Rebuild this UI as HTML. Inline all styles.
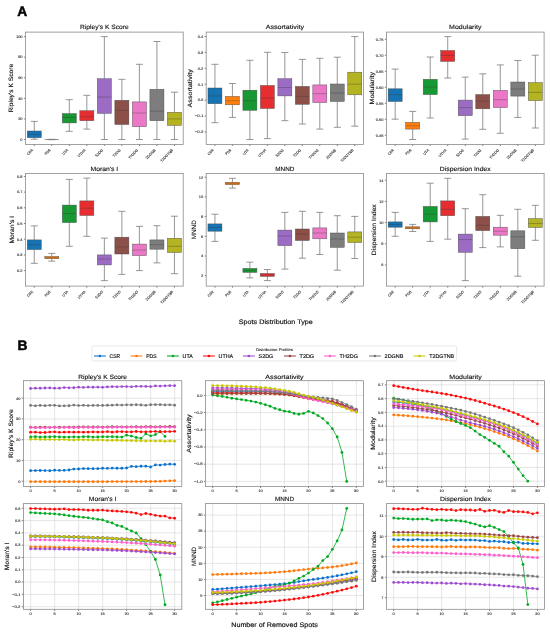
<!DOCTYPE html>
<html><head><meta charset="utf-8"><style>
html,body{margin:0;padding:0;background:#fff;width:550px;height:632px;overflow:hidden}
svg{display:block;font-family:"Liberation Sans",sans-serif;text-rendering:geometricPrecision;will-change:transform;filter:blur(0.35px)}
</style></head><body>
<svg width="550" height="632" viewBox="0 0 550 632"><defs><clipPath id="c0"><rect x="23.40" y="377.70" width="158.40" height="111.70"/></clipPath><clipPath id="c1"><rect x="205.50" y="377.70" width="158.00" height="111.70"/></clipPath><clipPath id="c2"><rect x="386.50" y="377.70" width="158.10" height="111.70"/></clipPath><clipPath id="c3"><rect x="23.40" y="500.60" width="158.40" height="111.70"/></clipPath><clipPath id="c4"><rect x="205.50" y="500.60" width="158.00" height="111.70"/></clipPath><clipPath id="c5"><rect x="386.50" y="500.60" width="158.10" height="111.70"/></clipPath></defs>
<rect width="550" height="632" fill="#fff"/>
<line x1="23.90" y1="139.50" x2="25.50" y2="139.50" stroke="#555" stroke-width="0.75"/>
<text x="22.60" y="140.80" font-size="3.65" text-anchor="end" fill="#111" textLength="2.23" lengthAdjust="spacingAndGlyphs" stroke="#111" stroke-width="0.08" >0</text>
<line x1="23.90" y1="118.92" x2="25.50" y2="118.92" stroke="#555" stroke-width="0.75"/>
<text x="22.60" y="120.22" font-size="3.65" text-anchor="end" fill="#111" textLength="4.45" lengthAdjust="spacingAndGlyphs" stroke="#111" stroke-width="0.08" >20</text>
<line x1="23.90" y1="98.34" x2="25.50" y2="98.34" stroke="#555" stroke-width="0.75"/>
<text x="22.60" y="99.64" font-size="3.65" text-anchor="end" fill="#111" textLength="4.45" lengthAdjust="spacingAndGlyphs" stroke="#111" stroke-width="0.08" >40</text>
<line x1="23.90" y1="77.76" x2="25.50" y2="77.76" stroke="#555" stroke-width="0.75"/>
<text x="22.60" y="79.06" font-size="3.65" text-anchor="end" fill="#111" textLength="4.45" lengthAdjust="spacingAndGlyphs" stroke="#111" stroke-width="0.08" >60</text>
<line x1="23.90" y1="57.18" x2="25.50" y2="57.18" stroke="#555" stroke-width="0.75"/>
<text x="22.60" y="58.48" font-size="3.65" text-anchor="end" fill="#111" textLength="4.45" lengthAdjust="spacingAndGlyphs" stroke="#111" stroke-width="0.08" >80</text>
<line x1="23.90" y1="36.60" x2="25.50" y2="36.60" stroke="#555" stroke-width="0.75"/>
<text x="22.60" y="37.90" font-size="3.65" text-anchor="end" fill="#111" textLength="6.68" lengthAdjust="spacingAndGlyphs" stroke="#111" stroke-width="0.08" >100</text>
<text x="104.35" y="29.45" font-size="6.25" text-anchor="middle" fill="#111" textLength="48.68" lengthAdjust="spacingAndGlyphs" stroke="#111" stroke-width="0.13" >Ripley&#39;s K Score</text>
<text x="0" y="0" font-size="6.25" text-anchor="middle" fill="#111" stroke="#111" stroke-width="0.13" textLength="48.68" lengthAdjust="spacingAndGlyphs" transform="translate(12.50,88.25) rotate(-90)">Ripley&#39;s K Score</text>
<line x1="34.26" y1="121.40" x2="34.26" y2="131.00" stroke="#7c7c7c" stroke-width="0.8"/>
<line x1="34.26" y1="137.70" x2="34.26" y2="139.20" stroke="#7c7c7c" stroke-width="0.8"/>
<line x1="30.76" y1="121.40" x2="37.77" y2="121.40" stroke="#7c7c7c" stroke-width="0.8"/>
<line x1="30.76" y1="139.20" x2="37.77" y2="139.20" stroke="#7c7c7c" stroke-width="0.8"/>
<rect x="27.25" y="131.00" width="14.02" height="6.70" fill="#1674b4" stroke="#444" stroke-opacity="0.85" stroke-width="0.5"/>
<line x1="27.25" y1="134.40" x2="41.27" y2="134.40" stroke="#333" stroke-opacity="0.55" stroke-width="0.6"/>
<line x1="34.26" y1="144.40" x2="34.26" y2="146.00" stroke="#555" stroke-width="0.75"/>
<text x="0" y="0" font-size="3.65" text-anchor="end" fill="#111" stroke="#111" stroke-width="0.08" textLength="7.10" lengthAdjust="spacingAndGlyphs" transform="translate(33.36,150.40) rotate(-45)">CSR</text>
<line x1="51.78" y1="139.30" x2="51.78" y2="139.30" stroke="#7c7c7c" stroke-width="0.8"/>
<line x1="51.78" y1="139.70" x2="51.78" y2="139.70" stroke="#7c7c7c" stroke-width="0.8"/>
<line x1="48.28" y1="139.30" x2="55.29" y2="139.30" stroke="#7c7c7c" stroke-width="0.8"/>
<line x1="48.28" y1="139.70" x2="55.29" y2="139.70" stroke="#7c7c7c" stroke-width="0.8"/>
<line x1="44.77" y1="139.50" x2="58.79" y2="139.50" stroke="#777" stroke-width="0.8"/>
<line x1="51.78" y1="144.40" x2="51.78" y2="146.00" stroke="#555" stroke-width="0.75"/>
<text x="0" y="0" font-size="3.65" text-anchor="end" fill="#111" stroke="#111" stroke-width="0.08" textLength="7.03" lengthAdjust="spacingAndGlyphs" transform="translate(50.88,150.40) rotate(-45)">PDS</text>
<line x1="69.31" y1="99.70" x2="69.31" y2="113.60" stroke="#7c7c7c" stroke-width="0.8"/>
<line x1="69.31" y1="122.90" x2="69.31" y2="131.30" stroke="#7c7c7c" stroke-width="0.8"/>
<line x1="65.80" y1="99.70" x2="72.81" y2="99.70" stroke="#7c7c7c" stroke-width="0.8"/>
<line x1="65.80" y1="131.30" x2="72.81" y2="131.30" stroke="#7c7c7c" stroke-width="0.8"/>
<rect x="62.30" y="113.60" width="14.02" height="9.30" fill="#179832" stroke="#444" stroke-opacity="0.85" stroke-width="0.5"/>
<line x1="62.30" y1="117.40" x2="76.31" y2="117.40" stroke="#333" stroke-opacity="0.55" stroke-width="0.6"/>
<line x1="69.31" y1="144.40" x2="69.31" y2="146.00" stroke="#555" stroke-width="0.75"/>
<text x="0" y="0" font-size="3.65" text-anchor="end" fill="#111" stroke="#111" stroke-width="0.08" textLength="6.82" lengthAdjust="spacingAndGlyphs" transform="translate(68.41,150.40) rotate(-45)">UTA</text>
<line x1="86.83" y1="95.30" x2="86.83" y2="110.70" stroke="#7c7c7c" stroke-width="0.8"/>
<line x1="86.83" y1="120.70" x2="86.83" y2="129.10" stroke="#7c7c7c" stroke-width="0.8"/>
<line x1="83.32" y1="95.30" x2="90.33" y2="95.30" stroke="#7c7c7c" stroke-width="0.8"/>
<line x1="83.32" y1="129.10" x2="90.33" y2="129.10" stroke="#7c7c7c" stroke-width="0.8"/>
<rect x="79.82" y="110.70" width="14.02" height="10.00" fill="#e62e30" stroke="#444" stroke-opacity="0.85" stroke-width="0.5"/>
<line x1="79.82" y1="116.70" x2="93.84" y2="116.70" stroke="#333" stroke-opacity="0.55" stroke-width="0.6"/>
<line x1="86.83" y1="144.40" x2="86.83" y2="146.00" stroke="#555" stroke-width="0.75"/>
<text x="0" y="0" font-size="3.65" text-anchor="end" fill="#111" stroke="#111" stroke-width="0.08" textLength="9.73" lengthAdjust="spacingAndGlyphs" transform="translate(85.93,150.40) rotate(-45)">UTHA</text>
<line x1="104.35" y1="36.60" x2="104.35" y2="78.70" stroke="#7c7c7c" stroke-width="0.8"/>
<line x1="104.35" y1="113.40" x2="104.35" y2="139.50" stroke="#7c7c7c" stroke-width="0.8"/>
<line x1="100.85" y1="36.60" x2="107.85" y2="36.60" stroke="#7c7c7c" stroke-width="0.8"/>
<line x1="100.85" y1="139.50" x2="107.85" y2="139.50" stroke="#7c7c7c" stroke-width="0.8"/>
<rect x="97.34" y="78.70" width="14.02" height="34.70" fill="#9c6cc4" stroke="#444" stroke-opacity="0.85" stroke-width="0.5"/>
<line x1="97.34" y1="97.00" x2="111.36" y2="97.00" stroke="#333" stroke-opacity="0.55" stroke-width="0.6"/>
<line x1="104.35" y1="144.40" x2="104.35" y2="146.00" stroke="#555" stroke-width="0.75"/>
<text x="0" y="0" font-size="3.65" text-anchor="end" fill="#111" stroke="#111" stroke-width="0.08" textLength="9.86" lengthAdjust="spacingAndGlyphs" transform="translate(103.45,150.40) rotate(-45)">S2DG</text>
<line x1="121.87" y1="79.30" x2="121.87" y2="100.30" stroke="#7c7c7c" stroke-width="0.8"/>
<line x1="121.87" y1="124.50" x2="121.87" y2="139.50" stroke="#7c7c7c" stroke-width="0.8"/>
<line x1="118.37" y1="79.30" x2="125.38" y2="79.30" stroke="#7c7c7c" stroke-width="0.8"/>
<line x1="118.37" y1="139.50" x2="125.38" y2="139.50" stroke="#7c7c7c" stroke-width="0.8"/>
<rect x="114.86" y="100.30" width="14.02" height="24.20" fill="#8c5048" stroke="#444" stroke-opacity="0.85" stroke-width="0.5"/>
<line x1="114.86" y1="110.30" x2="128.88" y2="110.30" stroke="#333" stroke-opacity="0.55" stroke-width="0.6"/>
<line x1="121.87" y1="144.40" x2="121.87" y2="146.00" stroke="#555" stroke-width="0.75"/>
<text x="0" y="0" font-size="3.65" text-anchor="end" fill="#111" stroke="#111" stroke-width="0.08" textLength="9.77" lengthAdjust="spacingAndGlyphs" transform="translate(120.97,150.40) rotate(-45)">T2DG</text>
<line x1="139.39" y1="64.30" x2="139.39" y2="101.90" stroke="#7c7c7c" stroke-width="0.8"/>
<line x1="139.39" y1="126.70" x2="139.39" y2="139.50" stroke="#7c7c7c" stroke-width="0.8"/>
<line x1="135.89" y1="64.30" x2="142.90" y2="64.30" stroke="#7c7c7c" stroke-width="0.8"/>
<line x1="135.89" y1="139.50" x2="142.90" y2="139.50" stroke="#7c7c7c" stroke-width="0.8"/>
<rect x="132.39" y="101.90" width="14.02" height="24.80" fill="#eb78c6" stroke="#444" stroke-opacity="0.85" stroke-width="0.5"/>
<line x1="132.39" y1="113.00" x2="146.40" y2="113.00" stroke="#333" stroke-opacity="0.55" stroke-width="0.6"/>
<line x1="139.39" y1="144.40" x2="139.39" y2="146.00" stroke="#555" stroke-width="0.75"/>
<text x="0" y="0" font-size="3.65" text-anchor="end" fill="#111" stroke="#111" stroke-width="0.08" textLength="12.40" lengthAdjust="spacingAndGlyphs" transform="translate(138.49,150.40) rotate(-45)">TH2DG</text>
<line x1="156.92" y1="41.50" x2="156.92" y2="89.30" stroke="#7c7c7c" stroke-width="0.8"/>
<line x1="156.92" y1="120.70" x2="156.92" y2="139.50" stroke="#7c7c7c" stroke-width="0.8"/>
<line x1="153.41" y1="41.50" x2="160.42" y2="41.50" stroke="#7c7c7c" stroke-width="0.8"/>
<line x1="153.41" y1="139.50" x2="160.42" y2="139.50" stroke="#7c7c7c" stroke-width="0.8"/>
<rect x="149.91" y="89.30" width="14.02" height="31.40" fill="#7d7d7d" stroke="#444" stroke-opacity="0.85" stroke-width="0.5"/>
<line x1="149.91" y1="111.20" x2="163.93" y2="111.20" stroke="#333" stroke-opacity="0.55" stroke-width="0.6"/>
<line x1="156.92" y1="144.40" x2="156.92" y2="146.00" stroke="#555" stroke-width="0.75"/>
<text x="0" y="0" font-size="3.65" text-anchor="end" fill="#111" stroke="#111" stroke-width="0.08" textLength="12.65" lengthAdjust="spacingAndGlyphs" transform="translate(156.02,150.40) rotate(-45)">2DGNB</text>
<line x1="174.44" y1="92.20" x2="174.44" y2="112.30" stroke="#7c7c7c" stroke-width="0.8"/>
<line x1="174.44" y1="125.40" x2="174.44" y2="139.50" stroke="#7c7c7c" stroke-width="0.8"/>
<line x1="170.93" y1="92.20" x2="177.94" y2="92.20" stroke="#7c7c7c" stroke-width="0.8"/>
<line x1="170.93" y1="139.50" x2="177.94" y2="139.50" stroke="#7c7c7c" stroke-width="0.8"/>
<rect x="167.43" y="112.30" width="14.02" height="13.10" fill="#b4b422" stroke="#444" stroke-opacity="0.85" stroke-width="0.5"/>
<line x1="167.43" y1="118.90" x2="181.45" y2="118.90" stroke="#333" stroke-opacity="0.55" stroke-width="0.6"/>
<line x1="174.44" y1="144.40" x2="174.44" y2="146.00" stroke="#555" stroke-width="0.75"/>
<text x="0" y="0" font-size="3.65" text-anchor="end" fill="#111" stroke="#111" stroke-width="0.08" textLength="16.80" lengthAdjust="spacingAndGlyphs" transform="translate(173.54,150.40) rotate(-45)">T2DGTNB</text>
<rect x="25.50" y="32.10" width="157.70" height="112.30" fill="none" stroke="#8a8a8a" stroke-width="0.8"/>
<line x1="204.60" y1="131.90" x2="206.20" y2="131.90" stroke="#555" stroke-width="0.75"/>
<text x="203.30" y="133.20" font-size="3.65" text-anchor="end" fill="#111" textLength="8.50" lengthAdjust="spacingAndGlyphs" stroke="#111" stroke-width="0.08" >−0.2</text>
<line x1="204.60" y1="116.00" x2="206.20" y2="116.00" stroke="#555" stroke-width="0.75"/>
<text x="203.30" y="117.30" font-size="3.65" text-anchor="end" fill="#111" textLength="8.50" lengthAdjust="spacingAndGlyphs" stroke="#111" stroke-width="0.08" >−0.1</text>
<line x1="204.60" y1="100.10" x2="206.20" y2="100.10" stroke="#555" stroke-width="0.75"/>
<text x="203.30" y="101.40" font-size="3.65" text-anchor="end" fill="#111" textLength="5.57" lengthAdjust="spacingAndGlyphs" stroke="#111" stroke-width="0.08" >0.0</text>
<line x1="204.60" y1="84.20" x2="206.20" y2="84.20" stroke="#555" stroke-width="0.75"/>
<text x="203.30" y="85.50" font-size="3.65" text-anchor="end" fill="#111" textLength="5.57" lengthAdjust="spacingAndGlyphs" stroke="#111" stroke-width="0.08" >0.1</text>
<line x1="204.60" y1="68.30" x2="206.20" y2="68.30" stroke="#555" stroke-width="0.75"/>
<text x="203.30" y="69.60" font-size="3.65" text-anchor="end" fill="#111" textLength="5.57" lengthAdjust="spacingAndGlyphs" stroke="#111" stroke-width="0.08" >0.2</text>
<line x1="204.60" y1="52.40" x2="206.20" y2="52.40" stroke="#555" stroke-width="0.75"/>
<text x="203.30" y="53.70" font-size="3.65" text-anchor="end" fill="#111" textLength="5.57" lengthAdjust="spacingAndGlyphs" stroke="#111" stroke-width="0.08" >0.3</text>
<line x1="204.60" y1="36.50" x2="206.20" y2="36.50" stroke="#555" stroke-width="0.75"/>
<text x="203.30" y="37.80" font-size="3.65" text-anchor="end" fill="#111" textLength="5.57" lengthAdjust="spacingAndGlyphs" stroke="#111" stroke-width="0.08" >0.4</text>
<text x="284.85" y="29.45" font-size="6.25" text-anchor="middle" fill="#111" textLength="38.29" lengthAdjust="spacingAndGlyphs" stroke="#111" stroke-width="0.13" >Assortativity</text>
<text x="0" y="0" font-size="6.25" text-anchor="middle" fill="#111" stroke="#111" stroke-width="0.13" textLength="38.29" lengthAdjust="spacingAndGlyphs" transform="translate(191.50,88.25) rotate(-90)">Assortativity</text>
<line x1="214.94" y1="64.30" x2="214.94" y2="88.00" stroke="#7c7c7c" stroke-width="0.8"/>
<line x1="214.94" y1="103.70" x2="214.94" y2="122.70" stroke="#7c7c7c" stroke-width="0.8"/>
<line x1="211.44" y1="64.30" x2="218.43" y2="64.30" stroke="#7c7c7c" stroke-width="0.8"/>
<line x1="211.44" y1="122.70" x2="218.43" y2="122.70" stroke="#7c7c7c" stroke-width="0.8"/>
<rect x="207.95" y="88.00" width="13.98" height="15.70" fill="#1674b4" stroke="#444" stroke-opacity="0.85" stroke-width="0.5"/>
<line x1="207.95" y1="95.90" x2="221.93" y2="95.90" stroke="#333" stroke-opacity="0.55" stroke-width="0.6"/>
<line x1="214.94" y1="144.40" x2="214.94" y2="146.00" stroke="#555" stroke-width="0.75"/>
<text x="0" y="0" font-size="3.65" text-anchor="end" fill="#111" stroke="#111" stroke-width="0.08" textLength="7.10" lengthAdjust="spacingAndGlyphs" transform="translate(214.04,150.40) rotate(-45)">CSR</text>
<line x1="232.42" y1="83.50" x2="232.42" y2="96.40" stroke="#7c7c7c" stroke-width="0.8"/>
<line x1="232.42" y1="104.80" x2="232.42" y2="117.40" stroke="#7c7c7c" stroke-width="0.8"/>
<line x1="228.92" y1="83.50" x2="235.91" y2="83.50" stroke="#7c7c7c" stroke-width="0.8"/>
<line x1="228.92" y1="117.40" x2="235.91" y2="117.40" stroke="#7c7c7c" stroke-width="0.8"/>
<rect x="225.43" y="96.40" width="13.98" height="8.40" fill="#ff800e" stroke="#444" stroke-opacity="0.85" stroke-width="0.5"/>
<line x1="225.43" y1="100.80" x2="239.41" y2="100.80" stroke="#333" stroke-opacity="0.55" stroke-width="0.6"/>
<line x1="232.42" y1="144.40" x2="232.42" y2="146.00" stroke="#555" stroke-width="0.75"/>
<text x="0" y="0" font-size="3.65" text-anchor="end" fill="#111" stroke="#111" stroke-width="0.08" textLength="7.03" lengthAdjust="spacingAndGlyphs" transform="translate(231.52,150.40) rotate(-45)">PDS</text>
<line x1="249.89" y1="60.30" x2="249.89" y2="90.20" stroke="#7c7c7c" stroke-width="0.8"/>
<line x1="249.89" y1="110.30" x2="249.89" y2="139.50" stroke="#7c7c7c" stroke-width="0.8"/>
<line x1="246.40" y1="60.30" x2="253.39" y2="60.30" stroke="#7c7c7c" stroke-width="0.8"/>
<line x1="246.40" y1="139.50" x2="253.39" y2="139.50" stroke="#7c7c7c" stroke-width="0.8"/>
<rect x="242.90" y="90.20" width="13.98" height="20.10" fill="#179832" stroke="#444" stroke-opacity="0.85" stroke-width="0.5"/>
<line x1="242.90" y1="100.80" x2="256.89" y2="100.80" stroke="#333" stroke-opacity="0.55" stroke-width="0.6"/>
<line x1="249.89" y1="144.40" x2="249.89" y2="146.00" stroke="#555" stroke-width="0.75"/>
<text x="0" y="0" font-size="3.65" text-anchor="end" fill="#111" stroke="#111" stroke-width="0.08" textLength="6.82" lengthAdjust="spacingAndGlyphs" transform="translate(248.99,150.40) rotate(-45)">UTA</text>
<line x1="267.37" y1="52.30" x2="267.37" y2="85.50" stroke="#7c7c7c" stroke-width="0.8"/>
<line x1="267.37" y1="108.50" x2="267.37" y2="138.60" stroke="#7c7c7c" stroke-width="0.8"/>
<line x1="263.88" y1="52.30" x2="270.87" y2="52.30" stroke="#7c7c7c" stroke-width="0.8"/>
<line x1="263.88" y1="138.60" x2="270.87" y2="138.60" stroke="#7c7c7c" stroke-width="0.8"/>
<rect x="260.38" y="85.50" width="13.98" height="23.00" fill="#e62e30" stroke="#444" stroke-opacity="0.85" stroke-width="0.5"/>
<line x1="260.38" y1="98.10" x2="274.36" y2="98.10" stroke="#333" stroke-opacity="0.55" stroke-width="0.6"/>
<line x1="267.37" y1="144.40" x2="267.37" y2="146.00" stroke="#555" stroke-width="0.75"/>
<text x="0" y="0" font-size="3.65" text-anchor="end" fill="#111" stroke="#111" stroke-width="0.08" textLength="9.73" lengthAdjust="spacingAndGlyphs" transform="translate(266.47,150.40) rotate(-45)">UTHA</text>
<line x1="284.85" y1="52.50" x2="284.85" y2="78.70" stroke="#7c7c7c" stroke-width="0.8"/>
<line x1="284.85" y1="95.90" x2="284.85" y2="120.70" stroke="#7c7c7c" stroke-width="0.8"/>
<line x1="281.35" y1="52.50" x2="288.35" y2="52.50" stroke="#7c7c7c" stroke-width="0.8"/>
<line x1="281.35" y1="120.70" x2="288.35" y2="120.70" stroke="#7c7c7c" stroke-width="0.8"/>
<rect x="277.86" y="78.70" width="13.98" height="17.20" fill="#9c6cc4" stroke="#444" stroke-opacity="0.85" stroke-width="0.5"/>
<line x1="277.86" y1="87.50" x2="291.84" y2="87.50" stroke="#333" stroke-opacity="0.55" stroke-width="0.6"/>
<line x1="284.85" y1="144.40" x2="284.85" y2="146.00" stroke="#555" stroke-width="0.75"/>
<text x="0" y="0" font-size="3.65" text-anchor="end" fill="#111" stroke="#111" stroke-width="0.08" textLength="9.86" lengthAdjust="spacingAndGlyphs" transform="translate(283.95,150.40) rotate(-45)">S2DG</text>
<line x1="302.33" y1="59.40" x2="302.33" y2="86.40" stroke="#7c7c7c" stroke-width="0.8"/>
<line x1="302.33" y1="104.30" x2="302.33" y2="124.00" stroke="#7c7c7c" stroke-width="0.8"/>
<line x1="298.83" y1="59.40" x2="305.82" y2="59.40" stroke="#7c7c7c" stroke-width="0.8"/>
<line x1="298.83" y1="124.00" x2="305.82" y2="124.00" stroke="#7c7c7c" stroke-width="0.8"/>
<rect x="295.34" y="86.40" width="13.98" height="17.90" fill="#8c5048" stroke="#444" stroke-opacity="0.85" stroke-width="0.5"/>
<line x1="295.34" y1="96.40" x2="309.32" y2="96.40" stroke="#333" stroke-opacity="0.55" stroke-width="0.6"/>
<line x1="302.33" y1="144.40" x2="302.33" y2="146.00" stroke="#555" stroke-width="0.75"/>
<text x="0" y="0" font-size="3.65" text-anchor="end" fill="#111" stroke="#111" stroke-width="0.08" textLength="9.77" lengthAdjust="spacingAndGlyphs" transform="translate(301.43,150.40) rotate(-45)">T2DG</text>
<line x1="319.81" y1="58.30" x2="319.81" y2="84.90" stroke="#7c7c7c" stroke-width="0.8"/>
<line x1="319.81" y1="102.60" x2="319.81" y2="129.10" stroke="#7c7c7c" stroke-width="0.8"/>
<line x1="316.31" y1="58.30" x2="323.30" y2="58.30" stroke="#7c7c7c" stroke-width="0.8"/>
<line x1="316.31" y1="129.10" x2="323.30" y2="129.10" stroke="#7c7c7c" stroke-width="0.8"/>
<rect x="312.81" y="84.90" width="13.98" height="17.70" fill="#eb78c6" stroke="#444" stroke-opacity="0.85" stroke-width="0.5"/>
<line x1="312.81" y1="93.70" x2="326.80" y2="93.70" stroke="#333" stroke-opacity="0.55" stroke-width="0.6"/>
<line x1="319.81" y1="144.40" x2="319.81" y2="146.00" stroke="#555" stroke-width="0.75"/>
<text x="0" y="0" font-size="3.65" text-anchor="end" fill="#111" stroke="#111" stroke-width="0.08" textLength="12.40" lengthAdjust="spacingAndGlyphs" transform="translate(318.91,150.40) rotate(-45)">TH2DG</text>
<line x1="337.28" y1="57.20" x2="337.28" y2="84.00" stroke="#7c7c7c" stroke-width="0.8"/>
<line x1="337.28" y1="101.50" x2="337.28" y2="127.30" stroke="#7c7c7c" stroke-width="0.8"/>
<line x1="333.79" y1="57.20" x2="340.78" y2="57.20" stroke="#7c7c7c" stroke-width="0.8"/>
<line x1="333.79" y1="127.30" x2="340.78" y2="127.30" stroke="#7c7c7c" stroke-width="0.8"/>
<rect x="330.29" y="84.00" width="13.98" height="17.50" fill="#7d7d7d" stroke="#444" stroke-opacity="0.85" stroke-width="0.5"/>
<line x1="330.29" y1="93.00" x2="344.27" y2="93.00" stroke="#333" stroke-opacity="0.55" stroke-width="0.6"/>
<line x1="337.28" y1="144.40" x2="337.28" y2="146.00" stroke="#555" stroke-width="0.75"/>
<text x="0" y="0" font-size="3.65" text-anchor="end" fill="#111" stroke="#111" stroke-width="0.08" textLength="12.65" lengthAdjust="spacingAndGlyphs" transform="translate(336.38,150.40) rotate(-45)">2DGNB</text>
<line x1="354.76" y1="36.60" x2="354.76" y2="72.20" stroke="#7c7c7c" stroke-width="0.8"/>
<line x1="354.76" y1="94.80" x2="354.76" y2="126.20" stroke="#7c7c7c" stroke-width="0.8"/>
<line x1="351.27" y1="36.60" x2="358.26" y2="36.60" stroke="#7c7c7c" stroke-width="0.8"/>
<line x1="351.27" y1="126.20" x2="358.26" y2="126.20" stroke="#7c7c7c" stroke-width="0.8"/>
<rect x="347.77" y="72.20" width="13.98" height="22.60" fill="#b4b422" stroke="#444" stroke-opacity="0.85" stroke-width="0.5"/>
<line x1="347.77" y1="84.20" x2="361.75" y2="84.20" stroke="#333" stroke-opacity="0.55" stroke-width="0.6"/>
<line x1="354.76" y1="144.40" x2="354.76" y2="146.00" stroke="#555" stroke-width="0.75"/>
<text x="0" y="0" font-size="3.65" text-anchor="end" fill="#111" stroke="#111" stroke-width="0.08" textLength="16.80" lengthAdjust="spacingAndGlyphs" transform="translate(353.86,150.40) rotate(-45)">T2DGTNB</text>
<rect x="206.20" y="32.10" width="157.30" height="112.30" fill="none" stroke="#8a8a8a" stroke-width="0.8"/>
<line x1="384.80" y1="135.30" x2="386.40" y2="135.30" stroke="#555" stroke-width="0.75"/>
<text x="383.50" y="136.60" font-size="3.65" text-anchor="end" fill="#111" textLength="7.79" lengthAdjust="spacingAndGlyphs" stroke="#111" stroke-width="0.08" >0.45</text>
<line x1="384.80" y1="119.30" x2="386.40" y2="119.30" stroke="#555" stroke-width="0.75"/>
<text x="383.50" y="120.60" font-size="3.65" text-anchor="end" fill="#111" textLength="7.79" lengthAdjust="spacingAndGlyphs" stroke="#111" stroke-width="0.08" >0.50</text>
<line x1="384.80" y1="103.30" x2="386.40" y2="103.30" stroke="#555" stroke-width="0.75"/>
<text x="383.50" y="104.60" font-size="3.65" text-anchor="end" fill="#111" textLength="7.79" lengthAdjust="spacingAndGlyphs" stroke="#111" stroke-width="0.08" >0.55</text>
<line x1="384.80" y1="87.30" x2="386.40" y2="87.30" stroke="#555" stroke-width="0.75"/>
<text x="383.50" y="88.60" font-size="3.65" text-anchor="end" fill="#111" textLength="7.79" lengthAdjust="spacingAndGlyphs" stroke="#111" stroke-width="0.08" >0.60</text>
<line x1="384.80" y1="71.30" x2="386.40" y2="71.30" stroke="#555" stroke-width="0.75"/>
<text x="383.50" y="72.60" font-size="3.65" text-anchor="end" fill="#111" textLength="7.79" lengthAdjust="spacingAndGlyphs" stroke="#111" stroke-width="0.08" >0.65</text>
<line x1="384.80" y1="55.30" x2="386.40" y2="55.30" stroke="#555" stroke-width="0.75"/>
<text x="383.50" y="56.60" font-size="3.65" text-anchor="end" fill="#111" textLength="7.79" lengthAdjust="spacingAndGlyphs" stroke="#111" stroke-width="0.08" >0.70</text>
<line x1="384.80" y1="39.30" x2="386.40" y2="39.30" stroke="#555" stroke-width="0.75"/>
<text x="383.50" y="40.60" font-size="3.65" text-anchor="end" fill="#111" textLength="7.79" lengthAdjust="spacingAndGlyphs" stroke="#111" stroke-width="0.08" >0.75</text>
<text x="465.25" y="29.45" font-size="6.25" text-anchor="middle" fill="#111" textLength="32.37" lengthAdjust="spacingAndGlyphs" stroke="#111" stroke-width="0.13" >Modularity</text>
<text x="0" y="0" font-size="6.25" text-anchor="middle" fill="#111" stroke="#111" stroke-width="0.13" textLength="32.37" lengthAdjust="spacingAndGlyphs" transform="translate(373.80,88.25) rotate(-90)">Modularity</text>
<line x1="395.16" y1="69.10" x2="395.16" y2="88.80" stroke="#7c7c7c" stroke-width="0.8"/>
<line x1="395.16" y1="101.50" x2="395.16" y2="119.20" stroke="#7c7c7c" stroke-width="0.8"/>
<line x1="391.66" y1="69.10" x2="398.67" y2="69.10" stroke="#7c7c7c" stroke-width="0.8"/>
<line x1="391.66" y1="119.20" x2="398.67" y2="119.20" stroke="#7c7c7c" stroke-width="0.8"/>
<rect x="388.15" y="88.80" width="14.02" height="12.70" fill="#1674b4" stroke="#444" stroke-opacity="0.85" stroke-width="0.5"/>
<line x1="388.15" y1="94.80" x2="402.17" y2="94.80" stroke="#333" stroke-opacity="0.55" stroke-width="0.6"/>
<line x1="395.16" y1="144.40" x2="395.16" y2="146.00" stroke="#555" stroke-width="0.75"/>
<text x="0" y="0" font-size="3.65" text-anchor="end" fill="#111" stroke="#111" stroke-width="0.08" textLength="7.10" lengthAdjust="spacingAndGlyphs" transform="translate(394.26,150.40) rotate(-45)">CSR</text>
<line x1="412.68" y1="111.40" x2="412.68" y2="122.30" stroke="#7c7c7c" stroke-width="0.8"/>
<line x1="412.68" y1="129.10" x2="412.68" y2="139.50" stroke="#7c7c7c" stroke-width="0.8"/>
<line x1="409.18" y1="111.40" x2="416.19" y2="111.40" stroke="#7c7c7c" stroke-width="0.8"/>
<line x1="409.18" y1="139.50" x2="416.19" y2="139.50" stroke="#7c7c7c" stroke-width="0.8"/>
<rect x="405.67" y="122.30" width="14.02" height="6.80" fill="#ff800e" stroke="#444" stroke-opacity="0.85" stroke-width="0.5"/>
<line x1="405.67" y1="125.80" x2="419.69" y2="125.80" stroke="#333" stroke-opacity="0.55" stroke-width="0.6"/>
<line x1="412.68" y1="144.40" x2="412.68" y2="146.00" stroke="#555" stroke-width="0.75"/>
<text x="0" y="0" font-size="3.65" text-anchor="end" fill="#111" stroke="#111" stroke-width="0.08" textLength="7.03" lengthAdjust="spacingAndGlyphs" transform="translate(411.78,150.40) rotate(-45)">PDS</text>
<line x1="430.21" y1="57.00" x2="430.21" y2="79.30" stroke="#7c7c7c" stroke-width="0.8"/>
<line x1="430.21" y1="94.60" x2="430.21" y2="118.00" stroke="#7c7c7c" stroke-width="0.8"/>
<line x1="426.70" y1="57.00" x2="433.71" y2="57.00" stroke="#7c7c7c" stroke-width="0.8"/>
<line x1="426.70" y1="118.00" x2="433.71" y2="118.00" stroke="#7c7c7c" stroke-width="0.8"/>
<rect x="423.20" y="79.30" width="14.02" height="15.30" fill="#179832" stroke="#444" stroke-opacity="0.85" stroke-width="0.5"/>
<line x1="423.20" y1="87.10" x2="437.21" y2="87.10" stroke="#333" stroke-opacity="0.55" stroke-width="0.6"/>
<line x1="430.21" y1="144.40" x2="430.21" y2="146.00" stroke="#555" stroke-width="0.75"/>
<text x="0" y="0" font-size="3.65" text-anchor="end" fill="#111" stroke="#111" stroke-width="0.08" textLength="6.82" lengthAdjust="spacingAndGlyphs" transform="translate(429.31,150.40) rotate(-45)">UTA</text>
<line x1="447.73" y1="36.60" x2="447.73" y2="50.50" stroke="#7c7c7c" stroke-width="0.8"/>
<line x1="447.73" y1="61.40" x2="447.73" y2="78.00" stroke="#7c7c7c" stroke-width="0.8"/>
<line x1="444.22" y1="36.60" x2="451.23" y2="36.60" stroke="#7c7c7c" stroke-width="0.8"/>
<line x1="444.22" y1="78.00" x2="451.23" y2="78.00" stroke="#7c7c7c" stroke-width="0.8"/>
<rect x="440.72" y="50.50" width="14.02" height="10.90" fill="#e62e30" stroke="#444" stroke-opacity="0.85" stroke-width="0.5"/>
<line x1="440.72" y1="55.40" x2="454.74" y2="55.40" stroke="#333" stroke-opacity="0.55" stroke-width="0.6"/>
<line x1="447.73" y1="144.40" x2="447.73" y2="146.00" stroke="#555" stroke-width="0.75"/>
<text x="0" y="0" font-size="3.65" text-anchor="end" fill="#111" stroke="#111" stroke-width="0.08" textLength="9.73" lengthAdjust="spacingAndGlyphs" transform="translate(446.83,150.40) rotate(-45)">UTHA</text>
<line x1="465.25" y1="77.10" x2="465.25" y2="100.10" stroke="#7c7c7c" stroke-width="0.8"/>
<line x1="465.25" y1="115.60" x2="465.25" y2="139.10" stroke="#7c7c7c" stroke-width="0.8"/>
<line x1="461.75" y1="77.10" x2="468.75" y2="77.10" stroke="#7c7c7c" stroke-width="0.8"/>
<line x1="461.75" y1="139.10" x2="468.75" y2="139.10" stroke="#7c7c7c" stroke-width="0.8"/>
<rect x="458.24" y="100.10" width="14.02" height="15.50" fill="#9c6cc4" stroke="#444" stroke-opacity="0.85" stroke-width="0.5"/>
<line x1="458.24" y1="107.60" x2="472.26" y2="107.60" stroke="#333" stroke-opacity="0.55" stroke-width="0.6"/>
<line x1="465.25" y1="144.40" x2="465.25" y2="146.00" stroke="#555" stroke-width="0.75"/>
<text x="0" y="0" font-size="3.65" text-anchor="end" fill="#111" stroke="#111" stroke-width="0.08" textLength="9.86" lengthAdjust="spacingAndGlyphs" transform="translate(464.35,150.40) rotate(-45)">S2DG</text>
<line x1="482.77" y1="73.80" x2="482.77" y2="94.60" stroke="#7c7c7c" stroke-width="0.8"/>
<line x1="482.77" y1="108.80" x2="482.77" y2="129.30" stroke="#7c7c7c" stroke-width="0.8"/>
<line x1="479.27" y1="73.80" x2="486.28" y2="73.80" stroke="#7c7c7c" stroke-width="0.8"/>
<line x1="479.27" y1="129.30" x2="486.28" y2="129.30" stroke="#7c7c7c" stroke-width="0.8"/>
<rect x="475.76" y="94.60" width="14.02" height="14.20" fill="#8c5048" stroke="#444" stroke-opacity="0.85" stroke-width="0.5"/>
<line x1="475.76" y1="101.20" x2="489.78" y2="101.20" stroke="#333" stroke-opacity="0.55" stroke-width="0.6"/>
<line x1="482.77" y1="144.40" x2="482.77" y2="146.00" stroke="#555" stroke-width="0.75"/>
<text x="0" y="0" font-size="3.65" text-anchor="end" fill="#111" stroke="#111" stroke-width="0.08" textLength="9.77" lengthAdjust="spacingAndGlyphs" transform="translate(481.87,150.40) rotate(-45)">T2DG</text>
<line x1="500.29" y1="64.90" x2="500.29" y2="90.40" stroke="#7c7c7c" stroke-width="0.8"/>
<line x1="500.29" y1="107.60" x2="500.29" y2="133.30" stroke="#7c7c7c" stroke-width="0.8"/>
<line x1="496.79" y1="64.90" x2="503.80" y2="64.90" stroke="#7c7c7c" stroke-width="0.8"/>
<line x1="496.79" y1="133.30" x2="503.80" y2="133.30" stroke="#7c7c7c" stroke-width="0.8"/>
<rect x="493.29" y="90.40" width="14.02" height="17.20" fill="#eb78c6" stroke="#444" stroke-opacity="0.85" stroke-width="0.5"/>
<line x1="493.29" y1="99.70" x2="507.30" y2="99.70" stroke="#333" stroke-opacity="0.55" stroke-width="0.6"/>
<line x1="500.29" y1="144.40" x2="500.29" y2="146.00" stroke="#555" stroke-width="0.75"/>
<text x="0" y="0" font-size="3.65" text-anchor="end" fill="#111" stroke="#111" stroke-width="0.08" textLength="12.40" lengthAdjust="spacingAndGlyphs" transform="translate(499.39,150.40) rotate(-45)">TH2DG</text>
<line x1="517.82" y1="60.50" x2="517.82" y2="82.00" stroke="#7c7c7c" stroke-width="0.8"/>
<line x1="517.82" y1="96.10" x2="517.82" y2="117.40" stroke="#7c7c7c" stroke-width="0.8"/>
<line x1="514.31" y1="60.50" x2="521.32" y2="60.50" stroke="#7c7c7c" stroke-width="0.8"/>
<line x1="514.31" y1="117.40" x2="521.32" y2="117.40" stroke="#7c7c7c" stroke-width="0.8"/>
<rect x="510.81" y="82.00" width="14.02" height="14.10" fill="#7d7d7d" stroke="#444" stroke-opacity="0.85" stroke-width="0.5"/>
<line x1="510.81" y1="89.00" x2="524.83" y2="89.00" stroke="#333" stroke-opacity="0.55" stroke-width="0.6"/>
<line x1="517.82" y1="144.40" x2="517.82" y2="146.00" stroke="#555" stroke-width="0.75"/>
<text x="0" y="0" font-size="3.65" text-anchor="end" fill="#111" stroke="#111" stroke-width="0.08" textLength="12.65" lengthAdjust="spacingAndGlyphs" transform="translate(516.92,150.40) rotate(-45)">2DGNB</text>
<line x1="535.34" y1="55.20" x2="535.34" y2="82.60" stroke="#7c7c7c" stroke-width="0.8"/>
<line x1="535.34" y1="100.60" x2="535.34" y2="128.00" stroke="#7c7c7c" stroke-width="0.8"/>
<line x1="531.83" y1="55.20" x2="538.84" y2="55.20" stroke="#7c7c7c" stroke-width="0.8"/>
<line x1="531.83" y1="128.00" x2="538.84" y2="128.00" stroke="#7c7c7c" stroke-width="0.8"/>
<rect x="528.33" y="82.60" width="14.02" height="18.00" fill="#b4b422" stroke="#444" stroke-opacity="0.85" stroke-width="0.5"/>
<line x1="528.33" y1="92.40" x2="542.35" y2="92.40" stroke="#333" stroke-opacity="0.55" stroke-width="0.6"/>
<line x1="535.34" y1="144.40" x2="535.34" y2="146.00" stroke="#555" stroke-width="0.75"/>
<text x="0" y="0" font-size="3.65" text-anchor="end" fill="#111" stroke="#111" stroke-width="0.08" textLength="16.80" lengthAdjust="spacingAndGlyphs" transform="translate(534.44,150.40) rotate(-45)">T2DGTNB</text>
<rect x="386.40" y="32.10" width="157.70" height="112.30" fill="none" stroke="#8a8a8a" stroke-width="0.8"/>
<line x1="23.90" y1="270.60" x2="25.50" y2="270.60" stroke="#555" stroke-width="0.75"/>
<text x="22.60" y="271.90" font-size="3.65" text-anchor="end" fill="#111" textLength="5.57" lengthAdjust="spacingAndGlyphs" stroke="#111" stroke-width="0.08" >0.2</text>
<line x1="23.90" y1="254.90" x2="25.50" y2="254.90" stroke="#555" stroke-width="0.75"/>
<text x="22.60" y="256.20" font-size="3.65" text-anchor="end" fill="#111" textLength="5.57" lengthAdjust="spacingAndGlyphs" stroke="#111" stroke-width="0.08" >0.3</text>
<line x1="23.90" y1="239.20" x2="25.50" y2="239.20" stroke="#555" stroke-width="0.75"/>
<text x="22.60" y="240.50" font-size="3.65" text-anchor="end" fill="#111" textLength="5.57" lengthAdjust="spacingAndGlyphs" stroke="#111" stroke-width="0.08" >0.4</text>
<line x1="23.90" y1="223.50" x2="25.50" y2="223.50" stroke="#555" stroke-width="0.75"/>
<text x="22.60" y="224.80" font-size="3.65" text-anchor="end" fill="#111" textLength="5.57" lengthAdjust="spacingAndGlyphs" stroke="#111" stroke-width="0.08" >0.5</text>
<line x1="23.90" y1="207.80" x2="25.50" y2="207.80" stroke="#555" stroke-width="0.75"/>
<text x="22.60" y="209.10" font-size="3.65" text-anchor="end" fill="#111" textLength="5.57" lengthAdjust="spacingAndGlyphs" stroke="#111" stroke-width="0.08" >0.6</text>
<line x1="23.90" y1="192.10" x2="25.50" y2="192.10" stroke="#555" stroke-width="0.75"/>
<text x="22.60" y="193.40" font-size="3.65" text-anchor="end" fill="#111" textLength="5.57" lengthAdjust="spacingAndGlyphs" stroke="#111" stroke-width="0.08" >0.7</text>
<line x1="23.90" y1="176.40" x2="25.50" y2="176.40" stroke="#555" stroke-width="0.75"/>
<text x="22.60" y="177.70" font-size="3.65" text-anchor="end" fill="#111" textLength="5.57" lengthAdjust="spacingAndGlyphs" stroke="#111" stroke-width="0.08" >0.8</text>
<text x="104.35" y="170.75" font-size="6.25" text-anchor="middle" fill="#111" textLength="27.70" lengthAdjust="spacingAndGlyphs" stroke="#111" stroke-width="0.13" >Moran&#39;s I</text>
<text x="0" y="0" font-size="6.25" text-anchor="middle" fill="#111" stroke="#111" stroke-width="0.13" textLength="27.70" lengthAdjust="spacingAndGlyphs" transform="translate(14.20,229.75) rotate(-90)">Moran&#39;s I</text>
<line x1="34.26" y1="225.90" x2="34.26" y2="239.90" stroke="#7c7c7c" stroke-width="0.8"/>
<line x1="34.26" y1="249.60" x2="34.26" y2="263.30" stroke="#7c7c7c" stroke-width="0.8"/>
<line x1="30.76" y1="225.90" x2="37.77" y2="225.90" stroke="#7c7c7c" stroke-width="0.8"/>
<line x1="30.76" y1="263.30" x2="37.77" y2="263.30" stroke="#7c7c7c" stroke-width="0.8"/>
<rect x="27.25" y="239.90" width="14.02" height="9.70" fill="#1674b4" stroke="#444" stroke-opacity="0.85" stroke-width="0.5"/>
<line x1="27.25" y1="244.70" x2="41.27" y2="244.70" stroke="#333" stroke-opacity="0.55" stroke-width="0.6"/>
<line x1="34.26" y1="286.10" x2="34.26" y2="287.70" stroke="#555" stroke-width="0.75"/>
<text x="0" y="0" font-size="3.65" text-anchor="end" fill="#111" stroke="#111" stroke-width="0.08" textLength="7.10" lengthAdjust="spacingAndGlyphs" transform="translate(33.36,292.10) rotate(-45)">CSR</text>
<line x1="51.78" y1="253.40" x2="51.78" y2="256.50" stroke="#7c7c7c" stroke-width="0.8"/>
<line x1="51.78" y1="258.70" x2="51.78" y2="261.10" stroke="#7c7c7c" stroke-width="0.8"/>
<line x1="48.28" y1="253.40" x2="55.29" y2="253.40" stroke="#7c7c7c" stroke-width="0.8"/>
<line x1="48.28" y1="261.10" x2="55.29" y2="261.10" stroke="#7c7c7c" stroke-width="0.8"/>
<rect x="44.77" y="256.50" width="14.02" height="2.20" fill="#ff800e" stroke="#444" stroke-opacity="0.85" stroke-width="0.5"/>
<line x1="44.77" y1="257.60" x2="58.79" y2="257.60" stroke="#333" stroke-opacity="0.55" stroke-width="0.6"/>
<line x1="51.78" y1="286.10" x2="51.78" y2="287.70" stroke="#555" stroke-width="0.75"/>
<text x="0" y="0" font-size="3.65" text-anchor="end" fill="#111" stroke="#111" stroke-width="0.08" textLength="7.03" lengthAdjust="spacingAndGlyphs" transform="translate(50.88,292.10) rotate(-45)">PDS</text>
<line x1="69.31" y1="179.40" x2="69.31" y2="205.10" stroke="#7c7c7c" stroke-width="0.8"/>
<line x1="69.31" y1="222.60" x2="69.31" y2="246.30" stroke="#7c7c7c" stroke-width="0.8"/>
<line x1="65.80" y1="179.40" x2="72.81" y2="179.40" stroke="#7c7c7c" stroke-width="0.8"/>
<line x1="65.80" y1="246.30" x2="72.81" y2="246.30" stroke="#7c7c7c" stroke-width="0.8"/>
<rect x="62.30" y="205.10" width="14.02" height="17.50" fill="#179832" stroke="#444" stroke-opacity="0.85" stroke-width="0.5"/>
<line x1="62.30" y1="213.50" x2="76.31" y2="213.50" stroke="#333" stroke-opacity="0.55" stroke-width="0.6"/>
<line x1="69.31" y1="286.10" x2="69.31" y2="287.70" stroke="#555" stroke-width="0.75"/>
<text x="0" y="0" font-size="3.65" text-anchor="end" fill="#111" stroke="#111" stroke-width="0.08" textLength="6.82" lengthAdjust="spacingAndGlyphs" transform="translate(68.41,292.10) rotate(-45)">UTA</text>
<line x1="86.83" y1="178.10" x2="86.83" y2="200.90" stroke="#7c7c7c" stroke-width="0.8"/>
<line x1="86.83" y1="215.50" x2="86.83" y2="236.30" stroke="#7c7c7c" stroke-width="0.8"/>
<line x1="83.32" y1="178.10" x2="90.33" y2="178.10" stroke="#7c7c7c" stroke-width="0.8"/>
<line x1="83.32" y1="236.30" x2="90.33" y2="236.30" stroke="#7c7c7c" stroke-width="0.8"/>
<rect x="79.82" y="200.90" width="14.02" height="14.60" fill="#e62e30" stroke="#444" stroke-opacity="0.85" stroke-width="0.5"/>
<line x1="79.82" y1="208.20" x2="93.84" y2="208.20" stroke="#333" stroke-opacity="0.55" stroke-width="0.6"/>
<line x1="86.83" y1="286.10" x2="86.83" y2="287.70" stroke="#555" stroke-width="0.75"/>
<text x="0" y="0" font-size="3.65" text-anchor="end" fill="#111" stroke="#111" stroke-width="0.08" textLength="9.73" lengthAdjust="spacingAndGlyphs" transform="translate(85.93,292.10) rotate(-45)">UTHA</text>
<line x1="104.35" y1="238.10" x2="104.35" y2="254.90" stroke="#7c7c7c" stroke-width="0.8"/>
<line x1="104.35" y1="264.90" x2="104.35" y2="280.60" stroke="#7c7c7c" stroke-width="0.8"/>
<line x1="100.85" y1="238.10" x2="107.85" y2="238.10" stroke="#7c7c7c" stroke-width="0.8"/>
<line x1="100.85" y1="280.60" x2="107.85" y2="280.60" stroke="#7c7c7c" stroke-width="0.8"/>
<rect x="97.34" y="254.90" width="14.02" height="10.00" fill="#9c6cc4" stroke="#444" stroke-opacity="0.85" stroke-width="0.5"/>
<line x1="97.34" y1="259.10" x2="111.36" y2="259.10" stroke="#333" stroke-opacity="0.55" stroke-width="0.6"/>
<line x1="104.35" y1="286.10" x2="104.35" y2="287.70" stroke="#555" stroke-width="0.75"/>
<text x="0" y="0" font-size="3.65" text-anchor="end" fill="#111" stroke="#111" stroke-width="0.08" textLength="9.86" lengthAdjust="spacingAndGlyphs" transform="translate(103.45,292.10) rotate(-45)">S2DG</text>
<line x1="121.87" y1="211.30" x2="121.87" y2="237.20" stroke="#7c7c7c" stroke-width="0.8"/>
<line x1="121.87" y1="254.00" x2="121.87" y2="274.40" stroke="#7c7c7c" stroke-width="0.8"/>
<line x1="118.37" y1="211.30" x2="125.38" y2="211.30" stroke="#7c7c7c" stroke-width="0.8"/>
<line x1="118.37" y1="274.40" x2="125.38" y2="274.40" stroke="#7c7c7c" stroke-width="0.8"/>
<rect x="114.86" y="237.20" width="14.02" height="16.80" fill="#8c5048" stroke="#444" stroke-opacity="0.85" stroke-width="0.5"/>
<line x1="114.86" y1="246.90" x2="128.88" y2="246.90" stroke="#333" stroke-opacity="0.55" stroke-width="0.6"/>
<line x1="121.87" y1="286.10" x2="121.87" y2="287.70" stroke="#555" stroke-width="0.75"/>
<text x="0" y="0" font-size="3.65" text-anchor="end" fill="#111" stroke="#111" stroke-width="0.08" textLength="9.77" lengthAdjust="spacingAndGlyphs" transform="translate(120.97,292.10) rotate(-45)">T2DG</text>
<line x1="139.39" y1="226.40" x2="139.39" y2="244.10" stroke="#7c7c7c" stroke-width="0.8"/>
<line x1="139.39" y1="255.60" x2="139.39" y2="270.60" stroke="#7c7c7c" stroke-width="0.8"/>
<line x1="135.89" y1="226.40" x2="142.90" y2="226.40" stroke="#7c7c7c" stroke-width="0.8"/>
<line x1="135.89" y1="270.60" x2="142.90" y2="270.60" stroke="#7c7c7c" stroke-width="0.8"/>
<rect x="132.39" y="244.10" width="14.02" height="11.50" fill="#eb78c6" stroke="#444" stroke-opacity="0.85" stroke-width="0.5"/>
<line x1="132.39" y1="250.00" x2="146.40" y2="250.00" stroke="#333" stroke-opacity="0.55" stroke-width="0.6"/>
<line x1="139.39" y1="286.10" x2="139.39" y2="287.70" stroke="#555" stroke-width="0.75"/>
<text x="0" y="0" font-size="3.65" text-anchor="end" fill="#111" stroke="#111" stroke-width="0.08" textLength="12.40" lengthAdjust="spacingAndGlyphs" transform="translate(138.49,292.10) rotate(-45)">TH2DG</text>
<line x1="156.92" y1="225.70" x2="156.92" y2="239.90" stroke="#7c7c7c" stroke-width="0.8"/>
<line x1="156.92" y1="249.20" x2="156.92" y2="262.90" stroke="#7c7c7c" stroke-width="0.8"/>
<line x1="153.41" y1="225.70" x2="160.42" y2="225.70" stroke="#7c7c7c" stroke-width="0.8"/>
<line x1="153.41" y1="262.90" x2="160.42" y2="262.90" stroke="#7c7c7c" stroke-width="0.8"/>
<rect x="149.91" y="239.90" width="14.02" height="9.30" fill="#7d7d7d" stroke="#444" stroke-opacity="0.85" stroke-width="0.5"/>
<line x1="149.91" y1="244.70" x2="163.93" y2="244.70" stroke="#333" stroke-opacity="0.55" stroke-width="0.6"/>
<line x1="156.92" y1="286.10" x2="156.92" y2="287.70" stroke="#555" stroke-width="0.75"/>
<text x="0" y="0" font-size="3.65" text-anchor="end" fill="#111" stroke="#111" stroke-width="0.08" textLength="12.65" lengthAdjust="spacingAndGlyphs" transform="translate(156.02,292.10) rotate(-45)">2DGNB</text>
<line x1="174.44" y1="216.20" x2="174.44" y2="238.30" stroke="#7c7c7c" stroke-width="0.8"/>
<line x1="174.44" y1="252.50" x2="174.44" y2="273.70" stroke="#7c7c7c" stroke-width="0.8"/>
<line x1="170.93" y1="216.20" x2="177.94" y2="216.20" stroke="#7c7c7c" stroke-width="0.8"/>
<line x1="170.93" y1="273.70" x2="177.94" y2="273.70" stroke="#7c7c7c" stroke-width="0.8"/>
<rect x="167.43" y="238.30" width="14.02" height="14.20" fill="#b4b422" stroke="#444" stroke-opacity="0.85" stroke-width="0.5"/>
<line x1="167.43" y1="246.30" x2="181.45" y2="246.30" stroke="#333" stroke-opacity="0.55" stroke-width="0.6"/>
<line x1="174.44" y1="286.10" x2="174.44" y2="287.70" stroke="#555" stroke-width="0.75"/>
<text x="0" y="0" font-size="3.65" text-anchor="end" fill="#111" stroke="#111" stroke-width="0.08" textLength="16.80" lengthAdjust="spacingAndGlyphs" transform="translate(173.54,292.10) rotate(-45)">T2DGTNB</text>
<rect x="25.50" y="173.40" width="157.70" height="112.70" fill="none" stroke="#8a8a8a" stroke-width="0.8"/>
<line x1="204.60" y1="275.70" x2="206.20" y2="275.70" stroke="#555" stroke-width="0.75"/>
<text x="203.30" y="277.00" font-size="3.65" text-anchor="end" fill="#111" textLength="2.23" lengthAdjust="spacingAndGlyphs" stroke="#111" stroke-width="0.08" >2</text>
<line x1="204.60" y1="256.00" x2="206.20" y2="256.00" stroke="#555" stroke-width="0.75"/>
<text x="203.30" y="257.30" font-size="3.65" text-anchor="end" fill="#111" textLength="2.23" lengthAdjust="spacingAndGlyphs" stroke="#111" stroke-width="0.08" >4</text>
<line x1="204.60" y1="236.30" x2="206.20" y2="236.30" stroke="#555" stroke-width="0.75"/>
<text x="203.30" y="237.60" font-size="3.65" text-anchor="end" fill="#111" textLength="2.23" lengthAdjust="spacingAndGlyphs" stroke="#111" stroke-width="0.08" >6</text>
<line x1="204.60" y1="216.60" x2="206.20" y2="216.60" stroke="#555" stroke-width="0.75"/>
<text x="203.30" y="217.90" font-size="3.65" text-anchor="end" fill="#111" textLength="2.23" lengthAdjust="spacingAndGlyphs" stroke="#111" stroke-width="0.08" >8</text>
<line x1="204.60" y1="196.90" x2="206.20" y2="196.90" stroke="#555" stroke-width="0.75"/>
<text x="203.30" y="198.20" font-size="3.65" text-anchor="end" fill="#111" textLength="4.45" lengthAdjust="spacingAndGlyphs" stroke="#111" stroke-width="0.08" >10</text>
<line x1="204.60" y1="177.20" x2="206.20" y2="177.20" stroke="#555" stroke-width="0.75"/>
<text x="203.30" y="178.50" font-size="3.65" text-anchor="end" fill="#111" textLength="4.45" lengthAdjust="spacingAndGlyphs" stroke="#111" stroke-width="0.08" >12</text>
<text x="284.85" y="170.75" font-size="6.25" text-anchor="middle" fill="#111" textLength="19.09" lengthAdjust="spacingAndGlyphs" stroke="#111" stroke-width="0.13" >MNND</text>
<text x="0" y="0" font-size="6.25" text-anchor="middle" fill="#111" stroke="#111" stroke-width="0.13" textLength="19.09" lengthAdjust="spacingAndGlyphs" transform="translate(196.00,229.75) rotate(-90)">MNND</text>
<line x1="214.94" y1="214.20" x2="214.94" y2="223.90" stroke="#7c7c7c" stroke-width="0.8"/>
<line x1="214.94" y1="231.20" x2="214.94" y2="241.40" stroke="#7c7c7c" stroke-width="0.8"/>
<line x1="211.44" y1="214.20" x2="218.43" y2="214.20" stroke="#7c7c7c" stroke-width="0.8"/>
<line x1="211.44" y1="241.40" x2="218.43" y2="241.40" stroke="#7c7c7c" stroke-width="0.8"/>
<rect x="207.95" y="223.90" width="13.98" height="7.30" fill="#1674b4" stroke="#444" stroke-opacity="0.85" stroke-width="0.5"/>
<line x1="207.95" y1="227.50" x2="221.93" y2="227.50" stroke="#333" stroke-opacity="0.55" stroke-width="0.6"/>
<line x1="214.94" y1="286.10" x2="214.94" y2="287.70" stroke="#555" stroke-width="0.75"/>
<text x="0" y="0" font-size="3.65" text-anchor="end" fill="#111" stroke="#111" stroke-width="0.08" textLength="7.10" lengthAdjust="spacingAndGlyphs" transform="translate(214.04,292.10) rotate(-45)">CSR</text>
<line x1="232.42" y1="178.30" x2="232.42" y2="182.30" stroke="#7c7c7c" stroke-width="0.8"/>
<line x1="232.42" y1="184.70" x2="232.42" y2="188.10" stroke="#7c7c7c" stroke-width="0.8"/>
<line x1="228.92" y1="178.30" x2="235.91" y2="178.30" stroke="#7c7c7c" stroke-width="0.8"/>
<line x1="228.92" y1="188.10" x2="235.91" y2="188.10" stroke="#7c7c7c" stroke-width="0.8"/>
<rect x="225.43" y="182.30" width="13.98" height="2.40" fill="#ff800e" stroke="#444" stroke-opacity="0.85" stroke-width="0.5"/>
<line x1="225.43" y1="183.40" x2="239.41" y2="183.40" stroke="#333" stroke-opacity="0.55" stroke-width="0.6"/>
<line x1="232.42" y1="286.10" x2="232.42" y2="287.70" stroke="#555" stroke-width="0.75"/>
<text x="0" y="0" font-size="3.65" text-anchor="end" fill="#111" stroke="#111" stroke-width="0.08" textLength="7.03" lengthAdjust="spacingAndGlyphs" transform="translate(231.52,292.10) rotate(-45)">PDS</text>
<line x1="249.89" y1="262.20" x2="249.89" y2="268.40" stroke="#7c7c7c" stroke-width="0.8"/>
<line x1="249.89" y1="272.40" x2="249.89" y2="277.90" stroke="#7c7c7c" stroke-width="0.8"/>
<line x1="246.40" y1="262.20" x2="253.39" y2="262.20" stroke="#7c7c7c" stroke-width="0.8"/>
<line x1="246.40" y1="277.90" x2="253.39" y2="277.90" stroke="#7c7c7c" stroke-width="0.8"/>
<rect x="242.90" y="268.40" width="13.98" height="4.00" fill="#179832" stroke="#444" stroke-opacity="0.85" stroke-width="0.5"/>
<line x1="242.90" y1="270.60" x2="256.89" y2="270.60" stroke="#333" stroke-opacity="0.55" stroke-width="0.6"/>
<line x1="249.89" y1="286.10" x2="249.89" y2="287.70" stroke="#555" stroke-width="0.75"/>
<text x="0" y="0" font-size="3.65" text-anchor="end" fill="#111" stroke="#111" stroke-width="0.08" textLength="6.82" lengthAdjust="spacingAndGlyphs" transform="translate(248.99,292.10) rotate(-45)">UTA</text>
<line x1="267.37" y1="269.50" x2="267.37" y2="273.50" stroke="#7c7c7c" stroke-width="0.8"/>
<line x1="267.37" y1="276.40" x2="267.37" y2="280.60" stroke="#7c7c7c" stroke-width="0.8"/>
<line x1="263.88" y1="269.50" x2="270.87" y2="269.50" stroke="#7c7c7c" stroke-width="0.8"/>
<line x1="263.88" y1="280.60" x2="270.87" y2="280.60" stroke="#7c7c7c" stroke-width="0.8"/>
<rect x="260.38" y="273.50" width="13.98" height="2.90" fill="#e62e30" stroke="#444" stroke-opacity="0.85" stroke-width="0.5"/>
<line x1="260.38" y1="275.00" x2="274.36" y2="275.00" stroke="#333" stroke-opacity="0.55" stroke-width="0.6"/>
<line x1="267.37" y1="286.10" x2="267.37" y2="287.70" stroke="#555" stroke-width="0.75"/>
<text x="0" y="0" font-size="3.65" text-anchor="end" fill="#111" stroke="#111" stroke-width="0.08" textLength="9.73" lengthAdjust="spacingAndGlyphs" transform="translate(266.47,292.10) rotate(-45)">UTHA</text>
<line x1="284.85" y1="212.40" x2="284.85" y2="230.10" stroke="#7c7c7c" stroke-width="0.8"/>
<line x1="284.85" y1="245.60" x2="284.85" y2="269.10" stroke="#7c7c7c" stroke-width="0.8"/>
<line x1="281.35" y1="212.40" x2="288.35" y2="212.40" stroke="#7c7c7c" stroke-width="0.8"/>
<line x1="281.35" y1="269.10" x2="288.35" y2="269.10" stroke="#7c7c7c" stroke-width="0.8"/>
<rect x="277.86" y="230.10" width="13.98" height="15.50" fill="#9c6cc4" stroke="#444" stroke-opacity="0.85" stroke-width="0.5"/>
<line x1="277.86" y1="235.90" x2="291.84" y2="235.90" stroke="#333" stroke-opacity="0.55" stroke-width="0.6"/>
<line x1="284.85" y1="286.10" x2="284.85" y2="287.70" stroke="#555" stroke-width="0.75"/>
<text x="0" y="0" font-size="3.65" text-anchor="end" fill="#111" stroke="#111" stroke-width="0.08" textLength="9.86" lengthAdjust="spacingAndGlyphs" transform="translate(283.95,292.10) rotate(-45)">S2DG</text>
<line x1="302.33" y1="211.30" x2="302.33" y2="229.00" stroke="#7c7c7c" stroke-width="0.8"/>
<line x1="302.33" y1="240.50" x2="302.33" y2="258.20" stroke="#7c7c7c" stroke-width="0.8"/>
<line x1="298.83" y1="211.30" x2="305.82" y2="211.30" stroke="#7c7c7c" stroke-width="0.8"/>
<line x1="298.83" y1="258.20" x2="305.82" y2="258.20" stroke="#7c7c7c" stroke-width="0.8"/>
<rect x="295.34" y="229.00" width="13.98" height="11.50" fill="#8c5048" stroke="#444" stroke-opacity="0.85" stroke-width="0.5"/>
<line x1="295.34" y1="234.10" x2="309.32" y2="234.10" stroke="#333" stroke-opacity="0.55" stroke-width="0.6"/>
<line x1="302.33" y1="286.10" x2="302.33" y2="287.70" stroke="#555" stroke-width="0.75"/>
<text x="0" y="0" font-size="3.65" text-anchor="end" fill="#111" stroke="#111" stroke-width="0.08" textLength="9.77" lengthAdjust="spacingAndGlyphs" transform="translate(301.43,292.10) rotate(-45)">T2DG</text>
<line x1="319.81" y1="212.40" x2="319.81" y2="227.90" stroke="#7c7c7c" stroke-width="0.8"/>
<line x1="319.81" y1="238.80" x2="319.81" y2="254.50" stroke="#7c7c7c" stroke-width="0.8"/>
<line x1="316.31" y1="212.40" x2="323.30" y2="212.40" stroke="#7c7c7c" stroke-width="0.8"/>
<line x1="316.31" y1="254.50" x2="323.30" y2="254.50" stroke="#7c7c7c" stroke-width="0.8"/>
<rect x="312.81" y="227.90" width="13.98" height="10.90" fill="#eb78c6" stroke="#444" stroke-opacity="0.85" stroke-width="0.5"/>
<line x1="312.81" y1="233.00" x2="326.80" y2="233.00" stroke="#333" stroke-opacity="0.55" stroke-width="0.6"/>
<line x1="319.81" y1="286.10" x2="319.81" y2="287.70" stroke="#555" stroke-width="0.75"/>
<text x="0" y="0" font-size="3.65" text-anchor="end" fill="#111" stroke="#111" stroke-width="0.08" textLength="12.40" lengthAdjust="spacingAndGlyphs" transform="translate(318.91,292.10) rotate(-45)">TH2DG</text>
<line x1="337.28" y1="215.70" x2="337.28" y2="233.00" stroke="#7c7c7c" stroke-width="0.8"/>
<line x1="337.28" y1="247.40" x2="337.28" y2="270.20" stroke="#7c7c7c" stroke-width="0.8"/>
<line x1="333.79" y1="215.70" x2="340.78" y2="215.70" stroke="#7c7c7c" stroke-width="0.8"/>
<line x1="333.79" y1="270.20" x2="340.78" y2="270.20" stroke="#7c7c7c" stroke-width="0.8"/>
<rect x="330.29" y="233.00" width="13.98" height="14.40" fill="#7d7d7d" stroke="#444" stroke-opacity="0.85" stroke-width="0.5"/>
<line x1="330.29" y1="239.00" x2="344.27" y2="239.00" stroke="#333" stroke-opacity="0.55" stroke-width="0.6"/>
<line x1="337.28" y1="286.10" x2="337.28" y2="287.70" stroke="#555" stroke-width="0.75"/>
<text x="0" y="0" font-size="3.65" text-anchor="end" fill="#111" stroke="#111" stroke-width="0.08" textLength="12.65" lengthAdjust="spacingAndGlyphs" transform="translate(336.38,292.10) rotate(-45)">2DGNB</text>
<line x1="354.76" y1="216.40" x2="354.76" y2="231.90" stroke="#7c7c7c" stroke-width="0.8"/>
<line x1="354.76" y1="242.50" x2="354.76" y2="258.50" stroke="#7c7c7c" stroke-width="0.8"/>
<line x1="351.27" y1="216.40" x2="358.26" y2="216.40" stroke="#7c7c7c" stroke-width="0.8"/>
<line x1="351.27" y1="258.50" x2="358.26" y2="258.50" stroke="#7c7c7c" stroke-width="0.8"/>
<rect x="347.77" y="231.90" width="13.98" height="10.60" fill="#b4b422" stroke="#444" stroke-opacity="0.85" stroke-width="0.5"/>
<line x1="347.77" y1="237.20" x2="361.75" y2="237.20" stroke="#333" stroke-opacity="0.55" stroke-width="0.6"/>
<line x1="354.76" y1="286.10" x2="354.76" y2="287.70" stroke="#555" stroke-width="0.75"/>
<text x="0" y="0" font-size="3.65" text-anchor="end" fill="#111" stroke="#111" stroke-width="0.08" textLength="16.80" lengthAdjust="spacingAndGlyphs" transform="translate(353.86,292.10) rotate(-45)">T2DGTNB</text>
<rect x="206.20" y="173.40" width="157.30" height="112.70" fill="none" stroke="#8a8a8a" stroke-width="0.8"/>
<line x1="384.80" y1="265.00" x2="386.40" y2="265.00" stroke="#555" stroke-width="0.75"/>
<text x="383.50" y="266.30" font-size="3.65" text-anchor="end" fill="#111" textLength="2.23" lengthAdjust="spacingAndGlyphs" stroke="#111" stroke-width="0.08" >6</text>
<line x1="384.80" y1="243.80" x2="386.40" y2="243.80" stroke="#555" stroke-width="0.75"/>
<text x="383.50" y="245.10" font-size="3.65" text-anchor="end" fill="#111" textLength="2.23" lengthAdjust="spacingAndGlyphs" stroke="#111" stroke-width="0.08" >8</text>
<line x1="384.80" y1="222.60" x2="386.40" y2="222.60" stroke="#555" stroke-width="0.75"/>
<text x="383.50" y="223.90" font-size="3.65" text-anchor="end" fill="#111" textLength="4.45" lengthAdjust="spacingAndGlyphs" stroke="#111" stroke-width="0.08" >10</text>
<line x1="384.80" y1="201.40" x2="386.40" y2="201.40" stroke="#555" stroke-width="0.75"/>
<text x="383.50" y="202.70" font-size="3.65" text-anchor="end" fill="#111" textLength="4.45" lengthAdjust="spacingAndGlyphs" stroke="#111" stroke-width="0.08" >12</text>
<line x1="384.80" y1="180.20" x2="386.40" y2="180.20" stroke="#555" stroke-width="0.75"/>
<text x="383.50" y="181.50" font-size="3.65" text-anchor="end" fill="#111" textLength="4.45" lengthAdjust="spacingAndGlyphs" stroke="#111" stroke-width="0.08" >14</text>
<text x="465.25" y="170.75" font-size="6.25" text-anchor="middle" fill="#111" textLength="50.91" lengthAdjust="spacingAndGlyphs" stroke="#111" stroke-width="0.13" >Dispersion Index</text>
<text x="0" y="0" font-size="6.25" text-anchor="middle" fill="#111" stroke="#111" stroke-width="0.13" textLength="50.91" lengthAdjust="spacingAndGlyphs" transform="translate(376.20,229.75) rotate(-90)">Dispersion Index</text>
<line x1="395.16" y1="212.40" x2="395.16" y2="221.90" stroke="#7c7c7c" stroke-width="0.8"/>
<line x1="395.16" y1="227.20" x2="395.16" y2="236.30" stroke="#7c7c7c" stroke-width="0.8"/>
<line x1="391.66" y1="212.40" x2="398.67" y2="212.40" stroke="#7c7c7c" stroke-width="0.8"/>
<line x1="391.66" y1="236.30" x2="398.67" y2="236.30" stroke="#7c7c7c" stroke-width="0.8"/>
<rect x="388.15" y="221.90" width="14.02" height="5.30" fill="#1674b4" stroke="#444" stroke-opacity="0.85" stroke-width="0.5"/>
<line x1="388.15" y1="224.60" x2="402.17" y2="224.60" stroke="#333" stroke-opacity="0.55" stroke-width="0.6"/>
<line x1="395.16" y1="286.10" x2="395.16" y2="287.70" stroke="#555" stroke-width="0.75"/>
<text x="0" y="0" font-size="3.65" text-anchor="end" fill="#111" stroke="#111" stroke-width="0.08" textLength="7.10" lengthAdjust="spacingAndGlyphs" transform="translate(394.26,292.10) rotate(-45)">CSR</text>
<line x1="412.68" y1="224.40" x2="412.68" y2="226.80" stroke="#7c7c7c" stroke-width="0.8"/>
<line x1="412.68" y1="228.80" x2="412.68" y2="231.50" stroke="#7c7c7c" stroke-width="0.8"/>
<line x1="409.18" y1="224.40" x2="416.19" y2="224.40" stroke="#7c7c7c" stroke-width="0.8"/>
<line x1="409.18" y1="231.50" x2="416.19" y2="231.50" stroke="#7c7c7c" stroke-width="0.8"/>
<rect x="405.67" y="226.80" width="14.02" height="2.00" fill="#ff800e" stroke="#444" stroke-opacity="0.85" stroke-width="0.5"/>
<line x1="405.67" y1="227.90" x2="419.69" y2="227.90" stroke="#333" stroke-opacity="0.55" stroke-width="0.6"/>
<line x1="412.68" y1="286.10" x2="412.68" y2="287.70" stroke="#555" stroke-width="0.75"/>
<text x="0" y="0" font-size="3.65" text-anchor="end" fill="#111" stroke="#111" stroke-width="0.08" textLength="7.03" lengthAdjust="spacingAndGlyphs" transform="translate(411.78,292.10) rotate(-45)">PDS</text>
<line x1="430.21" y1="183.20" x2="430.21" y2="206.40" stroke="#7c7c7c" stroke-width="0.8"/>
<line x1="430.21" y1="221.90" x2="430.21" y2="241.40" stroke="#7c7c7c" stroke-width="0.8"/>
<line x1="426.70" y1="183.20" x2="433.71" y2="183.20" stroke="#7c7c7c" stroke-width="0.8"/>
<line x1="426.70" y1="241.40" x2="433.71" y2="241.40" stroke="#7c7c7c" stroke-width="0.8"/>
<rect x="423.20" y="206.40" width="14.02" height="15.50" fill="#179832" stroke="#444" stroke-opacity="0.85" stroke-width="0.5"/>
<line x1="423.20" y1="214.20" x2="437.21" y2="214.20" stroke="#333" stroke-opacity="0.55" stroke-width="0.6"/>
<line x1="430.21" y1="286.10" x2="430.21" y2="287.70" stroke="#555" stroke-width="0.75"/>
<text x="0" y="0" font-size="3.65" text-anchor="end" fill="#111" stroke="#111" stroke-width="0.08" textLength="6.82" lengthAdjust="spacingAndGlyphs" transform="translate(429.31,292.10) rotate(-45)">UTA</text>
<line x1="447.73" y1="178.30" x2="447.73" y2="200.90" stroke="#7c7c7c" stroke-width="0.8"/>
<line x1="447.73" y1="215.70" x2="447.73" y2="239.20" stroke="#7c7c7c" stroke-width="0.8"/>
<line x1="444.22" y1="178.30" x2="451.23" y2="178.30" stroke="#7c7c7c" stroke-width="0.8"/>
<line x1="444.22" y1="239.20" x2="451.23" y2="239.20" stroke="#7c7c7c" stroke-width="0.8"/>
<rect x="440.72" y="200.90" width="14.02" height="14.80" fill="#e62e30" stroke="#444" stroke-opacity="0.85" stroke-width="0.5"/>
<line x1="440.72" y1="209.30" x2="454.74" y2="209.30" stroke="#333" stroke-opacity="0.55" stroke-width="0.6"/>
<line x1="447.73" y1="286.10" x2="447.73" y2="287.70" stroke="#555" stroke-width="0.75"/>
<text x="0" y="0" font-size="3.65" text-anchor="end" fill="#111" stroke="#111" stroke-width="0.08" textLength="9.73" lengthAdjust="spacingAndGlyphs" transform="translate(446.83,292.10) rotate(-45)">UTHA</text>
<line x1="465.25" y1="208.70" x2="465.25" y2="234.10" stroke="#7c7c7c" stroke-width="0.8"/>
<line x1="465.25" y1="252.30" x2="465.25" y2="280.60" stroke="#7c7c7c" stroke-width="0.8"/>
<line x1="461.75" y1="208.70" x2="468.75" y2="208.70" stroke="#7c7c7c" stroke-width="0.8"/>
<line x1="461.75" y1="280.60" x2="468.75" y2="280.60" stroke="#7c7c7c" stroke-width="0.8"/>
<rect x="458.24" y="234.10" width="14.02" height="18.20" fill="#9c6cc4" stroke="#444" stroke-opacity="0.85" stroke-width="0.5"/>
<line x1="458.24" y1="239.60" x2="472.26" y2="239.60" stroke="#333" stroke-opacity="0.55" stroke-width="0.6"/>
<line x1="465.25" y1="286.10" x2="465.25" y2="287.70" stroke="#555" stroke-width="0.75"/>
<text x="0" y="0" font-size="3.65" text-anchor="end" fill="#111" stroke="#111" stroke-width="0.08" textLength="9.86" lengthAdjust="spacingAndGlyphs" transform="translate(464.35,292.10) rotate(-45)">S2DG</text>
<line x1="482.77" y1="194.70" x2="482.77" y2="216.40" stroke="#7c7c7c" stroke-width="0.8"/>
<line x1="482.77" y1="230.60" x2="482.77" y2="247.60" stroke="#7c7c7c" stroke-width="0.8"/>
<line x1="479.27" y1="194.70" x2="486.28" y2="194.70" stroke="#7c7c7c" stroke-width="0.8"/>
<line x1="479.27" y1="247.60" x2="486.28" y2="247.60" stroke="#7c7c7c" stroke-width="0.8"/>
<rect x="475.76" y="216.40" width="14.02" height="14.20" fill="#8c5048" stroke="#444" stroke-opacity="0.85" stroke-width="0.5"/>
<line x1="475.76" y1="225.30" x2="489.78" y2="225.30" stroke="#333" stroke-opacity="0.55" stroke-width="0.6"/>
<line x1="482.77" y1="286.10" x2="482.77" y2="287.70" stroke="#555" stroke-width="0.75"/>
<text x="0" y="0" font-size="3.65" text-anchor="end" fill="#111" stroke="#111" stroke-width="0.08" textLength="9.77" lengthAdjust="spacingAndGlyphs" transform="translate(481.87,292.10) rotate(-45)">T2DG</text>
<line x1="500.29" y1="215.30" x2="500.29" y2="227.20" stroke="#7c7c7c" stroke-width="0.8"/>
<line x1="500.29" y1="235.20" x2="500.29" y2="246.90" stroke="#7c7c7c" stroke-width="0.8"/>
<line x1="496.79" y1="215.30" x2="503.80" y2="215.30" stroke="#7c7c7c" stroke-width="0.8"/>
<line x1="496.79" y1="246.90" x2="503.80" y2="246.90" stroke="#7c7c7c" stroke-width="0.8"/>
<rect x="493.29" y="227.20" width="14.02" height="8.00" fill="#eb78c6" stroke="#444" stroke-opacity="0.85" stroke-width="0.5"/>
<line x1="493.29" y1="231.20" x2="507.30" y2="231.20" stroke="#333" stroke-opacity="0.55" stroke-width="0.6"/>
<line x1="500.29" y1="286.10" x2="500.29" y2="287.70" stroke="#555" stroke-width="0.75"/>
<text x="0" y="0" font-size="3.65" text-anchor="end" fill="#111" stroke="#111" stroke-width="0.08" textLength="12.40" lengthAdjust="spacingAndGlyphs" transform="translate(499.39,292.10) rotate(-45)">TH2DG</text>
<line x1="517.82" y1="209.30" x2="517.82" y2="230.80" stroke="#7c7c7c" stroke-width="0.8"/>
<line x1="517.82" y1="248.70" x2="517.82" y2="276.20" stroke="#7c7c7c" stroke-width="0.8"/>
<line x1="514.31" y1="209.30" x2="521.32" y2="209.30" stroke="#7c7c7c" stroke-width="0.8"/>
<line x1="514.31" y1="276.20" x2="521.32" y2="276.20" stroke="#7c7c7c" stroke-width="0.8"/>
<rect x="510.81" y="230.80" width="14.02" height="17.90" fill="#7d7d7d" stroke="#444" stroke-opacity="0.85" stroke-width="0.5"/>
<line x1="510.81" y1="236.80" x2="524.83" y2="236.80" stroke="#333" stroke-opacity="0.55" stroke-width="0.6"/>
<line x1="517.82" y1="286.10" x2="517.82" y2="287.70" stroke="#555" stroke-width="0.75"/>
<text x="0" y="0" font-size="3.65" text-anchor="end" fill="#111" stroke="#111" stroke-width="0.08" textLength="12.65" lengthAdjust="spacingAndGlyphs" transform="translate(516.92,292.10) rotate(-45)">2DGNB</text>
<line x1="535.34" y1="205.30" x2="535.34" y2="218.60" stroke="#7c7c7c" stroke-width="0.8"/>
<line x1="535.34" y1="227.50" x2="535.34" y2="240.30" stroke="#7c7c7c" stroke-width="0.8"/>
<line x1="531.83" y1="205.30" x2="538.84" y2="205.30" stroke="#7c7c7c" stroke-width="0.8"/>
<line x1="531.83" y1="240.30" x2="538.84" y2="240.30" stroke="#7c7c7c" stroke-width="0.8"/>
<rect x="528.33" y="218.60" width="14.02" height="8.90" fill="#b4b422" stroke="#444" stroke-opacity="0.85" stroke-width="0.5"/>
<line x1="528.33" y1="223.50" x2="542.35" y2="223.50" stroke="#333" stroke-opacity="0.55" stroke-width="0.6"/>
<line x1="535.34" y1="286.10" x2="535.34" y2="287.70" stroke="#555" stroke-width="0.75"/>
<text x="0" y="0" font-size="3.65" text-anchor="end" fill="#111" stroke="#111" stroke-width="0.08" textLength="16.80" lengthAdjust="spacingAndGlyphs" transform="translate(534.44,292.10) rotate(-45)">T2DGTNB</text>
<rect x="386.40" y="173.40" width="157.70" height="112.70" fill="none" stroke="#8a8a8a" stroke-width="0.8"/>
<text x="17.30" y="16.00" font-size="13.80" text-anchor="start" fill="#000" font-weight="bold" stroke="#000" stroke-width="0.45" >A</text>
<text x="275.80" y="324.30" font-size="6.55" text-anchor="middle" fill="#111" textLength="73.99" lengthAdjust="spacingAndGlyphs" stroke="#111" stroke-width="0.16" >Spots Distribution Type</text>
<rect x="92" y="345.9" width="364.6" height="15" rx="1" fill="#fff" stroke="#e4e4e4" stroke-width="0.8"/>
<text x="274.50" y="350.60" font-size="3.90" text-anchor="middle" fill="#222" textLength="36.88" lengthAdjust="spacingAndGlyphs" stroke="#222" stroke-width="0.08" >Distribution Profiles</text>
<line x1="94.00" y1="356" x2="105.80" y2="356" stroke="#0a72cc" stroke-width="1.5" opacity="0.7"/>
<circle cx="99.90" cy="356" r="1.3" fill="#0a72cc"/>
<text x="109.60" y="357.60" font-size="5.35" text-anchor="start" fill="#111" textLength="10.54" lengthAdjust="spacingAndGlyphs" stroke="#111" stroke-width="0.15" >CSR</text>
<line x1="130.60" y1="356" x2="142.40" y2="356" stroke="#ff7a0a" stroke-width="1.5" opacity="0.7"/>
<circle cx="136.50" cy="356" r="1.3" fill="#ff7a0a"/>
<text x="146.20" y="357.60" font-size="5.35" text-anchor="start" fill="#111" textLength="10.44" lengthAdjust="spacingAndGlyphs" stroke="#111" stroke-width="0.15" >PDS</text>
<line x1="167.00" y1="356" x2="178.80" y2="356" stroke="#00aa22" stroke-width="1.5" opacity="0.7"/>
<circle cx="172.90" cy="356" r="1.3" fill="#00aa22"/>
<text x="182.60" y="357.60" font-size="5.35" text-anchor="start" fill="#111" textLength="10.14" lengthAdjust="spacingAndGlyphs" stroke="#111" stroke-width="0.15" >UTA</text>
<line x1="203.00" y1="356" x2="214.80" y2="356" stroke="#ff0a0a" stroke-width="1.5" opacity="0.7"/>
<circle cx="208.90" cy="356" r="1.3" fill="#ff0a0a"/>
<text x="218.60" y="357.60" font-size="5.35" text-anchor="start" fill="#111" textLength="14.45" lengthAdjust="spacingAndGlyphs" stroke="#111" stroke-width="0.15" >UTHA</text>
<line x1="243.00" y1="356" x2="254.80" y2="356" stroke="#9d4cd0" stroke-width="1.5" opacity="0.7"/>
<circle cx="248.90" cy="356" r="1.3" fill="#9d4cd0"/>
<text x="258.60" y="357.60" font-size="5.35" text-anchor="start" fill="#111" textLength="14.64" lengthAdjust="spacingAndGlyphs" stroke="#111" stroke-width="0.15" >S2DG</text>
<line x1="284.00" y1="356" x2="295.80" y2="356" stroke="#9a4444" stroke-width="1.5" opacity="0.7"/>
<circle cx="289.90" cy="356" r="1.3" fill="#9a4444"/>
<text x="299.60" y="357.60" font-size="5.35" text-anchor="start" fill="#111" textLength="14.52" lengthAdjust="spacingAndGlyphs" stroke="#111" stroke-width="0.15" >T2DG</text>
<line x1="324.00" y1="356" x2="335.80" y2="356" stroke="#ff5ccc" stroke-width="1.5" opacity="0.7"/>
<circle cx="329.90" cy="356" r="1.3" fill="#ff5ccc"/>
<text x="339.60" y="357.60" font-size="5.35" text-anchor="start" fill="#111" textLength="18.43" lengthAdjust="spacingAndGlyphs" stroke="#111" stroke-width="0.15" >TH2DG</text>
<line x1="369.00" y1="356" x2="380.80" y2="356" stroke="#787878" stroke-width="1.5" opacity="0.7"/>
<circle cx="374.90" cy="356" r="1.3" fill="#787878"/>
<text x="384.60" y="357.60" font-size="5.35" text-anchor="start" fill="#111" textLength="18.80" lengthAdjust="spacingAndGlyphs" stroke="#111" stroke-width="0.15" >2DGNB</text>
<line x1="413.60" y1="356" x2="425.40" y2="356" stroke="#c8c800" stroke-width="1.5" opacity="0.7"/>
<circle cx="419.50" cy="356" r="1.3" fill="#c8c800"/>
<text x="429.20" y="357.60" font-size="5.35" text-anchor="start" fill="#111" textLength="24.97" lengthAdjust="spacingAndGlyphs" stroke="#111" stroke-width="0.15" >T2DGTNB</text>
<text x="17.60" y="349.90" font-size="13.80" text-anchor="start" fill="#000" font-weight="bold" stroke="#000" stroke-width="0.45" >B</text>
<line x1="23.40" y1="481.20" x2="181.80" y2="481.20" stroke="#d8d8d8" stroke-width="0.65"/>
<line x1="23.40" y1="460.45" x2="181.80" y2="460.45" stroke="#d8d8d8" stroke-width="0.65"/>
<line x1="23.40" y1="439.70" x2="181.80" y2="439.70" stroke="#d8d8d8" stroke-width="0.65"/>
<line x1="23.40" y1="418.95" x2="181.80" y2="418.95" stroke="#d8d8d8" stroke-width="0.65"/>
<line x1="23.40" y1="398.20" x2="181.80" y2="398.20" stroke="#d8d8d8" stroke-width="0.65"/>
<line x1="30.60" y1="380.70" x2="30.60" y2="486.40" stroke="#d8d8d8" stroke-width="0.65"/>
<line x1="54.60" y1="380.70" x2="54.60" y2="486.40" stroke="#d8d8d8" stroke-width="0.65"/>
<line x1="78.60" y1="380.70" x2="78.60" y2="486.40" stroke="#d8d8d8" stroke-width="0.65"/>
<line x1="102.60" y1="380.70" x2="102.60" y2="486.40" stroke="#d8d8d8" stroke-width="0.65"/>
<line x1="126.60" y1="380.70" x2="126.60" y2="486.40" stroke="#d8d8d8" stroke-width="0.65"/>
<line x1="150.60" y1="380.70" x2="150.60" y2="486.40" stroke="#d8d8d8" stroke-width="0.65"/>
<line x1="174.60" y1="380.70" x2="174.60" y2="486.40" stroke="#d8d8d8" stroke-width="0.65"/>
<line x1="21.80" y1="481.20" x2="23.40" y2="481.20" stroke="#555" stroke-width="0.75"/>
<text x="20.50" y="482.50" font-size="3.65" text-anchor="end" fill="#111" textLength="2.23" lengthAdjust="spacingAndGlyphs" stroke="#111" stroke-width="0.08" >0</text>
<line x1="21.80" y1="460.45" x2="23.40" y2="460.45" stroke="#555" stroke-width="0.75"/>
<text x="20.50" y="461.75" font-size="3.65" text-anchor="end" fill="#111" textLength="4.45" lengthAdjust="spacingAndGlyphs" stroke="#111" stroke-width="0.08" >10</text>
<line x1="21.80" y1="439.70" x2="23.40" y2="439.70" stroke="#555" stroke-width="0.75"/>
<text x="20.50" y="441.00" font-size="3.65" text-anchor="end" fill="#111" textLength="4.45" lengthAdjust="spacingAndGlyphs" stroke="#111" stroke-width="0.08" >20</text>
<line x1="21.80" y1="418.95" x2="23.40" y2="418.95" stroke="#555" stroke-width="0.75"/>
<text x="20.50" y="420.25" font-size="3.65" text-anchor="end" fill="#111" textLength="4.45" lengthAdjust="spacingAndGlyphs" stroke="#111" stroke-width="0.08" >30</text>
<line x1="21.80" y1="398.20" x2="23.40" y2="398.20" stroke="#555" stroke-width="0.75"/>
<text x="20.50" y="399.50" font-size="3.65" text-anchor="end" fill="#111" textLength="4.45" lengthAdjust="spacingAndGlyphs" stroke="#111" stroke-width="0.08" >40</text>
<text x="102.60" y="379.10" font-size="6.25" text-anchor="middle" fill="#111" textLength="48.68" lengthAdjust="spacingAndGlyphs" stroke="#111" stroke-width="0.13" >Ripley&#39;s K Score</text>
<text x="0" y="0" font-size="6.25" text-anchor="middle" fill="#111" stroke="#111" stroke-width="0.13" textLength="48.68" lengthAdjust="spacingAndGlyphs" transform="translate(12.50,433.55) rotate(-90)">Ripley&#39;s K Score</text>
<line x1="30.60" y1="486.40" x2="30.60" y2="488.00" stroke="#555" stroke-width="0.75"/>
<text x="30.60" y="492.10" font-size="3.65" text-anchor="middle" fill="#111" textLength="2.23" lengthAdjust="spacingAndGlyphs" stroke="#111" stroke-width="0.08" >0</text>
<line x1="54.60" y1="486.40" x2="54.60" y2="488.00" stroke="#555" stroke-width="0.75"/>
<text x="54.60" y="492.10" font-size="3.65" text-anchor="middle" fill="#111" textLength="2.23" lengthAdjust="spacingAndGlyphs" stroke="#111" stroke-width="0.08" >5</text>
<line x1="78.60" y1="486.40" x2="78.60" y2="488.00" stroke="#555" stroke-width="0.75"/>
<text x="78.60" y="492.10" font-size="3.65" text-anchor="middle" fill="#111" textLength="4.45" lengthAdjust="spacingAndGlyphs" stroke="#111" stroke-width="0.08" >10</text>
<line x1="102.60" y1="486.40" x2="102.60" y2="488.00" stroke="#555" stroke-width="0.75"/>
<text x="102.60" y="492.10" font-size="3.65" text-anchor="middle" fill="#111" textLength="4.45" lengthAdjust="spacingAndGlyphs" stroke="#111" stroke-width="0.08" >15</text>
<line x1="126.60" y1="486.40" x2="126.60" y2="488.00" stroke="#555" stroke-width="0.75"/>
<text x="126.60" y="492.10" font-size="3.65" text-anchor="middle" fill="#111" textLength="4.45" lengthAdjust="spacingAndGlyphs" stroke="#111" stroke-width="0.08" >20</text>
<line x1="150.60" y1="486.40" x2="150.60" y2="488.00" stroke="#555" stroke-width="0.75"/>
<text x="150.60" y="492.10" font-size="3.65" text-anchor="middle" fill="#111" textLength="4.45" lengthAdjust="spacingAndGlyphs" stroke="#111" stroke-width="0.08" >25</text>
<line x1="174.60" y1="486.40" x2="174.60" y2="488.00" stroke="#555" stroke-width="0.75"/>
<text x="174.60" y="492.10" font-size="3.65" text-anchor="middle" fill="#111" textLength="4.45" lengthAdjust="spacingAndGlyphs" stroke="#111" stroke-width="0.08" >30</text>
<g clip-path="url(#c0)">
<polyline points="30.60,470.70 35.40,470.61 40.20,470.50 45.00,470.56 49.80,470.74 54.60,470.27 59.40,470.45 64.20,470.28 69.00,470.00 73.80,469.03 78.60,468.98 83.40,468.62 88.20,468.68 93.00,468.71 97.80,468.65 102.60,468.24 107.40,468.35 112.20,468.11 117.00,468.24 121.80,468.24 126.60,467.99 131.40,466.39 136.20,466.65 141.00,466.27 145.80,466.13 150.60,467.02 155.40,464.94 160.20,465.09 165.00,464.52 169.80,464.14 174.60,464.29" fill="none" stroke="#0a72cc" stroke-width="0.8"/>
<circle cx="30.60" cy="470.70" r="1.4" fill="#0a72cc"/>
<circle cx="35.40" cy="470.61" r="1.4" fill="#0a72cc"/>
<circle cx="40.20" cy="470.50" r="1.4" fill="#0a72cc"/>
<circle cx="45.00" cy="470.56" r="1.4" fill="#0a72cc"/>
<circle cx="49.80" cy="470.74" r="1.4" fill="#0a72cc"/>
<circle cx="54.60" cy="470.27" r="1.4" fill="#0a72cc"/>
<circle cx="59.40" cy="470.45" r="1.4" fill="#0a72cc"/>
<circle cx="64.20" cy="470.28" r="1.4" fill="#0a72cc"/>
<circle cx="69.00" cy="470.00" r="1.4" fill="#0a72cc"/>
<circle cx="73.80" cy="469.03" r="1.4" fill="#0a72cc"/>
<circle cx="78.60" cy="468.98" r="1.4" fill="#0a72cc"/>
<circle cx="83.40" cy="468.62" r="1.4" fill="#0a72cc"/>
<circle cx="88.20" cy="468.68" r="1.4" fill="#0a72cc"/>
<circle cx="93.00" cy="468.71" r="1.4" fill="#0a72cc"/>
<circle cx="97.80" cy="468.65" r="1.4" fill="#0a72cc"/>
<circle cx="102.60" cy="468.24" r="1.4" fill="#0a72cc"/>
<circle cx="107.40" cy="468.35" r="1.4" fill="#0a72cc"/>
<circle cx="112.20" cy="468.11" r="1.4" fill="#0a72cc"/>
<circle cx="117.00" cy="468.24" r="1.4" fill="#0a72cc"/>
<circle cx="121.80" cy="468.24" r="1.4" fill="#0a72cc"/>
<circle cx="126.60" cy="467.99" r="1.4" fill="#0a72cc"/>
<circle cx="131.40" cy="466.39" r="1.4" fill="#0a72cc"/>
<circle cx="136.20" cy="466.65" r="1.4" fill="#0a72cc"/>
<circle cx="141.00" cy="466.27" r="1.4" fill="#0a72cc"/>
<circle cx="145.80" cy="466.13" r="1.4" fill="#0a72cc"/>
<circle cx="150.60" cy="467.02" r="1.4" fill="#0a72cc"/>
<circle cx="155.40" cy="464.94" r="1.4" fill="#0a72cc"/>
<circle cx="160.20" cy="465.09" r="1.4" fill="#0a72cc"/>
<circle cx="165.00" cy="464.52" r="1.4" fill="#0a72cc"/>
<circle cx="169.80" cy="464.14" r="1.4" fill="#0a72cc"/>
<circle cx="174.60" cy="464.29" r="1.4" fill="#0a72cc"/>
<polyline points="30.60,481.70 35.40,481.70 40.20,481.70 45.00,481.70 49.80,481.70 54.60,481.69 59.40,481.69 64.20,481.69 69.00,481.68 73.80,481.68 78.60,481.67 83.40,481.67 88.20,481.66 93.00,481.65 97.80,481.65 102.60,481.64 107.40,481.63 112.20,481.62 117.00,481.60 121.80,481.59 126.60,481.58 131.40,481.56 136.20,481.55 141.00,481.53 145.80,481.51 150.60,481.49 155.40,481.42 160.20,481.28 165.00,481.08 169.80,480.87 174.60,480.66" fill="none" stroke="#ff7a0a" stroke-width="0.8"/>
<circle cx="30.60" cy="481.70" r="1.4" fill="#ff7a0a"/>
<circle cx="35.40" cy="481.70" r="1.4" fill="#ff7a0a"/>
<circle cx="40.20" cy="481.70" r="1.4" fill="#ff7a0a"/>
<circle cx="45.00" cy="481.70" r="1.4" fill="#ff7a0a"/>
<circle cx="49.80" cy="481.70" r="1.4" fill="#ff7a0a"/>
<circle cx="54.60" cy="481.69" r="1.4" fill="#ff7a0a"/>
<circle cx="59.40" cy="481.69" r="1.4" fill="#ff7a0a"/>
<circle cx="64.20" cy="481.69" r="1.4" fill="#ff7a0a"/>
<circle cx="69.00" cy="481.68" r="1.4" fill="#ff7a0a"/>
<circle cx="73.80" cy="481.68" r="1.4" fill="#ff7a0a"/>
<circle cx="78.60" cy="481.67" r="1.4" fill="#ff7a0a"/>
<circle cx="83.40" cy="481.67" r="1.4" fill="#ff7a0a"/>
<circle cx="88.20" cy="481.66" r="1.4" fill="#ff7a0a"/>
<circle cx="93.00" cy="481.65" r="1.4" fill="#ff7a0a"/>
<circle cx="97.80" cy="481.65" r="1.4" fill="#ff7a0a"/>
<circle cx="102.60" cy="481.64" r="1.4" fill="#ff7a0a"/>
<circle cx="107.40" cy="481.63" r="1.4" fill="#ff7a0a"/>
<circle cx="112.20" cy="481.62" r="1.4" fill="#ff7a0a"/>
<circle cx="117.00" cy="481.60" r="1.4" fill="#ff7a0a"/>
<circle cx="121.80" cy="481.59" r="1.4" fill="#ff7a0a"/>
<circle cx="126.60" cy="481.58" r="1.4" fill="#ff7a0a"/>
<circle cx="131.40" cy="481.56" r="1.4" fill="#ff7a0a"/>
<circle cx="136.20" cy="481.55" r="1.4" fill="#ff7a0a"/>
<circle cx="141.00" cy="481.53" r="1.4" fill="#ff7a0a"/>
<circle cx="145.80" cy="481.51" r="1.4" fill="#ff7a0a"/>
<circle cx="150.60" cy="481.49" r="1.4" fill="#ff7a0a"/>
<circle cx="155.40" cy="481.42" r="1.4" fill="#ff7a0a"/>
<circle cx="160.20" cy="481.28" r="1.4" fill="#ff7a0a"/>
<circle cx="165.00" cy="481.08" r="1.4" fill="#ff7a0a"/>
<circle cx="169.80" cy="480.87" r="1.4" fill="#ff7a0a"/>
<circle cx="174.60" cy="480.66" r="1.4" fill="#ff7a0a"/>
<polyline points="30.60,436.92 35.40,436.66 40.20,437.09 45.00,436.98 49.80,436.79 54.60,436.64 59.40,436.91 64.20,437.05 69.00,437.12 73.80,436.86 78.60,437.07 83.40,436.69 88.20,436.67 93.00,437.08 97.80,437.02 102.60,436.69 107.40,436.79 112.20,436.69 117.00,436.98 121.80,437.11 126.60,435.22 131.40,436.05 136.20,437.50 141.00,438.33 145.80,433.97 150.60,435.84 155.40,434.60 160.20,431.49 165.00,436.46" fill="none" stroke="#00aa22" stroke-width="0.8"/>
<circle cx="30.60" cy="436.92" r="1.4" fill="#00aa22"/>
<circle cx="35.40" cy="436.66" r="1.4" fill="#00aa22"/>
<circle cx="40.20" cy="437.09" r="1.4" fill="#00aa22"/>
<circle cx="45.00" cy="436.98" r="1.4" fill="#00aa22"/>
<circle cx="49.80" cy="436.79" r="1.4" fill="#00aa22"/>
<circle cx="54.60" cy="436.64" r="1.4" fill="#00aa22"/>
<circle cx="59.40" cy="436.91" r="1.4" fill="#00aa22"/>
<circle cx="64.20" cy="437.05" r="1.4" fill="#00aa22"/>
<circle cx="69.00" cy="437.12" r="1.4" fill="#00aa22"/>
<circle cx="73.80" cy="436.86" r="1.4" fill="#00aa22"/>
<circle cx="78.60" cy="437.07" r="1.4" fill="#00aa22"/>
<circle cx="83.40" cy="436.69" r="1.4" fill="#00aa22"/>
<circle cx="88.20" cy="436.67" r="1.4" fill="#00aa22"/>
<circle cx="93.00" cy="437.08" r="1.4" fill="#00aa22"/>
<circle cx="97.80" cy="437.02" r="1.4" fill="#00aa22"/>
<circle cx="102.60" cy="436.69" r="1.4" fill="#00aa22"/>
<circle cx="107.40" cy="436.79" r="1.4" fill="#00aa22"/>
<circle cx="112.20" cy="436.69" r="1.4" fill="#00aa22"/>
<circle cx="117.00" cy="436.98" r="1.4" fill="#00aa22"/>
<circle cx="121.80" cy="437.11" r="1.4" fill="#00aa22"/>
<circle cx="126.60" cy="435.22" r="1.4" fill="#00aa22"/>
<circle cx="131.40" cy="436.05" r="1.4" fill="#00aa22"/>
<circle cx="136.20" cy="437.50" r="1.4" fill="#00aa22"/>
<circle cx="141.00" cy="438.33" r="1.4" fill="#00aa22"/>
<circle cx="145.80" cy="433.97" r="1.4" fill="#00aa22"/>
<circle cx="150.60" cy="435.84" r="1.4" fill="#00aa22"/>
<circle cx="155.40" cy="434.60" r="1.4" fill="#00aa22"/>
<circle cx="160.20" cy="431.49" r="1.4" fill="#00aa22"/>
<circle cx="165.00" cy="436.46" r="1.4" fill="#00aa22"/>
<polyline points="30.60,432.19 35.40,432.14 40.20,432.56 45.00,432.51 49.80,432.09 54.60,431.89 59.40,432.30 64.20,432.15 69.00,432.04 73.80,432.18 78.60,432.12 83.40,432.13 88.20,432.06 93.00,431.90 97.80,432.05 102.60,431.98 107.40,431.70 112.20,432.14 117.00,431.77 121.80,431.64 126.60,431.88 131.40,431.91 136.20,431.52 141.00,431.84 145.80,431.85 150.60,431.66 155.40,431.47 160.20,431.82 165.00,431.65 169.80,431.62 174.60,431.28" fill="none" stroke="#ff0a0a" stroke-width="0.8"/>
<circle cx="30.60" cy="432.19" r="1.4" fill="#ff0a0a"/>
<circle cx="35.40" cy="432.14" r="1.4" fill="#ff0a0a"/>
<circle cx="40.20" cy="432.56" r="1.4" fill="#ff0a0a"/>
<circle cx="45.00" cy="432.51" r="1.4" fill="#ff0a0a"/>
<circle cx="49.80" cy="432.09" r="1.4" fill="#ff0a0a"/>
<circle cx="54.60" cy="431.89" r="1.4" fill="#ff0a0a"/>
<circle cx="59.40" cy="432.30" r="1.4" fill="#ff0a0a"/>
<circle cx="64.20" cy="432.15" r="1.4" fill="#ff0a0a"/>
<circle cx="69.00" cy="432.04" r="1.4" fill="#ff0a0a"/>
<circle cx="73.80" cy="432.18" r="1.4" fill="#ff0a0a"/>
<circle cx="78.60" cy="432.12" r="1.4" fill="#ff0a0a"/>
<circle cx="83.40" cy="432.13" r="1.4" fill="#ff0a0a"/>
<circle cx="88.20" cy="432.06" r="1.4" fill="#ff0a0a"/>
<circle cx="93.00" cy="431.90" r="1.4" fill="#ff0a0a"/>
<circle cx="97.80" cy="432.05" r="1.4" fill="#ff0a0a"/>
<circle cx="102.60" cy="431.98" r="1.4" fill="#ff0a0a"/>
<circle cx="107.40" cy="431.70" r="1.4" fill="#ff0a0a"/>
<circle cx="112.20" cy="432.14" r="1.4" fill="#ff0a0a"/>
<circle cx="117.00" cy="431.77" r="1.4" fill="#ff0a0a"/>
<circle cx="121.80" cy="431.64" r="1.4" fill="#ff0a0a"/>
<circle cx="126.60" cy="431.88" r="1.4" fill="#ff0a0a"/>
<circle cx="131.40" cy="431.91" r="1.4" fill="#ff0a0a"/>
<circle cx="136.20" cy="431.52" r="1.4" fill="#ff0a0a"/>
<circle cx="141.00" cy="431.84" r="1.4" fill="#ff0a0a"/>
<circle cx="145.80" cy="431.85" r="1.4" fill="#ff0a0a"/>
<circle cx="150.60" cy="431.66" r="1.4" fill="#ff0a0a"/>
<circle cx="155.40" cy="431.47" r="1.4" fill="#ff0a0a"/>
<circle cx="160.20" cy="431.82" r="1.4" fill="#ff0a0a"/>
<circle cx="165.00" cy="431.65" r="1.4" fill="#ff0a0a"/>
<circle cx="169.80" cy="431.62" r="1.4" fill="#ff0a0a"/>
<circle cx="174.60" cy="431.28" r="1.4" fill="#ff0a0a"/>
<polyline points="30.60,388.49 35.40,388.21 40.20,388.24 45.00,388.01 49.80,387.91 54.60,388.18 59.40,388.13 64.20,387.53 69.00,387.81 73.80,387.74 78.60,387.19 83.40,387.43 88.20,387.12 93.00,387.26 97.80,387.08 102.60,387.30 107.40,386.91 112.20,386.68 117.00,386.82 121.80,386.60 126.60,386.56 131.40,386.85 136.20,386.34 141.00,386.36 145.80,386.46 150.60,386.54 155.40,385.94 160.20,386.10 165.00,385.86 169.80,385.68 174.60,385.70" fill="none" stroke="#9d4cd0" stroke-width="0.8"/>
<circle cx="30.60" cy="388.49" r="1.4" fill="#9d4cd0"/>
<circle cx="35.40" cy="388.21" r="1.4" fill="#9d4cd0"/>
<circle cx="40.20" cy="388.24" r="1.4" fill="#9d4cd0"/>
<circle cx="45.00" cy="388.01" r="1.4" fill="#9d4cd0"/>
<circle cx="49.80" cy="387.91" r="1.4" fill="#9d4cd0"/>
<circle cx="54.60" cy="388.18" r="1.4" fill="#9d4cd0"/>
<circle cx="59.40" cy="388.13" r="1.4" fill="#9d4cd0"/>
<circle cx="64.20" cy="387.53" r="1.4" fill="#9d4cd0"/>
<circle cx="69.00" cy="387.81" r="1.4" fill="#9d4cd0"/>
<circle cx="73.80" cy="387.74" r="1.4" fill="#9d4cd0"/>
<circle cx="78.60" cy="387.19" r="1.4" fill="#9d4cd0"/>
<circle cx="83.40" cy="387.43" r="1.4" fill="#9d4cd0"/>
<circle cx="88.20" cy="387.12" r="1.4" fill="#9d4cd0"/>
<circle cx="93.00" cy="387.26" r="1.4" fill="#9d4cd0"/>
<circle cx="97.80" cy="387.08" r="1.4" fill="#9d4cd0"/>
<circle cx="102.60" cy="387.30" r="1.4" fill="#9d4cd0"/>
<circle cx="107.40" cy="386.91" r="1.4" fill="#9d4cd0"/>
<circle cx="112.20" cy="386.68" r="1.4" fill="#9d4cd0"/>
<circle cx="117.00" cy="386.82" r="1.4" fill="#9d4cd0"/>
<circle cx="121.80" cy="386.60" r="1.4" fill="#9d4cd0"/>
<circle cx="126.60" cy="386.56" r="1.4" fill="#9d4cd0"/>
<circle cx="131.40" cy="386.85" r="1.4" fill="#9d4cd0"/>
<circle cx="136.20" cy="386.34" r="1.4" fill="#9d4cd0"/>
<circle cx="141.00" cy="386.36" r="1.4" fill="#9d4cd0"/>
<circle cx="145.80" cy="386.46" r="1.4" fill="#9d4cd0"/>
<circle cx="150.60" cy="386.54" r="1.4" fill="#9d4cd0"/>
<circle cx="155.40" cy="385.94" r="1.4" fill="#9d4cd0"/>
<circle cx="160.20" cy="386.10" r="1.4" fill="#9d4cd0"/>
<circle cx="165.00" cy="385.86" r="1.4" fill="#9d4cd0"/>
<circle cx="169.80" cy="385.68" r="1.4" fill="#9d4cd0"/>
<circle cx="174.60" cy="385.70" r="1.4" fill="#9d4cd0"/>
<polyline points="30.60,427.18 35.40,427.38 40.20,427.09 45.00,427.09 49.80,427.28 54.60,427.21 59.40,427.16 64.20,427.08 69.00,427.07 73.80,427.06 78.60,427.01 83.40,426.85 88.20,427.00 93.00,427.00 97.80,426.86 102.60,427.03 107.40,426.97 112.20,426.67 117.00,426.83 121.80,426.79 126.60,426.98 131.40,426.79 136.20,426.69 141.00,426.90 145.80,426.62 150.60,426.59 155.40,426.80 160.20,426.54 165.00,426.57 169.80,426.46 174.60,426.57" fill="none" stroke="#9a4444" stroke-width="0.8"/>
<circle cx="30.60" cy="427.18" r="1.4" fill="#9a4444"/>
<circle cx="35.40" cy="427.38" r="1.4" fill="#9a4444"/>
<circle cx="40.20" cy="427.09" r="1.4" fill="#9a4444"/>
<circle cx="45.00" cy="427.09" r="1.4" fill="#9a4444"/>
<circle cx="49.80" cy="427.28" r="1.4" fill="#9a4444"/>
<circle cx="54.60" cy="427.21" r="1.4" fill="#9a4444"/>
<circle cx="59.40" cy="427.16" r="1.4" fill="#9a4444"/>
<circle cx="64.20" cy="427.08" r="1.4" fill="#9a4444"/>
<circle cx="69.00" cy="427.07" r="1.4" fill="#9a4444"/>
<circle cx="73.80" cy="427.06" r="1.4" fill="#9a4444"/>
<circle cx="78.60" cy="427.01" r="1.4" fill="#9a4444"/>
<circle cx="83.40" cy="426.85" r="1.4" fill="#9a4444"/>
<circle cx="88.20" cy="427.00" r="1.4" fill="#9a4444"/>
<circle cx="93.00" cy="427.00" r="1.4" fill="#9a4444"/>
<circle cx="97.80" cy="426.86" r="1.4" fill="#9a4444"/>
<circle cx="102.60" cy="427.03" r="1.4" fill="#9a4444"/>
<circle cx="107.40" cy="426.97" r="1.4" fill="#9a4444"/>
<circle cx="112.20" cy="426.67" r="1.4" fill="#9a4444"/>
<circle cx="117.00" cy="426.83" r="1.4" fill="#9a4444"/>
<circle cx="121.80" cy="426.79" r="1.4" fill="#9a4444"/>
<circle cx="126.60" cy="426.98" r="1.4" fill="#9a4444"/>
<circle cx="131.40" cy="426.79" r="1.4" fill="#9a4444"/>
<circle cx="136.20" cy="426.69" r="1.4" fill="#9a4444"/>
<circle cx="141.00" cy="426.90" r="1.4" fill="#9a4444"/>
<circle cx="145.80" cy="426.62" r="1.4" fill="#9a4444"/>
<circle cx="150.60" cy="426.59" r="1.4" fill="#9a4444"/>
<circle cx="155.40" cy="426.80" r="1.4" fill="#9a4444"/>
<circle cx="160.20" cy="426.54" r="1.4" fill="#9a4444"/>
<circle cx="165.00" cy="426.57" r="1.4" fill="#9a4444"/>
<circle cx="169.80" cy="426.46" r="1.4" fill="#9a4444"/>
<circle cx="174.60" cy="426.57" r="1.4" fill="#9a4444"/>
<polyline points="30.60,427.61 35.40,427.70 40.20,427.80 45.00,427.87 49.80,427.52 54.60,427.44 59.40,427.80 64.20,427.48 69.00,427.62 73.80,427.71 78.60,427.63 83.40,427.41 88.20,427.35 93.00,427.67 97.80,427.41 102.60,427.63 107.40,427.33 112.20,427.47 117.00,427.22 121.80,427.16 126.60,427.33 131.40,427.11 136.20,427.37 141.00,427.45 145.80,427.21 150.60,427.43 155.40,427.34 160.20,427.23 165.00,427.12 169.80,427.29 174.60,427.32" fill="none" stroke="#ff5ccc" stroke-width="0.8"/>
<circle cx="30.60" cy="427.61" r="1.4" fill="#ff5ccc"/>
<circle cx="35.40" cy="427.70" r="1.4" fill="#ff5ccc"/>
<circle cx="40.20" cy="427.80" r="1.4" fill="#ff5ccc"/>
<circle cx="45.00" cy="427.87" r="1.4" fill="#ff5ccc"/>
<circle cx="49.80" cy="427.52" r="1.4" fill="#ff5ccc"/>
<circle cx="54.60" cy="427.44" r="1.4" fill="#ff5ccc"/>
<circle cx="59.40" cy="427.80" r="1.4" fill="#ff5ccc"/>
<circle cx="64.20" cy="427.48" r="1.4" fill="#ff5ccc"/>
<circle cx="69.00" cy="427.62" r="1.4" fill="#ff5ccc"/>
<circle cx="73.80" cy="427.71" r="1.4" fill="#ff5ccc"/>
<circle cx="78.60" cy="427.63" r="1.4" fill="#ff5ccc"/>
<circle cx="83.40" cy="427.41" r="1.4" fill="#ff5ccc"/>
<circle cx="88.20" cy="427.35" r="1.4" fill="#ff5ccc"/>
<circle cx="93.00" cy="427.67" r="1.4" fill="#ff5ccc"/>
<circle cx="97.80" cy="427.41" r="1.4" fill="#ff5ccc"/>
<circle cx="102.60" cy="427.63" r="1.4" fill="#ff5ccc"/>
<circle cx="107.40" cy="427.33" r="1.4" fill="#ff5ccc"/>
<circle cx="112.20" cy="427.47" r="1.4" fill="#ff5ccc"/>
<circle cx="117.00" cy="427.22" r="1.4" fill="#ff5ccc"/>
<circle cx="121.80" cy="427.16" r="1.4" fill="#ff5ccc"/>
<circle cx="126.60" cy="427.33" r="1.4" fill="#ff5ccc"/>
<circle cx="131.40" cy="427.11" r="1.4" fill="#ff5ccc"/>
<circle cx="136.20" cy="427.37" r="1.4" fill="#ff5ccc"/>
<circle cx="141.00" cy="427.45" r="1.4" fill="#ff5ccc"/>
<circle cx="145.80" cy="427.21" r="1.4" fill="#ff5ccc"/>
<circle cx="150.60" cy="427.43" r="1.4" fill="#ff5ccc"/>
<circle cx="155.40" cy="427.34" r="1.4" fill="#ff5ccc"/>
<circle cx="160.20" cy="427.23" r="1.4" fill="#ff5ccc"/>
<circle cx="165.00" cy="427.12" r="1.4" fill="#ff5ccc"/>
<circle cx="169.80" cy="427.29" r="1.4" fill="#ff5ccc"/>
<circle cx="174.60" cy="427.32" r="1.4" fill="#ff5ccc"/>
<polyline points="30.60,405.41 35.40,405.81 40.20,405.45 45.00,405.72 49.80,405.28 54.60,405.30 59.40,405.92 64.20,405.86 69.00,405.77 73.80,405.12 78.60,405.53 83.40,405.35 88.20,405.59 93.00,405.39 97.80,405.46 102.60,405.46 107.40,405.24 112.20,405.21 117.00,404.92 121.80,405.08 126.60,404.85 131.40,404.88 136.20,404.74 141.00,404.98 145.80,405.37 150.60,404.76 155.40,404.65 160.20,404.67 165.00,404.92 169.80,404.78 174.60,405.16" fill="none" stroke="#787878" stroke-width="0.8"/>
<circle cx="30.60" cy="405.41" r="1.4" fill="#787878"/>
<circle cx="35.40" cy="405.81" r="1.4" fill="#787878"/>
<circle cx="40.20" cy="405.45" r="1.4" fill="#787878"/>
<circle cx="45.00" cy="405.72" r="1.4" fill="#787878"/>
<circle cx="49.80" cy="405.28" r="1.4" fill="#787878"/>
<circle cx="54.60" cy="405.30" r="1.4" fill="#787878"/>
<circle cx="59.40" cy="405.92" r="1.4" fill="#787878"/>
<circle cx="64.20" cy="405.86" r="1.4" fill="#787878"/>
<circle cx="69.00" cy="405.77" r="1.4" fill="#787878"/>
<circle cx="73.80" cy="405.12" r="1.4" fill="#787878"/>
<circle cx="78.60" cy="405.53" r="1.4" fill="#787878"/>
<circle cx="83.40" cy="405.35" r="1.4" fill="#787878"/>
<circle cx="88.20" cy="405.59" r="1.4" fill="#787878"/>
<circle cx="93.00" cy="405.39" r="1.4" fill="#787878"/>
<circle cx="97.80" cy="405.46" r="1.4" fill="#787878"/>
<circle cx="102.60" cy="405.46" r="1.4" fill="#787878"/>
<circle cx="107.40" cy="405.24" r="1.4" fill="#787878"/>
<circle cx="112.20" cy="405.21" r="1.4" fill="#787878"/>
<circle cx="117.00" cy="404.92" r="1.4" fill="#787878"/>
<circle cx="121.80" cy="405.08" r="1.4" fill="#787878"/>
<circle cx="126.60" cy="404.85" r="1.4" fill="#787878"/>
<circle cx="131.40" cy="404.88" r="1.4" fill="#787878"/>
<circle cx="136.20" cy="404.74" r="1.4" fill="#787878"/>
<circle cx="141.00" cy="404.98" r="1.4" fill="#787878"/>
<circle cx="145.80" cy="405.37" r="1.4" fill="#787878"/>
<circle cx="150.60" cy="404.76" r="1.4" fill="#787878"/>
<circle cx="155.40" cy="404.65" r="1.4" fill="#787878"/>
<circle cx="160.20" cy="404.67" r="1.4" fill="#787878"/>
<circle cx="165.00" cy="404.92" r="1.4" fill="#787878"/>
<circle cx="169.80" cy="404.78" r="1.4" fill="#787878"/>
<circle cx="174.60" cy="405.16" r="1.4" fill="#787878"/>
<polyline points="30.60,439.25 35.40,439.11 40.20,439.40 45.00,439.43 49.80,439.47 54.60,439.54 59.40,439.62 64.20,439.47 69.00,439.86 73.80,439.99 78.60,439.67 83.40,439.77 88.20,439.79 93.00,440.09 97.80,439.94 102.60,440.02 107.40,440.38 112.20,440.24 117.00,440.27 121.80,440.41 126.60,440.54 131.40,440.70 136.20,440.75 141.00,440.87 145.80,441.00 150.60,440.85 155.40,441.05 160.20,440.90 165.00,441.29 169.80,441.00 174.60,441.16" fill="none" stroke="#c8c800" stroke-width="0.8"/>
<circle cx="30.60" cy="439.25" r="1.4" fill="#c8c800"/>
<circle cx="35.40" cy="439.11" r="1.4" fill="#c8c800"/>
<circle cx="40.20" cy="439.40" r="1.4" fill="#c8c800"/>
<circle cx="45.00" cy="439.43" r="1.4" fill="#c8c800"/>
<circle cx="49.80" cy="439.47" r="1.4" fill="#c8c800"/>
<circle cx="54.60" cy="439.54" r="1.4" fill="#c8c800"/>
<circle cx="59.40" cy="439.62" r="1.4" fill="#c8c800"/>
<circle cx="64.20" cy="439.47" r="1.4" fill="#c8c800"/>
<circle cx="69.00" cy="439.86" r="1.4" fill="#c8c800"/>
<circle cx="73.80" cy="439.99" r="1.4" fill="#c8c800"/>
<circle cx="78.60" cy="439.67" r="1.4" fill="#c8c800"/>
<circle cx="83.40" cy="439.77" r="1.4" fill="#c8c800"/>
<circle cx="88.20" cy="439.79" r="1.4" fill="#c8c800"/>
<circle cx="93.00" cy="440.09" r="1.4" fill="#c8c800"/>
<circle cx="97.80" cy="439.94" r="1.4" fill="#c8c800"/>
<circle cx="102.60" cy="440.02" r="1.4" fill="#c8c800"/>
<circle cx="107.40" cy="440.38" r="1.4" fill="#c8c800"/>
<circle cx="112.20" cy="440.24" r="1.4" fill="#c8c800"/>
<circle cx="117.00" cy="440.27" r="1.4" fill="#c8c800"/>
<circle cx="121.80" cy="440.41" r="1.4" fill="#c8c800"/>
<circle cx="126.60" cy="440.54" r="1.4" fill="#c8c800"/>
<circle cx="131.40" cy="440.70" r="1.4" fill="#c8c800"/>
<circle cx="136.20" cy="440.75" r="1.4" fill="#c8c800"/>
<circle cx="141.00" cy="440.87" r="1.4" fill="#c8c800"/>
<circle cx="145.80" cy="441.00" r="1.4" fill="#c8c800"/>
<circle cx="150.60" cy="440.85" r="1.4" fill="#c8c800"/>
<circle cx="155.40" cy="441.05" r="1.4" fill="#c8c800"/>
<circle cx="160.20" cy="440.90" r="1.4" fill="#c8c800"/>
<circle cx="165.00" cy="441.29" r="1.4" fill="#c8c800"/>
<circle cx="169.80" cy="441.00" r="1.4" fill="#c8c800"/>
<circle cx="174.60" cy="441.16" r="1.4" fill="#c8c800"/>
</g>
<rect x="23.40" y="380.70" width="158.40" height="105.70" fill="none" stroke="#8a8a8a" stroke-width="0.8"/>
<line x1="205.50" y1="481.40" x2="363.50" y2="481.40" stroke="#d8d8d8" stroke-width="0.65"/>
<line x1="205.50" y1="464.18" x2="363.50" y2="464.18" stroke="#d8d8d8" stroke-width="0.65"/>
<line x1="205.50" y1="446.96" x2="363.50" y2="446.96" stroke="#d8d8d8" stroke-width="0.65"/>
<line x1="205.50" y1="429.74" x2="363.50" y2="429.74" stroke="#d8d8d8" stroke-width="0.65"/>
<line x1="205.50" y1="412.52" x2="363.50" y2="412.52" stroke="#d8d8d8" stroke-width="0.65"/>
<line x1="205.50" y1="395.30" x2="363.50" y2="395.30" stroke="#d8d8d8" stroke-width="0.65"/>
<line x1="212.68" y1="380.70" x2="212.68" y2="486.40" stroke="#d8d8d8" stroke-width="0.65"/>
<line x1="236.62" y1="380.70" x2="236.62" y2="486.40" stroke="#d8d8d8" stroke-width="0.65"/>
<line x1="260.56" y1="380.70" x2="260.56" y2="486.40" stroke="#d8d8d8" stroke-width="0.65"/>
<line x1="284.50" y1="380.70" x2="284.50" y2="486.40" stroke="#d8d8d8" stroke-width="0.65"/>
<line x1="308.44" y1="380.70" x2="308.44" y2="486.40" stroke="#d8d8d8" stroke-width="0.65"/>
<line x1="332.38" y1="380.70" x2="332.38" y2="486.40" stroke="#d8d8d8" stroke-width="0.65"/>
<line x1="356.32" y1="380.70" x2="356.32" y2="486.40" stroke="#d8d8d8" stroke-width="0.65"/>
<line x1="203.90" y1="481.40" x2="205.50" y2="481.40" stroke="#555" stroke-width="0.75"/>
<text x="202.60" y="482.70" font-size="3.65" text-anchor="end" fill="#111" textLength="8.50" lengthAdjust="spacingAndGlyphs" stroke="#111" stroke-width="0.08" >−1.0</text>
<line x1="203.90" y1="464.18" x2="205.50" y2="464.18" stroke="#555" stroke-width="0.75"/>
<text x="202.60" y="465.48" font-size="3.65" text-anchor="end" fill="#111" textLength="8.50" lengthAdjust="spacingAndGlyphs" stroke="#111" stroke-width="0.08" >−0.8</text>
<line x1="203.90" y1="446.96" x2="205.50" y2="446.96" stroke="#555" stroke-width="0.75"/>
<text x="202.60" y="448.26" font-size="3.65" text-anchor="end" fill="#111" textLength="8.50" lengthAdjust="spacingAndGlyphs" stroke="#111" stroke-width="0.08" >−0.6</text>
<line x1="203.90" y1="429.74" x2="205.50" y2="429.74" stroke="#555" stroke-width="0.75"/>
<text x="202.60" y="431.04" font-size="3.65" text-anchor="end" fill="#111" textLength="8.50" lengthAdjust="spacingAndGlyphs" stroke="#111" stroke-width="0.08" >−0.4</text>
<line x1="203.90" y1="412.52" x2="205.50" y2="412.52" stroke="#555" stroke-width="0.75"/>
<text x="202.60" y="413.82" font-size="3.65" text-anchor="end" fill="#111" textLength="8.50" lengthAdjust="spacingAndGlyphs" stroke="#111" stroke-width="0.08" >−0.2</text>
<line x1="203.90" y1="395.30" x2="205.50" y2="395.30" stroke="#555" stroke-width="0.75"/>
<text x="202.60" y="396.60" font-size="3.65" text-anchor="end" fill="#111" textLength="5.57" lengthAdjust="spacingAndGlyphs" stroke="#111" stroke-width="0.08" >0.0</text>
<text x="284.50" y="379.10" font-size="6.25" text-anchor="middle" fill="#111" textLength="38.29" lengthAdjust="spacingAndGlyphs" stroke="#111" stroke-width="0.13" >Assortativity</text>
<text x="0" y="0" font-size="6.25" text-anchor="middle" fill="#111" stroke="#111" stroke-width="0.13" textLength="38.29" lengthAdjust="spacingAndGlyphs" transform="translate(190.60,433.55) rotate(-90)">Assortativity</text>
<line x1="212.68" y1="486.40" x2="212.68" y2="488.00" stroke="#555" stroke-width="0.75"/>
<text x="212.68" y="492.10" font-size="3.65" text-anchor="middle" fill="#111" textLength="2.23" lengthAdjust="spacingAndGlyphs" stroke="#111" stroke-width="0.08" >0</text>
<line x1="236.62" y1="486.40" x2="236.62" y2="488.00" stroke="#555" stroke-width="0.75"/>
<text x="236.62" y="492.10" font-size="3.65" text-anchor="middle" fill="#111" textLength="2.23" lengthAdjust="spacingAndGlyphs" stroke="#111" stroke-width="0.08" >5</text>
<line x1="260.56" y1="486.40" x2="260.56" y2="488.00" stroke="#555" stroke-width="0.75"/>
<text x="260.56" y="492.10" font-size="3.65" text-anchor="middle" fill="#111" textLength="4.45" lengthAdjust="spacingAndGlyphs" stroke="#111" stroke-width="0.08" >10</text>
<line x1="284.50" y1="486.40" x2="284.50" y2="488.00" stroke="#555" stroke-width="0.75"/>
<text x="284.50" y="492.10" font-size="3.65" text-anchor="middle" fill="#111" textLength="4.45" lengthAdjust="spacingAndGlyphs" stroke="#111" stroke-width="0.08" >15</text>
<line x1="308.44" y1="486.40" x2="308.44" y2="488.00" stroke="#555" stroke-width="0.75"/>
<text x="308.44" y="492.10" font-size="3.65" text-anchor="middle" fill="#111" textLength="4.45" lengthAdjust="spacingAndGlyphs" stroke="#111" stroke-width="0.08" >20</text>
<line x1="332.38" y1="486.40" x2="332.38" y2="488.00" stroke="#555" stroke-width="0.75"/>
<text x="332.38" y="492.10" font-size="3.65" text-anchor="middle" fill="#111" textLength="4.45" lengthAdjust="spacingAndGlyphs" stroke="#111" stroke-width="0.08" >25</text>
<line x1="356.32" y1="486.40" x2="356.32" y2="488.00" stroke="#555" stroke-width="0.75"/>
<text x="356.32" y="492.10" font-size="3.65" text-anchor="middle" fill="#111" textLength="4.45" lengthAdjust="spacingAndGlyphs" stroke="#111" stroke-width="0.08" >30</text>
<g clip-path="url(#c1)">
<polyline points="212.68,391.34 217.47,391.34 222.26,391.34 227.05,391.35 231.83,391.35 236.62,391.36 241.41,391.37 246.20,391.38 250.98,391.39 255.77,391.41 260.56,391.43 265.35,391.51 270.14,391.70 274.92,391.99 279.71,392.33 284.50,392.72 289.29,393.27 294.08,394.09 298.86,395.05 303.65,396.06 308.44,397.02 313.23,397.90 318.02,398.75 322.80,399.64 327.59,400.63 332.38,401.76 337.17,403.10 341.95,404.66 346.74,406.40 351.53,408.32 356.32,410.37" fill="none" stroke="#0a72cc" stroke-width="0.8"/>
<circle cx="212.68" cy="391.34" r="1.4" fill="#0a72cc"/>
<circle cx="217.47" cy="391.34" r="1.4" fill="#0a72cc"/>
<circle cx="222.26" cy="391.34" r="1.4" fill="#0a72cc"/>
<circle cx="227.05" cy="391.35" r="1.4" fill="#0a72cc"/>
<circle cx="231.83" cy="391.35" r="1.4" fill="#0a72cc"/>
<circle cx="236.62" cy="391.36" r="1.4" fill="#0a72cc"/>
<circle cx="241.41" cy="391.37" r="1.4" fill="#0a72cc"/>
<circle cx="246.20" cy="391.38" r="1.4" fill="#0a72cc"/>
<circle cx="250.98" cy="391.39" r="1.4" fill="#0a72cc"/>
<circle cx="255.77" cy="391.41" r="1.4" fill="#0a72cc"/>
<circle cx="260.56" cy="391.43" r="1.4" fill="#0a72cc"/>
<circle cx="265.35" cy="391.51" r="1.4" fill="#0a72cc"/>
<circle cx="270.14" cy="391.70" r="1.4" fill="#0a72cc"/>
<circle cx="274.92" cy="391.99" r="1.4" fill="#0a72cc"/>
<circle cx="279.71" cy="392.33" r="1.4" fill="#0a72cc"/>
<circle cx="284.50" cy="392.72" r="1.4" fill="#0a72cc"/>
<circle cx="289.29" cy="393.27" r="1.4" fill="#0a72cc"/>
<circle cx="294.08" cy="394.09" r="1.4" fill="#0a72cc"/>
<circle cx="298.86" cy="395.05" r="1.4" fill="#0a72cc"/>
<circle cx="303.65" cy="396.06" r="1.4" fill="#0a72cc"/>
<circle cx="308.44" cy="397.02" r="1.4" fill="#0a72cc"/>
<circle cx="313.23" cy="397.90" r="1.4" fill="#0a72cc"/>
<circle cx="318.02" cy="398.75" r="1.4" fill="#0a72cc"/>
<circle cx="322.80" cy="399.64" r="1.4" fill="#0a72cc"/>
<circle cx="327.59" cy="400.63" r="1.4" fill="#0a72cc"/>
<circle cx="332.38" cy="401.76" r="1.4" fill="#0a72cc"/>
<circle cx="337.17" cy="403.10" r="1.4" fill="#0a72cc"/>
<circle cx="341.95" cy="404.66" r="1.4" fill="#0a72cc"/>
<circle cx="346.74" cy="406.40" r="1.4" fill="#0a72cc"/>
<circle cx="351.53" cy="408.32" r="1.4" fill="#0a72cc"/>
<circle cx="356.32" cy="410.37" r="1.4" fill="#0a72cc"/>
<polyline points="212.68,394.09 217.47,393.95 222.26,393.84 227.05,393.76 231.83,393.69 236.62,393.64 241.41,393.61 246.20,393.59 250.98,393.58 255.77,393.58 260.56,393.58 265.35,393.63 270.14,393.78 274.92,394.01 279.71,394.29 284.50,394.61 289.29,395.12 294.08,395.92 298.86,396.87 303.65,397.86 308.44,398.74 313.23,399.49 318.02,400.17 322.80,400.87 327.59,401.66 332.38,402.62 337.17,403.85 341.95,405.36 346.74,407.13 351.53,409.10 356.32,411.23" fill="none" stroke="#ff7a0a" stroke-width="0.8"/>
<circle cx="212.68" cy="394.09" r="1.4" fill="#ff7a0a"/>
<circle cx="217.47" cy="393.95" r="1.4" fill="#ff7a0a"/>
<circle cx="222.26" cy="393.84" r="1.4" fill="#ff7a0a"/>
<circle cx="227.05" cy="393.76" r="1.4" fill="#ff7a0a"/>
<circle cx="231.83" cy="393.69" r="1.4" fill="#ff7a0a"/>
<circle cx="236.62" cy="393.64" r="1.4" fill="#ff7a0a"/>
<circle cx="241.41" cy="393.61" r="1.4" fill="#ff7a0a"/>
<circle cx="246.20" cy="393.59" r="1.4" fill="#ff7a0a"/>
<circle cx="250.98" cy="393.58" r="1.4" fill="#ff7a0a"/>
<circle cx="255.77" cy="393.58" r="1.4" fill="#ff7a0a"/>
<circle cx="260.56" cy="393.58" r="1.4" fill="#ff7a0a"/>
<circle cx="265.35" cy="393.63" r="1.4" fill="#ff7a0a"/>
<circle cx="270.14" cy="393.78" r="1.4" fill="#ff7a0a"/>
<circle cx="274.92" cy="394.01" r="1.4" fill="#ff7a0a"/>
<circle cx="279.71" cy="394.29" r="1.4" fill="#ff7a0a"/>
<circle cx="284.50" cy="394.61" r="1.4" fill="#ff7a0a"/>
<circle cx="289.29" cy="395.12" r="1.4" fill="#ff7a0a"/>
<circle cx="294.08" cy="395.92" r="1.4" fill="#ff7a0a"/>
<circle cx="298.86" cy="396.87" r="1.4" fill="#ff7a0a"/>
<circle cx="303.65" cy="397.86" r="1.4" fill="#ff7a0a"/>
<circle cx="308.44" cy="398.74" r="1.4" fill="#ff7a0a"/>
<circle cx="313.23" cy="399.49" r="1.4" fill="#ff7a0a"/>
<circle cx="318.02" cy="400.17" r="1.4" fill="#ff7a0a"/>
<circle cx="322.80" cy="400.87" r="1.4" fill="#ff7a0a"/>
<circle cx="327.59" cy="401.66" r="1.4" fill="#ff7a0a"/>
<circle cx="332.38" cy="402.62" r="1.4" fill="#ff7a0a"/>
<circle cx="337.17" cy="403.85" r="1.4" fill="#ff7a0a"/>
<circle cx="341.95" cy="405.36" r="1.4" fill="#ff7a0a"/>
<circle cx="346.74" cy="407.13" r="1.4" fill="#ff7a0a"/>
<circle cx="351.53" cy="409.10" r="1.4" fill="#ff7a0a"/>
<circle cx="356.32" cy="411.23" r="1.4" fill="#ff7a0a"/>
<polyline points="212.68,395.04 217.47,395.82 222.26,396.42 227.05,397.37 231.83,398.23 236.62,398.92 241.41,399.61 246.20,400.29 250.98,401.07 255.77,402.10 260.56,403.31 265.35,404.77 270.14,406.23 274.92,408.39 279.71,409.76 284.50,411.14 289.29,411.66 294.08,413.47 298.86,414.24 303.65,413.38 308.44,411.31 313.23,412.95 318.02,415.62 322.80,418.55 327.59,423.02 332.38,428.71 337.17,436.89 341.95,452.38 346.74,481.40" fill="none" stroke="#00aa22" stroke-width="0.8"/>
<circle cx="212.68" cy="395.04" r="1.4" fill="#00aa22"/>
<circle cx="217.47" cy="395.82" r="1.4" fill="#00aa22"/>
<circle cx="222.26" cy="396.42" r="1.4" fill="#00aa22"/>
<circle cx="227.05" cy="397.37" r="1.4" fill="#00aa22"/>
<circle cx="231.83" cy="398.23" r="1.4" fill="#00aa22"/>
<circle cx="236.62" cy="398.92" r="1.4" fill="#00aa22"/>
<circle cx="241.41" cy="399.61" r="1.4" fill="#00aa22"/>
<circle cx="246.20" cy="400.29" r="1.4" fill="#00aa22"/>
<circle cx="250.98" cy="401.07" r="1.4" fill="#00aa22"/>
<circle cx="255.77" cy="402.10" r="1.4" fill="#00aa22"/>
<circle cx="260.56" cy="403.31" r="1.4" fill="#00aa22"/>
<circle cx="265.35" cy="404.77" r="1.4" fill="#00aa22"/>
<circle cx="270.14" cy="406.23" r="1.4" fill="#00aa22"/>
<circle cx="274.92" cy="408.39" r="1.4" fill="#00aa22"/>
<circle cx="279.71" cy="409.76" r="1.4" fill="#00aa22"/>
<circle cx="284.50" cy="411.14" r="1.4" fill="#00aa22"/>
<circle cx="289.29" cy="411.66" r="1.4" fill="#00aa22"/>
<circle cx="294.08" cy="413.47" r="1.4" fill="#00aa22"/>
<circle cx="298.86" cy="414.24" r="1.4" fill="#00aa22"/>
<circle cx="303.65" cy="413.38" r="1.4" fill="#00aa22"/>
<circle cx="308.44" cy="411.31" r="1.4" fill="#00aa22"/>
<circle cx="313.23" cy="412.95" r="1.4" fill="#00aa22"/>
<circle cx="318.02" cy="415.62" r="1.4" fill="#00aa22"/>
<circle cx="322.80" cy="418.55" r="1.4" fill="#00aa22"/>
<circle cx="327.59" cy="423.02" r="1.4" fill="#00aa22"/>
<circle cx="332.38" cy="428.71" r="1.4" fill="#00aa22"/>
<circle cx="337.17" cy="436.89" r="1.4" fill="#00aa22"/>
<circle cx="341.95" cy="452.38" r="1.4" fill="#00aa22"/>
<circle cx="346.74" cy="481.40" r="1.4" fill="#00aa22"/>
<polyline points="212.68,392.72 217.47,392.72 222.26,392.72 227.05,392.73 231.83,392.74 236.62,392.76 241.41,392.78 246.20,392.80 250.98,392.83 255.77,392.86 260.56,392.89 265.35,392.97 270.14,393.14 274.92,393.38 279.71,393.68 284.50,394.01 289.29,394.51 294.08,395.26 298.86,396.15 303.65,397.06 308.44,397.88 313.23,398.57 318.02,399.19 322.80,399.83 327.59,400.57 332.38,401.50 337.17,402.76 341.95,404.40 346.74,406.35 351.53,408.57 356.32,410.97" fill="none" stroke="#ff0a0a" stroke-width="0.8"/>
<circle cx="212.68" cy="392.72" r="1.4" fill="#ff0a0a"/>
<circle cx="217.47" cy="392.72" r="1.4" fill="#ff0a0a"/>
<circle cx="222.26" cy="392.72" r="1.4" fill="#ff0a0a"/>
<circle cx="227.05" cy="392.73" r="1.4" fill="#ff0a0a"/>
<circle cx="231.83" cy="392.74" r="1.4" fill="#ff0a0a"/>
<circle cx="236.62" cy="392.76" r="1.4" fill="#ff0a0a"/>
<circle cx="241.41" cy="392.78" r="1.4" fill="#ff0a0a"/>
<circle cx="246.20" cy="392.80" r="1.4" fill="#ff0a0a"/>
<circle cx="250.98" cy="392.83" r="1.4" fill="#ff0a0a"/>
<circle cx="255.77" cy="392.86" r="1.4" fill="#ff0a0a"/>
<circle cx="260.56" cy="392.89" r="1.4" fill="#ff0a0a"/>
<circle cx="265.35" cy="392.97" r="1.4" fill="#ff0a0a"/>
<circle cx="270.14" cy="393.14" r="1.4" fill="#ff0a0a"/>
<circle cx="274.92" cy="393.38" r="1.4" fill="#ff0a0a"/>
<circle cx="279.71" cy="393.68" r="1.4" fill="#ff0a0a"/>
<circle cx="284.50" cy="394.01" r="1.4" fill="#ff0a0a"/>
<circle cx="289.29" cy="394.51" r="1.4" fill="#ff0a0a"/>
<circle cx="294.08" cy="395.26" r="1.4" fill="#ff0a0a"/>
<circle cx="298.86" cy="396.15" r="1.4" fill="#ff0a0a"/>
<circle cx="303.65" cy="397.06" r="1.4" fill="#ff0a0a"/>
<circle cx="308.44" cy="397.88" r="1.4" fill="#ff0a0a"/>
<circle cx="313.23" cy="398.57" r="1.4" fill="#ff0a0a"/>
<circle cx="318.02" cy="399.19" r="1.4" fill="#ff0a0a"/>
<circle cx="322.80" cy="399.83" r="1.4" fill="#ff0a0a"/>
<circle cx="327.59" cy="400.57" r="1.4" fill="#ff0a0a"/>
<circle cx="332.38" cy="401.50" r="1.4" fill="#ff0a0a"/>
<circle cx="337.17" cy="402.76" r="1.4" fill="#ff0a0a"/>
<circle cx="341.95" cy="404.40" r="1.4" fill="#ff0a0a"/>
<circle cx="346.74" cy="406.35" r="1.4" fill="#ff0a0a"/>
<circle cx="351.53" cy="408.57" r="1.4" fill="#ff0a0a"/>
<circle cx="356.32" cy="410.97" r="1.4" fill="#ff0a0a"/>
<polyline points="212.68,387.98 217.47,387.99 222.26,388.02 227.05,388.08 231.83,388.15 236.62,388.24 241.41,388.35 246.20,388.47 250.98,388.61 255.77,388.76 260.56,388.93 265.35,389.19 270.14,389.59 274.92,390.12 279.71,390.74 284.50,391.43 289.29,392.31 294.08,393.48 298.86,394.80 303.65,396.17 308.44,397.45 313.23,398.63 318.02,399.79 322.80,400.96 327.59,402.18 332.38,403.48 337.17,404.88 341.95,406.36 346.74,407.91 351.53,409.54 356.32,411.23" fill="none" stroke="#9d4cd0" stroke-width="0.8"/>
<circle cx="212.68" cy="387.98" r="1.4" fill="#9d4cd0"/>
<circle cx="217.47" cy="387.99" r="1.4" fill="#9d4cd0"/>
<circle cx="222.26" cy="388.02" r="1.4" fill="#9d4cd0"/>
<circle cx="227.05" cy="388.08" r="1.4" fill="#9d4cd0"/>
<circle cx="231.83" cy="388.15" r="1.4" fill="#9d4cd0"/>
<circle cx="236.62" cy="388.24" r="1.4" fill="#9d4cd0"/>
<circle cx="241.41" cy="388.35" r="1.4" fill="#9d4cd0"/>
<circle cx="246.20" cy="388.47" r="1.4" fill="#9d4cd0"/>
<circle cx="250.98" cy="388.61" r="1.4" fill="#9d4cd0"/>
<circle cx="255.77" cy="388.76" r="1.4" fill="#9d4cd0"/>
<circle cx="260.56" cy="388.93" r="1.4" fill="#9d4cd0"/>
<circle cx="265.35" cy="389.19" r="1.4" fill="#9d4cd0"/>
<circle cx="270.14" cy="389.59" r="1.4" fill="#9d4cd0"/>
<circle cx="274.92" cy="390.12" r="1.4" fill="#9d4cd0"/>
<circle cx="279.71" cy="390.74" r="1.4" fill="#9d4cd0"/>
<circle cx="284.50" cy="391.43" r="1.4" fill="#9d4cd0"/>
<circle cx="289.29" cy="392.31" r="1.4" fill="#9d4cd0"/>
<circle cx="294.08" cy="393.48" r="1.4" fill="#9d4cd0"/>
<circle cx="298.86" cy="394.80" r="1.4" fill="#9d4cd0"/>
<circle cx="303.65" cy="396.17" r="1.4" fill="#9d4cd0"/>
<circle cx="308.44" cy="397.45" r="1.4" fill="#9d4cd0"/>
<circle cx="313.23" cy="398.63" r="1.4" fill="#9d4cd0"/>
<circle cx="318.02" cy="399.79" r="1.4" fill="#9d4cd0"/>
<circle cx="322.80" cy="400.96" r="1.4" fill="#9d4cd0"/>
<circle cx="327.59" cy="402.18" r="1.4" fill="#9d4cd0"/>
<circle cx="332.38" cy="403.48" r="1.4" fill="#9d4cd0"/>
<circle cx="337.17" cy="404.88" r="1.4" fill="#9d4cd0"/>
<circle cx="341.95" cy="406.36" r="1.4" fill="#9d4cd0"/>
<circle cx="346.74" cy="407.91" r="1.4" fill="#9d4cd0"/>
<circle cx="351.53" cy="409.54" r="1.4" fill="#9d4cd0"/>
<circle cx="356.32" cy="411.23" r="1.4" fill="#9d4cd0"/>
<polyline points="212.68,393.41 217.47,393.41 222.26,393.41 227.05,393.41 231.83,393.41 236.62,393.41 241.41,393.41 246.20,393.41 250.98,393.41 255.77,393.41 260.56,393.41 265.35,393.46 270.14,393.61 274.92,393.84 279.71,394.12 284.50,394.44 289.29,394.93 294.08,395.67 298.86,396.55 303.65,397.47 308.44,398.31 313.23,399.04 318.02,399.72 322.80,400.43 327.59,401.22 332.38,402.19 337.17,403.42 341.95,404.93 346.74,406.70 351.53,408.67 356.32,410.80" fill="none" stroke="#9a4444" stroke-width="0.8"/>
<circle cx="212.68" cy="393.41" r="1.4" fill="#9a4444"/>
<circle cx="217.47" cy="393.41" r="1.4" fill="#9a4444"/>
<circle cx="222.26" cy="393.41" r="1.4" fill="#9a4444"/>
<circle cx="227.05" cy="393.41" r="1.4" fill="#9a4444"/>
<circle cx="231.83" cy="393.41" r="1.4" fill="#9a4444"/>
<circle cx="236.62" cy="393.41" r="1.4" fill="#9a4444"/>
<circle cx="241.41" cy="393.41" r="1.4" fill="#9a4444"/>
<circle cx="246.20" cy="393.41" r="1.4" fill="#9a4444"/>
<circle cx="250.98" cy="393.41" r="1.4" fill="#9a4444"/>
<circle cx="255.77" cy="393.41" r="1.4" fill="#9a4444"/>
<circle cx="260.56" cy="393.41" r="1.4" fill="#9a4444"/>
<circle cx="265.35" cy="393.46" r="1.4" fill="#9a4444"/>
<circle cx="270.14" cy="393.61" r="1.4" fill="#9a4444"/>
<circle cx="274.92" cy="393.84" r="1.4" fill="#9a4444"/>
<circle cx="279.71" cy="394.12" r="1.4" fill="#9a4444"/>
<circle cx="284.50" cy="394.44" r="1.4" fill="#9a4444"/>
<circle cx="289.29" cy="394.93" r="1.4" fill="#9a4444"/>
<circle cx="294.08" cy="395.67" r="1.4" fill="#9a4444"/>
<circle cx="298.86" cy="396.55" r="1.4" fill="#9a4444"/>
<circle cx="303.65" cy="397.47" r="1.4" fill="#9a4444"/>
<circle cx="308.44" cy="398.31" r="1.4" fill="#9a4444"/>
<circle cx="313.23" cy="399.04" r="1.4" fill="#9a4444"/>
<circle cx="318.02" cy="399.72" r="1.4" fill="#9a4444"/>
<circle cx="322.80" cy="400.43" r="1.4" fill="#9a4444"/>
<circle cx="327.59" cy="401.22" r="1.4" fill="#9a4444"/>
<circle cx="332.38" cy="402.19" r="1.4" fill="#9a4444"/>
<circle cx="337.17" cy="403.42" r="1.4" fill="#9a4444"/>
<circle cx="341.95" cy="404.93" r="1.4" fill="#9a4444"/>
<circle cx="346.74" cy="406.70" r="1.4" fill="#9a4444"/>
<circle cx="351.53" cy="408.67" r="1.4" fill="#9a4444"/>
<circle cx="356.32" cy="410.80" r="1.4" fill="#9a4444"/>
<polyline points="212.68,389.53 217.47,389.54 222.26,389.56 227.05,389.59 231.83,389.63 236.62,389.69 241.41,389.76 246.20,389.83 250.98,389.92 255.77,390.02 260.56,390.13 265.35,390.33 270.14,390.66 274.92,391.12 279.71,391.67 284.50,392.29 289.29,393.19 294.08,394.47 298.86,395.95 303.65,397.44 308.44,398.74 313.23,399.82 318.02,400.81 322.80,401.77 327.59,402.78 332.38,403.91 337.17,405.18 341.95,406.55 346.74,408.02 351.53,409.59 356.32,411.23" fill="none" stroke="#ff5ccc" stroke-width="0.8"/>
<circle cx="212.68" cy="389.53" r="1.4" fill="#ff5ccc"/>
<circle cx="217.47" cy="389.54" r="1.4" fill="#ff5ccc"/>
<circle cx="222.26" cy="389.56" r="1.4" fill="#ff5ccc"/>
<circle cx="227.05" cy="389.59" r="1.4" fill="#ff5ccc"/>
<circle cx="231.83" cy="389.63" r="1.4" fill="#ff5ccc"/>
<circle cx="236.62" cy="389.69" r="1.4" fill="#ff5ccc"/>
<circle cx="241.41" cy="389.76" r="1.4" fill="#ff5ccc"/>
<circle cx="246.20" cy="389.83" r="1.4" fill="#ff5ccc"/>
<circle cx="250.98" cy="389.92" r="1.4" fill="#ff5ccc"/>
<circle cx="255.77" cy="390.02" r="1.4" fill="#ff5ccc"/>
<circle cx="260.56" cy="390.13" r="1.4" fill="#ff5ccc"/>
<circle cx="265.35" cy="390.33" r="1.4" fill="#ff5ccc"/>
<circle cx="270.14" cy="390.66" r="1.4" fill="#ff5ccc"/>
<circle cx="274.92" cy="391.12" r="1.4" fill="#ff5ccc"/>
<circle cx="279.71" cy="391.67" r="1.4" fill="#ff5ccc"/>
<circle cx="284.50" cy="392.29" r="1.4" fill="#ff5ccc"/>
<circle cx="289.29" cy="393.19" r="1.4" fill="#ff5ccc"/>
<circle cx="294.08" cy="394.47" r="1.4" fill="#ff5ccc"/>
<circle cx="298.86" cy="395.95" r="1.4" fill="#ff5ccc"/>
<circle cx="303.65" cy="397.44" r="1.4" fill="#ff5ccc"/>
<circle cx="308.44" cy="398.74" r="1.4" fill="#ff5ccc"/>
<circle cx="313.23" cy="399.82" r="1.4" fill="#ff5ccc"/>
<circle cx="318.02" cy="400.81" r="1.4" fill="#ff5ccc"/>
<circle cx="322.80" cy="401.77" r="1.4" fill="#ff5ccc"/>
<circle cx="327.59" cy="402.78" r="1.4" fill="#ff5ccc"/>
<circle cx="332.38" cy="403.91" r="1.4" fill="#ff5ccc"/>
<circle cx="337.17" cy="405.18" r="1.4" fill="#ff5ccc"/>
<circle cx="341.95" cy="406.55" r="1.4" fill="#ff5ccc"/>
<circle cx="346.74" cy="408.02" r="1.4" fill="#ff5ccc"/>
<circle cx="351.53" cy="409.59" r="1.4" fill="#ff5ccc"/>
<circle cx="356.32" cy="411.23" r="1.4" fill="#ff5ccc"/>
<polyline points="212.68,390.56 217.47,390.57 222.26,390.59 227.05,390.63 231.83,390.67 236.62,390.73 241.41,390.80 246.20,390.87 250.98,390.96 255.77,391.06 260.56,391.17 265.35,391.34 270.14,391.61 274.92,391.96 279.71,392.36 284.50,392.80 289.29,393.36 294.08,394.07 298.86,394.86 303.65,395.64 308.44,396.33 313.23,396.92 318.02,397.45 322.80,397.89 327.59,398.30 332.38,398.92 337.17,400.43 341.95,402.53 346.74,404.57 351.53,406.75 356.32,409.08" fill="none" stroke="#787878" stroke-width="0.8"/>
<circle cx="212.68" cy="390.56" r="1.4" fill="#787878"/>
<circle cx="217.47" cy="390.57" r="1.4" fill="#787878"/>
<circle cx="222.26" cy="390.59" r="1.4" fill="#787878"/>
<circle cx="227.05" cy="390.63" r="1.4" fill="#787878"/>
<circle cx="231.83" cy="390.67" r="1.4" fill="#787878"/>
<circle cx="236.62" cy="390.73" r="1.4" fill="#787878"/>
<circle cx="241.41" cy="390.80" r="1.4" fill="#787878"/>
<circle cx="246.20" cy="390.87" r="1.4" fill="#787878"/>
<circle cx="250.98" cy="390.96" r="1.4" fill="#787878"/>
<circle cx="255.77" cy="391.06" r="1.4" fill="#787878"/>
<circle cx="260.56" cy="391.17" r="1.4" fill="#787878"/>
<circle cx="265.35" cy="391.34" r="1.4" fill="#787878"/>
<circle cx="270.14" cy="391.61" r="1.4" fill="#787878"/>
<circle cx="274.92" cy="391.96" r="1.4" fill="#787878"/>
<circle cx="279.71" cy="392.36" r="1.4" fill="#787878"/>
<circle cx="284.50" cy="392.80" r="1.4" fill="#787878"/>
<circle cx="289.29" cy="393.36" r="1.4" fill="#787878"/>
<circle cx="294.08" cy="394.07" r="1.4" fill="#787878"/>
<circle cx="298.86" cy="394.86" r="1.4" fill="#787878"/>
<circle cx="303.65" cy="395.64" r="1.4" fill="#787878"/>
<circle cx="308.44" cy="396.33" r="1.4" fill="#787878"/>
<circle cx="313.23" cy="396.92" r="1.4" fill="#787878"/>
<circle cx="318.02" cy="397.45" r="1.4" fill="#787878"/>
<circle cx="322.80" cy="397.89" r="1.4" fill="#787878"/>
<circle cx="327.59" cy="398.30" r="1.4" fill="#787878"/>
<circle cx="332.38" cy="398.92" r="1.4" fill="#787878"/>
<circle cx="337.17" cy="400.43" r="1.4" fill="#787878"/>
<circle cx="341.95" cy="402.53" r="1.4" fill="#787878"/>
<circle cx="346.74" cy="404.57" r="1.4" fill="#787878"/>
<circle cx="351.53" cy="406.75" r="1.4" fill="#787878"/>
<circle cx="356.32" cy="409.08" r="1.4" fill="#787878"/>
<polyline points="212.68,385.57 217.47,385.62 222.26,385.71 227.05,385.82 231.83,385.95 236.62,386.09 241.41,386.25 246.20,386.45 250.98,386.69 255.77,386.97 260.56,387.29 265.35,387.70 270.14,388.22 274.92,388.83 279.71,389.53 284.50,390.31 289.29,391.26 294.08,392.45 298.86,393.77 303.65,395.10 308.44,396.33 313.23,397.42 318.02,398.57 322.80,400.00 327.59,401.61 332.38,403.31 337.17,405.09 341.95,406.92 346.74,408.71 351.53,410.49 356.32,412.26" fill="none" stroke="#c8c800" stroke-width="0.8"/>
<circle cx="212.68" cy="385.57" r="1.4" fill="#c8c800"/>
<circle cx="217.47" cy="385.62" r="1.4" fill="#c8c800"/>
<circle cx="222.26" cy="385.71" r="1.4" fill="#c8c800"/>
<circle cx="227.05" cy="385.82" r="1.4" fill="#c8c800"/>
<circle cx="231.83" cy="385.95" r="1.4" fill="#c8c800"/>
<circle cx="236.62" cy="386.09" r="1.4" fill="#c8c800"/>
<circle cx="241.41" cy="386.25" r="1.4" fill="#c8c800"/>
<circle cx="246.20" cy="386.45" r="1.4" fill="#c8c800"/>
<circle cx="250.98" cy="386.69" r="1.4" fill="#c8c800"/>
<circle cx="255.77" cy="386.97" r="1.4" fill="#c8c800"/>
<circle cx="260.56" cy="387.29" r="1.4" fill="#c8c800"/>
<circle cx="265.35" cy="387.70" r="1.4" fill="#c8c800"/>
<circle cx="270.14" cy="388.22" r="1.4" fill="#c8c800"/>
<circle cx="274.92" cy="388.83" r="1.4" fill="#c8c800"/>
<circle cx="279.71" cy="389.53" r="1.4" fill="#c8c800"/>
<circle cx="284.50" cy="390.31" r="1.4" fill="#c8c800"/>
<circle cx="289.29" cy="391.26" r="1.4" fill="#c8c800"/>
<circle cx="294.08" cy="392.45" r="1.4" fill="#c8c800"/>
<circle cx="298.86" cy="393.77" r="1.4" fill="#c8c800"/>
<circle cx="303.65" cy="395.10" r="1.4" fill="#c8c800"/>
<circle cx="308.44" cy="396.33" r="1.4" fill="#c8c800"/>
<circle cx="313.23" cy="397.42" r="1.4" fill="#c8c800"/>
<circle cx="318.02" cy="398.57" r="1.4" fill="#c8c800"/>
<circle cx="322.80" cy="400.00" r="1.4" fill="#c8c800"/>
<circle cx="327.59" cy="401.61" r="1.4" fill="#c8c800"/>
<circle cx="332.38" cy="403.31" r="1.4" fill="#c8c800"/>
<circle cx="337.17" cy="405.09" r="1.4" fill="#c8c800"/>
<circle cx="341.95" cy="406.92" r="1.4" fill="#c8c800"/>
<circle cx="346.74" cy="408.71" r="1.4" fill="#c8c800"/>
<circle cx="351.53" cy="410.49" r="1.4" fill="#c8c800"/>
<circle cx="356.32" cy="412.26" r="1.4" fill="#c8c800"/>
</g>
<rect x="205.50" y="380.70" width="158.00" height="105.70" fill="none" stroke="#8a8a8a" stroke-width="0.8"/>
<line x1="386.50" y1="481.20" x2="544.60" y2="481.20" stroke="#d8d8d8" stroke-width="0.65"/>
<line x1="386.50" y1="467.44" x2="544.60" y2="467.44" stroke="#d8d8d8" stroke-width="0.65"/>
<line x1="386.50" y1="453.68" x2="544.60" y2="453.68" stroke="#d8d8d8" stroke-width="0.65"/>
<line x1="386.50" y1="439.92" x2="544.60" y2="439.92" stroke="#d8d8d8" stroke-width="0.65"/>
<line x1="386.50" y1="426.16" x2="544.60" y2="426.16" stroke="#d8d8d8" stroke-width="0.65"/>
<line x1="386.50" y1="412.40" x2="544.60" y2="412.40" stroke="#d8d8d8" stroke-width="0.65"/>
<line x1="386.50" y1="398.64" x2="544.60" y2="398.64" stroke="#d8d8d8" stroke-width="0.65"/>
<line x1="386.50" y1="384.88" x2="544.60" y2="384.88" stroke="#d8d8d8" stroke-width="0.65"/>
<line x1="393.69" y1="380.70" x2="393.69" y2="486.40" stroke="#d8d8d8" stroke-width="0.65"/>
<line x1="417.64" y1="380.70" x2="417.64" y2="486.40" stroke="#d8d8d8" stroke-width="0.65"/>
<line x1="441.60" y1="380.70" x2="441.60" y2="486.40" stroke="#d8d8d8" stroke-width="0.65"/>
<line x1="465.55" y1="380.70" x2="465.55" y2="486.40" stroke="#d8d8d8" stroke-width="0.65"/>
<line x1="489.50" y1="380.70" x2="489.50" y2="486.40" stroke="#d8d8d8" stroke-width="0.65"/>
<line x1="513.46" y1="380.70" x2="513.46" y2="486.40" stroke="#d8d8d8" stroke-width="0.65"/>
<line x1="537.41" y1="380.70" x2="537.41" y2="486.40" stroke="#d8d8d8" stroke-width="0.65"/>
<line x1="384.90" y1="481.20" x2="386.50" y2="481.20" stroke="#555" stroke-width="0.75"/>
<text x="383.60" y="482.50" font-size="3.65" text-anchor="end" fill="#111" textLength="5.57" lengthAdjust="spacingAndGlyphs" stroke="#111" stroke-width="0.08" >0.0</text>
<line x1="384.90" y1="467.44" x2="386.50" y2="467.44" stroke="#555" stroke-width="0.75"/>
<text x="383.60" y="468.74" font-size="3.65" text-anchor="end" fill="#111" textLength="5.57" lengthAdjust="spacingAndGlyphs" stroke="#111" stroke-width="0.08" >0.1</text>
<line x1="384.90" y1="453.68" x2="386.50" y2="453.68" stroke="#555" stroke-width="0.75"/>
<text x="383.60" y="454.98" font-size="3.65" text-anchor="end" fill="#111" textLength="5.57" lengthAdjust="spacingAndGlyphs" stroke="#111" stroke-width="0.08" >0.2</text>
<line x1="384.90" y1="439.92" x2="386.50" y2="439.92" stroke="#555" stroke-width="0.75"/>
<text x="383.60" y="441.22" font-size="3.65" text-anchor="end" fill="#111" textLength="5.57" lengthAdjust="spacingAndGlyphs" stroke="#111" stroke-width="0.08" >0.3</text>
<line x1="384.90" y1="426.16" x2="386.50" y2="426.16" stroke="#555" stroke-width="0.75"/>
<text x="383.60" y="427.46" font-size="3.65" text-anchor="end" fill="#111" textLength="5.57" lengthAdjust="spacingAndGlyphs" stroke="#111" stroke-width="0.08" >0.4</text>
<line x1="384.90" y1="412.40" x2="386.50" y2="412.40" stroke="#555" stroke-width="0.75"/>
<text x="383.60" y="413.70" font-size="3.65" text-anchor="end" fill="#111" textLength="5.57" lengthAdjust="spacingAndGlyphs" stroke="#111" stroke-width="0.08" >0.5</text>
<line x1="384.90" y1="398.64" x2="386.50" y2="398.64" stroke="#555" stroke-width="0.75"/>
<text x="383.60" y="399.94" font-size="3.65" text-anchor="end" fill="#111" textLength="5.57" lengthAdjust="spacingAndGlyphs" stroke="#111" stroke-width="0.08" >0.6</text>
<line x1="384.90" y1="384.88" x2="386.50" y2="384.88" stroke="#555" stroke-width="0.75"/>
<text x="383.60" y="386.18" font-size="3.65" text-anchor="end" fill="#111" textLength="5.57" lengthAdjust="spacingAndGlyphs" stroke="#111" stroke-width="0.08" >0.7</text>
<text x="465.55" y="379.10" font-size="6.25" text-anchor="middle" fill="#111" textLength="32.37" lengthAdjust="spacingAndGlyphs" stroke="#111" stroke-width="0.13" >Modularity</text>
<text x="0" y="0" font-size="6.25" text-anchor="middle" fill="#111" stroke="#111" stroke-width="0.13" textLength="32.37" lengthAdjust="spacingAndGlyphs" transform="translate(375.30,433.55) rotate(-90)">Modularity</text>
<line x1="393.69" y1="486.40" x2="393.69" y2="488.00" stroke="#555" stroke-width="0.75"/>
<text x="393.69" y="492.10" font-size="3.65" text-anchor="middle" fill="#111" textLength="2.23" lengthAdjust="spacingAndGlyphs" stroke="#111" stroke-width="0.08" >0</text>
<line x1="417.64" y1="486.40" x2="417.64" y2="488.00" stroke="#555" stroke-width="0.75"/>
<text x="417.64" y="492.10" font-size="3.65" text-anchor="middle" fill="#111" textLength="2.23" lengthAdjust="spacingAndGlyphs" stroke="#111" stroke-width="0.08" >5</text>
<line x1="441.60" y1="486.40" x2="441.60" y2="488.00" stroke="#555" stroke-width="0.75"/>
<text x="441.60" y="492.10" font-size="3.65" text-anchor="middle" fill="#111" textLength="4.45" lengthAdjust="spacingAndGlyphs" stroke="#111" stroke-width="0.08" >10</text>
<line x1="465.55" y1="486.40" x2="465.55" y2="488.00" stroke="#555" stroke-width="0.75"/>
<text x="465.55" y="492.10" font-size="3.65" text-anchor="middle" fill="#111" textLength="4.45" lengthAdjust="spacingAndGlyphs" stroke="#111" stroke-width="0.08" >15</text>
<line x1="489.50" y1="486.40" x2="489.50" y2="488.00" stroke="#555" stroke-width="0.75"/>
<text x="489.50" y="492.10" font-size="3.65" text-anchor="middle" fill="#111" textLength="4.45" lengthAdjust="spacingAndGlyphs" stroke="#111" stroke-width="0.08" >20</text>
<line x1="513.46" y1="486.40" x2="513.46" y2="488.00" stroke="#555" stroke-width="0.75"/>
<text x="513.46" y="492.10" font-size="3.65" text-anchor="middle" fill="#111" textLength="4.45" lengthAdjust="spacingAndGlyphs" stroke="#111" stroke-width="0.08" >25</text>
<line x1="537.41" y1="486.40" x2="537.41" y2="488.00" stroke="#555" stroke-width="0.75"/>
<text x="537.41" y="492.10" font-size="3.65" text-anchor="middle" fill="#111" textLength="4.45" lengthAdjust="spacingAndGlyphs" stroke="#111" stroke-width="0.08" >30</text>
<g clip-path="url(#c2)">
<polyline points="393.69,401.80 398.48,402.32 403.27,402.89 408.06,403.50 412.85,404.15 417.64,404.83 422.43,405.55 427.22,406.31 432.01,407.13 436.80,408.01 441.60,408.96 446.39,410.03 451.18,411.23 455.97,412.51 460.76,413.83 465.55,415.15 470.34,416.45 475.13,417.77 479.92,419.12 484.71,420.53 489.50,422.03 494.30,423.63 499.09,425.30 503.88,427.08 508.67,428.97 513.46,430.98 518.25,433.14 523.04,435.48 527.83,437.97 532.62,440.60 537.41,443.36" fill="none" stroke="#0a72cc" stroke-width="0.8"/>
<circle cx="393.69" cy="401.80" r="1.4" fill="#0a72cc"/>
<circle cx="398.48" cy="402.32" r="1.4" fill="#0a72cc"/>
<circle cx="403.27" cy="402.89" r="1.4" fill="#0a72cc"/>
<circle cx="408.06" cy="403.50" r="1.4" fill="#0a72cc"/>
<circle cx="412.85" cy="404.15" r="1.4" fill="#0a72cc"/>
<circle cx="417.64" cy="404.83" r="1.4" fill="#0a72cc"/>
<circle cx="422.43" cy="405.55" r="1.4" fill="#0a72cc"/>
<circle cx="427.22" cy="406.31" r="1.4" fill="#0a72cc"/>
<circle cx="432.01" cy="407.13" r="1.4" fill="#0a72cc"/>
<circle cx="436.80" cy="408.01" r="1.4" fill="#0a72cc"/>
<circle cx="441.60" cy="408.96" r="1.4" fill="#0a72cc"/>
<circle cx="446.39" cy="410.03" r="1.4" fill="#0a72cc"/>
<circle cx="451.18" cy="411.23" r="1.4" fill="#0a72cc"/>
<circle cx="455.97" cy="412.51" r="1.4" fill="#0a72cc"/>
<circle cx="460.76" cy="413.83" r="1.4" fill="#0a72cc"/>
<circle cx="465.55" cy="415.15" r="1.4" fill="#0a72cc"/>
<circle cx="470.34" cy="416.45" r="1.4" fill="#0a72cc"/>
<circle cx="475.13" cy="417.77" r="1.4" fill="#0a72cc"/>
<circle cx="479.92" cy="419.12" r="1.4" fill="#0a72cc"/>
<circle cx="484.71" cy="420.53" r="1.4" fill="#0a72cc"/>
<circle cx="489.50" cy="422.03" r="1.4" fill="#0a72cc"/>
<circle cx="494.30" cy="423.63" r="1.4" fill="#0a72cc"/>
<circle cx="499.09" cy="425.30" r="1.4" fill="#0a72cc"/>
<circle cx="503.88" cy="427.08" r="1.4" fill="#0a72cc"/>
<circle cx="508.67" cy="428.97" r="1.4" fill="#0a72cc"/>
<circle cx="513.46" cy="430.98" r="1.4" fill="#0a72cc"/>
<circle cx="518.25" cy="433.14" r="1.4" fill="#0a72cc"/>
<circle cx="523.04" cy="435.48" r="1.4" fill="#0a72cc"/>
<circle cx="527.83" cy="437.97" r="1.4" fill="#0a72cc"/>
<circle cx="532.62" cy="440.60" r="1.4" fill="#0a72cc"/>
<circle cx="537.41" cy="443.36" r="1.4" fill="#0a72cc"/>
<polyline points="393.69,414.88 398.48,415.17 403.27,415.50 408.06,415.86 412.85,416.25 417.64,416.67 422.43,417.11 427.22,417.58 432.01,418.10 436.80,418.66 441.60,419.28 446.39,419.97 451.18,420.75 455.97,421.62 460.76,422.55 465.55,423.55 470.34,424.64 475.13,425.85 479.92,427.16 484.71,428.56 489.50,430.01 494.30,431.54 499.09,433.15 503.88,434.87 508.67,436.71 513.46,438.68 518.25,440.82 523.04,443.14 527.83,445.63 532.62,448.28 537.41,451.07" fill="none" stroke="#ff7a0a" stroke-width="0.8"/>
<circle cx="393.69" cy="414.88" r="1.4" fill="#ff7a0a"/>
<circle cx="398.48" cy="415.17" r="1.4" fill="#ff7a0a"/>
<circle cx="403.27" cy="415.50" r="1.4" fill="#ff7a0a"/>
<circle cx="408.06" cy="415.86" r="1.4" fill="#ff7a0a"/>
<circle cx="412.85" cy="416.25" r="1.4" fill="#ff7a0a"/>
<circle cx="417.64" cy="416.67" r="1.4" fill="#ff7a0a"/>
<circle cx="422.43" cy="417.11" r="1.4" fill="#ff7a0a"/>
<circle cx="427.22" cy="417.58" r="1.4" fill="#ff7a0a"/>
<circle cx="432.01" cy="418.10" r="1.4" fill="#ff7a0a"/>
<circle cx="436.80" cy="418.66" r="1.4" fill="#ff7a0a"/>
<circle cx="441.60" cy="419.28" r="1.4" fill="#ff7a0a"/>
<circle cx="446.39" cy="419.97" r="1.4" fill="#ff7a0a"/>
<circle cx="451.18" cy="420.75" r="1.4" fill="#ff7a0a"/>
<circle cx="455.97" cy="421.62" r="1.4" fill="#ff7a0a"/>
<circle cx="460.76" cy="422.55" r="1.4" fill="#ff7a0a"/>
<circle cx="465.55" cy="423.55" r="1.4" fill="#ff7a0a"/>
<circle cx="470.34" cy="424.64" r="1.4" fill="#ff7a0a"/>
<circle cx="475.13" cy="425.85" r="1.4" fill="#ff7a0a"/>
<circle cx="479.92" cy="427.16" r="1.4" fill="#ff7a0a"/>
<circle cx="484.71" cy="428.56" r="1.4" fill="#ff7a0a"/>
<circle cx="489.50" cy="430.01" r="1.4" fill="#ff7a0a"/>
<circle cx="494.30" cy="431.54" r="1.4" fill="#ff7a0a"/>
<circle cx="499.09" cy="433.15" r="1.4" fill="#ff7a0a"/>
<circle cx="503.88" cy="434.87" r="1.4" fill="#ff7a0a"/>
<circle cx="508.67" cy="436.71" r="1.4" fill="#ff7a0a"/>
<circle cx="513.46" cy="438.68" r="1.4" fill="#ff7a0a"/>
<circle cx="518.25" cy="440.82" r="1.4" fill="#ff7a0a"/>
<circle cx="523.04" cy="443.14" r="1.4" fill="#ff7a0a"/>
<circle cx="527.83" cy="445.63" r="1.4" fill="#ff7a0a"/>
<circle cx="532.62" cy="448.28" r="1.4" fill="#ff7a0a"/>
<circle cx="537.41" cy="451.07" r="1.4" fill="#ff7a0a"/>
<polyline points="393.69,398.23 398.48,399.08 403.27,400.11 408.06,401.29 412.85,402.60 417.64,404.01 422.43,405.59 427.22,407.41 432.01,409.42 436.80,411.56 441.60,413.78 446.39,416.28 451.18,418.99 455.97,421.48 460.76,423.51 465.55,425.47 470.34,427.67 475.13,431.11 479.92,434.55 484.71,437.31 489.50,440.33 494.30,443.36 499.09,446.25 503.88,451.75 508.67,456.16 513.46,462.35 518.25,469.09 523.04,475.70 527.83,481.20" fill="none" stroke="#00aa22" stroke-width="0.8"/>
<circle cx="393.69" cy="398.23" r="1.4" fill="#00aa22"/>
<circle cx="398.48" cy="399.08" r="1.4" fill="#00aa22"/>
<circle cx="403.27" cy="400.11" r="1.4" fill="#00aa22"/>
<circle cx="408.06" cy="401.29" r="1.4" fill="#00aa22"/>
<circle cx="412.85" cy="402.60" r="1.4" fill="#00aa22"/>
<circle cx="417.64" cy="404.01" r="1.4" fill="#00aa22"/>
<circle cx="422.43" cy="405.59" r="1.4" fill="#00aa22"/>
<circle cx="427.22" cy="407.41" r="1.4" fill="#00aa22"/>
<circle cx="432.01" cy="409.42" r="1.4" fill="#00aa22"/>
<circle cx="436.80" cy="411.56" r="1.4" fill="#00aa22"/>
<circle cx="441.60" cy="413.78" r="1.4" fill="#00aa22"/>
<circle cx="446.39" cy="416.28" r="1.4" fill="#00aa22"/>
<circle cx="451.18" cy="418.99" r="1.4" fill="#00aa22"/>
<circle cx="455.97" cy="421.48" r="1.4" fill="#00aa22"/>
<circle cx="460.76" cy="423.51" r="1.4" fill="#00aa22"/>
<circle cx="465.55" cy="425.47" r="1.4" fill="#00aa22"/>
<circle cx="470.34" cy="427.67" r="1.4" fill="#00aa22"/>
<circle cx="475.13" cy="431.11" r="1.4" fill="#00aa22"/>
<circle cx="479.92" cy="434.55" r="1.4" fill="#00aa22"/>
<circle cx="484.71" cy="437.31" r="1.4" fill="#00aa22"/>
<circle cx="489.50" cy="440.33" r="1.4" fill="#00aa22"/>
<circle cx="494.30" cy="443.36" r="1.4" fill="#00aa22"/>
<circle cx="499.09" cy="446.25" r="1.4" fill="#00aa22"/>
<circle cx="503.88" cy="451.75" r="1.4" fill="#00aa22"/>
<circle cx="508.67" cy="456.16" r="1.4" fill="#00aa22"/>
<circle cx="513.46" cy="462.35" r="1.4" fill="#00aa22"/>
<circle cx="518.25" cy="469.09" r="1.4" fill="#00aa22"/>
<circle cx="523.04" cy="475.70" r="1.4" fill="#00aa22"/>
<circle cx="527.83" cy="481.20" r="1.4" fill="#00aa22"/>
<polyline points="393.69,385.71 398.48,386.58 403.27,387.42 408.06,388.25 412.85,389.05 417.64,389.83 422.43,390.57 427.22,391.26 432.01,391.94 436.80,392.64 441.60,393.41 446.39,394.24 451.18,395.12 455.97,396.05 460.76,397.04 465.55,398.09 470.34,399.23 475.13,400.46 479.92,401.77 484.71,403.14 489.50,404.56 494.30,406.00 499.09,407.49 503.88,409.06 508.67,410.73 513.46,412.54 518.25,414.51 523.04,416.65 527.83,418.95 532.62,421.39 537.41,423.96" fill="none" stroke="#ff0a0a" stroke-width="0.8"/>
<circle cx="393.69" cy="385.71" r="1.4" fill="#ff0a0a"/>
<circle cx="398.48" cy="386.58" r="1.4" fill="#ff0a0a"/>
<circle cx="403.27" cy="387.42" r="1.4" fill="#ff0a0a"/>
<circle cx="408.06" cy="388.25" r="1.4" fill="#ff0a0a"/>
<circle cx="412.85" cy="389.05" r="1.4" fill="#ff0a0a"/>
<circle cx="417.64" cy="389.83" r="1.4" fill="#ff0a0a"/>
<circle cx="422.43" cy="390.57" r="1.4" fill="#ff0a0a"/>
<circle cx="427.22" cy="391.26" r="1.4" fill="#ff0a0a"/>
<circle cx="432.01" cy="391.94" r="1.4" fill="#ff0a0a"/>
<circle cx="436.80" cy="392.64" r="1.4" fill="#ff0a0a"/>
<circle cx="441.60" cy="393.41" r="1.4" fill="#ff0a0a"/>
<circle cx="446.39" cy="394.24" r="1.4" fill="#ff0a0a"/>
<circle cx="451.18" cy="395.12" r="1.4" fill="#ff0a0a"/>
<circle cx="455.97" cy="396.05" r="1.4" fill="#ff0a0a"/>
<circle cx="460.76" cy="397.04" r="1.4" fill="#ff0a0a"/>
<circle cx="465.55" cy="398.09" r="1.4" fill="#ff0a0a"/>
<circle cx="470.34" cy="399.23" r="1.4" fill="#ff0a0a"/>
<circle cx="475.13" cy="400.46" r="1.4" fill="#ff0a0a"/>
<circle cx="479.92" cy="401.77" r="1.4" fill="#ff0a0a"/>
<circle cx="484.71" cy="403.14" r="1.4" fill="#ff0a0a"/>
<circle cx="489.50" cy="404.56" r="1.4" fill="#ff0a0a"/>
<circle cx="494.30" cy="406.00" r="1.4" fill="#ff0a0a"/>
<circle cx="499.09" cy="407.49" r="1.4" fill="#ff0a0a"/>
<circle cx="503.88" cy="409.06" r="1.4" fill="#ff0a0a"/>
<circle cx="508.67" cy="410.73" r="1.4" fill="#ff0a0a"/>
<circle cx="513.46" cy="412.54" r="1.4" fill="#ff0a0a"/>
<circle cx="518.25" cy="414.51" r="1.4" fill="#ff0a0a"/>
<circle cx="523.04" cy="416.65" r="1.4" fill="#ff0a0a"/>
<circle cx="527.83" cy="418.95" r="1.4" fill="#ff0a0a"/>
<circle cx="532.62" cy="421.39" r="1.4" fill="#ff0a0a"/>
<circle cx="537.41" cy="423.96" r="1.4" fill="#ff0a0a"/>
<polyline points="393.69,407.58 398.48,407.86 403.27,408.24 408.06,408.69 412.85,409.22 417.64,409.79 422.43,410.44 427.22,411.23 432.01,412.13 436.80,413.12 441.60,414.19 446.39,415.44 451.18,416.90 455.97,418.48 460.76,420.04 465.55,421.48 470.34,422.75 475.13,423.92 479.92,425.08 484.71,426.31 489.50,427.67 494.30,429.21 499.09,430.90 503.88,432.70 508.67,434.62 513.46,436.62 518.25,438.73 523.04,440.98 527.83,443.35 532.62,445.85 537.41,448.45" fill="none" stroke="#9d4cd0" stroke-width="0.8"/>
<circle cx="393.69" cy="407.58" r="1.4" fill="#9d4cd0"/>
<circle cx="398.48" cy="407.86" r="1.4" fill="#9d4cd0"/>
<circle cx="403.27" cy="408.24" r="1.4" fill="#9d4cd0"/>
<circle cx="408.06" cy="408.69" r="1.4" fill="#9d4cd0"/>
<circle cx="412.85" cy="409.22" r="1.4" fill="#9d4cd0"/>
<circle cx="417.64" cy="409.79" r="1.4" fill="#9d4cd0"/>
<circle cx="422.43" cy="410.44" r="1.4" fill="#9d4cd0"/>
<circle cx="427.22" cy="411.23" r="1.4" fill="#9d4cd0"/>
<circle cx="432.01" cy="412.13" r="1.4" fill="#9d4cd0"/>
<circle cx="436.80" cy="413.12" r="1.4" fill="#9d4cd0"/>
<circle cx="441.60" cy="414.19" r="1.4" fill="#9d4cd0"/>
<circle cx="446.39" cy="415.44" r="1.4" fill="#9d4cd0"/>
<circle cx="451.18" cy="416.90" r="1.4" fill="#9d4cd0"/>
<circle cx="455.97" cy="418.48" r="1.4" fill="#9d4cd0"/>
<circle cx="460.76" cy="420.04" r="1.4" fill="#9d4cd0"/>
<circle cx="465.55" cy="421.48" r="1.4" fill="#9d4cd0"/>
<circle cx="470.34" cy="422.75" r="1.4" fill="#9d4cd0"/>
<circle cx="475.13" cy="423.92" r="1.4" fill="#9d4cd0"/>
<circle cx="479.92" cy="425.08" r="1.4" fill="#9d4cd0"/>
<circle cx="484.71" cy="426.31" r="1.4" fill="#9d4cd0"/>
<circle cx="489.50" cy="427.67" r="1.4" fill="#9d4cd0"/>
<circle cx="494.30" cy="429.21" r="1.4" fill="#9d4cd0"/>
<circle cx="499.09" cy="430.90" r="1.4" fill="#9d4cd0"/>
<circle cx="503.88" cy="432.70" r="1.4" fill="#9d4cd0"/>
<circle cx="508.67" cy="434.62" r="1.4" fill="#9d4cd0"/>
<circle cx="513.46" cy="436.62" r="1.4" fill="#9d4cd0"/>
<circle cx="518.25" cy="438.73" r="1.4" fill="#9d4cd0"/>
<circle cx="523.04" cy="440.98" r="1.4" fill="#9d4cd0"/>
<circle cx="527.83" cy="443.35" r="1.4" fill="#9d4cd0"/>
<circle cx="532.62" cy="445.85" r="1.4" fill="#9d4cd0"/>
<circle cx="537.41" cy="448.45" r="1.4" fill="#9d4cd0"/>
<polyline points="393.69,405.52 398.48,405.90 403.27,406.35 408.06,406.85 412.85,407.40 417.64,408.00 422.43,408.65 427.22,409.38 432.01,410.19 436.80,411.06 441.60,411.99 446.39,413.01 451.18,414.15 455.97,415.36 460.76,416.63 465.55,417.90 470.34,419.18 475.13,420.50 479.92,421.85 484.71,423.28 489.50,424.78 494.30,426.38 499.09,428.06 503.88,429.83 508.67,431.72 513.46,433.73 518.25,435.89 523.04,438.23 527.83,440.72 532.62,443.35 537.41,446.11" fill="none" stroke="#9a4444" stroke-width="0.8"/>
<circle cx="393.69" cy="405.52" r="1.4" fill="#9a4444"/>
<circle cx="398.48" cy="405.90" r="1.4" fill="#9a4444"/>
<circle cx="403.27" cy="406.35" r="1.4" fill="#9a4444"/>
<circle cx="408.06" cy="406.85" r="1.4" fill="#9a4444"/>
<circle cx="412.85" cy="407.40" r="1.4" fill="#9a4444"/>
<circle cx="417.64" cy="408.00" r="1.4" fill="#9a4444"/>
<circle cx="422.43" cy="408.65" r="1.4" fill="#9a4444"/>
<circle cx="427.22" cy="409.38" r="1.4" fill="#9a4444"/>
<circle cx="432.01" cy="410.19" r="1.4" fill="#9a4444"/>
<circle cx="436.80" cy="411.06" r="1.4" fill="#9a4444"/>
<circle cx="441.60" cy="411.99" r="1.4" fill="#9a4444"/>
<circle cx="446.39" cy="413.01" r="1.4" fill="#9a4444"/>
<circle cx="451.18" cy="414.15" r="1.4" fill="#9a4444"/>
<circle cx="455.97" cy="415.36" r="1.4" fill="#9a4444"/>
<circle cx="460.76" cy="416.63" r="1.4" fill="#9a4444"/>
<circle cx="465.55" cy="417.90" r="1.4" fill="#9a4444"/>
<circle cx="470.34" cy="419.18" r="1.4" fill="#9a4444"/>
<circle cx="475.13" cy="420.50" r="1.4" fill="#9a4444"/>
<circle cx="479.92" cy="421.85" r="1.4" fill="#9a4444"/>
<circle cx="484.71" cy="423.28" r="1.4" fill="#9a4444"/>
<circle cx="489.50" cy="424.78" r="1.4" fill="#9a4444"/>
<circle cx="494.30" cy="426.38" r="1.4" fill="#9a4444"/>
<circle cx="499.09" cy="428.06" r="1.4" fill="#9a4444"/>
<circle cx="503.88" cy="429.83" r="1.4" fill="#9a4444"/>
<circle cx="508.67" cy="431.72" r="1.4" fill="#9a4444"/>
<circle cx="513.46" cy="433.73" r="1.4" fill="#9a4444"/>
<circle cx="518.25" cy="435.89" r="1.4" fill="#9a4444"/>
<circle cx="523.04" cy="438.23" r="1.4" fill="#9a4444"/>
<circle cx="527.83" cy="440.72" r="1.4" fill="#9a4444"/>
<circle cx="532.62" cy="443.35" r="1.4" fill="#9a4444"/>
<circle cx="537.41" cy="446.11" r="1.4" fill="#9a4444"/>
<polyline points="393.69,403.87 398.48,404.25 403.27,404.68 408.06,405.16 412.85,405.67 417.64,406.21 422.43,406.78 427.22,407.38 432.01,408.05 436.80,408.80 441.60,409.65 446.39,410.73 451.18,412.06 455.97,413.54 460.76,415.02 465.55,416.39 470.34,417.60 475.13,418.73 479.92,419.86 484.71,421.07 489.50,422.44 494.30,424.05 499.09,425.85 503.88,427.82 508.67,429.91 513.46,432.08 518.25,434.35 523.04,436.78 527.83,439.35 532.62,442.05 537.41,444.87" fill="none" stroke="#ff5ccc" stroke-width="0.8"/>
<circle cx="393.69" cy="403.87" r="1.4" fill="#ff5ccc"/>
<circle cx="398.48" cy="404.25" r="1.4" fill="#ff5ccc"/>
<circle cx="403.27" cy="404.68" r="1.4" fill="#ff5ccc"/>
<circle cx="408.06" cy="405.16" r="1.4" fill="#ff5ccc"/>
<circle cx="412.85" cy="405.67" r="1.4" fill="#ff5ccc"/>
<circle cx="417.64" cy="406.21" r="1.4" fill="#ff5ccc"/>
<circle cx="422.43" cy="406.78" r="1.4" fill="#ff5ccc"/>
<circle cx="427.22" cy="407.38" r="1.4" fill="#ff5ccc"/>
<circle cx="432.01" cy="408.05" r="1.4" fill="#ff5ccc"/>
<circle cx="436.80" cy="408.80" r="1.4" fill="#ff5ccc"/>
<circle cx="441.60" cy="409.65" r="1.4" fill="#ff5ccc"/>
<circle cx="446.39" cy="410.73" r="1.4" fill="#ff5ccc"/>
<circle cx="451.18" cy="412.06" r="1.4" fill="#ff5ccc"/>
<circle cx="455.97" cy="413.54" r="1.4" fill="#ff5ccc"/>
<circle cx="460.76" cy="415.02" r="1.4" fill="#ff5ccc"/>
<circle cx="465.55" cy="416.39" r="1.4" fill="#ff5ccc"/>
<circle cx="470.34" cy="417.60" r="1.4" fill="#ff5ccc"/>
<circle cx="475.13" cy="418.73" r="1.4" fill="#ff5ccc"/>
<circle cx="479.92" cy="419.86" r="1.4" fill="#ff5ccc"/>
<circle cx="484.71" cy="421.07" r="1.4" fill="#ff5ccc"/>
<circle cx="489.50" cy="422.44" r="1.4" fill="#ff5ccc"/>
<circle cx="494.30" cy="424.05" r="1.4" fill="#ff5ccc"/>
<circle cx="499.09" cy="425.85" r="1.4" fill="#ff5ccc"/>
<circle cx="503.88" cy="427.82" r="1.4" fill="#ff5ccc"/>
<circle cx="508.67" cy="429.91" r="1.4" fill="#ff5ccc"/>
<circle cx="513.46" cy="432.08" r="1.4" fill="#ff5ccc"/>
<circle cx="518.25" cy="434.35" r="1.4" fill="#ff5ccc"/>
<circle cx="523.04" cy="436.78" r="1.4" fill="#ff5ccc"/>
<circle cx="527.83" cy="439.35" r="1.4" fill="#ff5ccc"/>
<circle cx="532.62" cy="442.05" r="1.4" fill="#ff5ccc"/>
<circle cx="537.41" cy="444.87" r="1.4" fill="#ff5ccc"/>
<polyline points="393.69,398.92 398.48,399.47 403.27,400.07 408.06,400.71 412.85,401.38 417.64,402.08 422.43,402.82 427.22,403.61 432.01,404.44 436.80,405.31 441.60,406.21 446.39,407.13 451.18,408.08 455.97,409.07 460.76,410.14 465.55,411.30 470.34,412.59 475.13,414.01 479.92,415.53 484.71,417.11 489.50,418.73 494.30,420.36 499.09,422.03 503.88,423.78 508.67,425.64 513.46,427.67 518.25,429.91 523.04,432.35 527.83,434.98 532.62,437.79 537.41,440.75" fill="none" stroke="#787878" stroke-width="0.8"/>
<circle cx="393.69" cy="398.92" r="1.4" fill="#787878"/>
<circle cx="398.48" cy="399.47" r="1.4" fill="#787878"/>
<circle cx="403.27" cy="400.07" r="1.4" fill="#787878"/>
<circle cx="408.06" cy="400.71" r="1.4" fill="#787878"/>
<circle cx="412.85" cy="401.38" r="1.4" fill="#787878"/>
<circle cx="417.64" cy="402.08" r="1.4" fill="#787878"/>
<circle cx="422.43" cy="402.82" r="1.4" fill="#787878"/>
<circle cx="427.22" cy="403.61" r="1.4" fill="#787878"/>
<circle cx="432.01" cy="404.44" r="1.4" fill="#787878"/>
<circle cx="436.80" cy="405.31" r="1.4" fill="#787878"/>
<circle cx="441.60" cy="406.21" r="1.4" fill="#787878"/>
<circle cx="446.39" cy="407.13" r="1.4" fill="#787878"/>
<circle cx="451.18" cy="408.08" r="1.4" fill="#787878"/>
<circle cx="455.97" cy="409.07" r="1.4" fill="#787878"/>
<circle cx="460.76" cy="410.14" r="1.4" fill="#787878"/>
<circle cx="465.55" cy="411.30" r="1.4" fill="#787878"/>
<circle cx="470.34" cy="412.59" r="1.4" fill="#787878"/>
<circle cx="475.13" cy="414.01" r="1.4" fill="#787878"/>
<circle cx="479.92" cy="415.53" r="1.4" fill="#787878"/>
<circle cx="484.71" cy="417.11" r="1.4" fill="#787878"/>
<circle cx="489.50" cy="418.73" r="1.4" fill="#787878"/>
<circle cx="494.30" cy="420.36" r="1.4" fill="#787878"/>
<circle cx="499.09" cy="422.03" r="1.4" fill="#787878"/>
<circle cx="503.88" cy="423.78" r="1.4" fill="#787878"/>
<circle cx="508.67" cy="425.64" r="1.4" fill="#787878"/>
<circle cx="513.46" cy="427.67" r="1.4" fill="#787878"/>
<circle cx="518.25" cy="429.91" r="1.4" fill="#787878"/>
<circle cx="523.04" cy="432.35" r="1.4" fill="#787878"/>
<circle cx="527.83" cy="434.98" r="1.4" fill="#787878"/>
<circle cx="532.62" cy="437.79" r="1.4" fill="#787878"/>
<circle cx="537.41" cy="440.75" r="1.4" fill="#787878"/>
<polyline points="393.69,400.84 398.48,401.39 403.27,401.98 408.06,402.62 412.85,403.30 417.64,404.01 422.43,404.75 427.22,405.55 432.01,406.39 436.80,407.30 441.60,408.27 446.39,409.36 451.18,410.57 455.97,411.85 460.76,413.16 465.55,414.46 470.34,415.72 475.13,416.97 479.92,418.25 484.71,419.60 489.50,421.07 494.30,422.68 499.09,424.42 503.88,426.27 508.67,428.24 513.46,430.29 518.25,432.45 523.04,434.76 527.83,437.19 532.62,439.74 537.41,442.40" fill="none" stroke="#c8c800" stroke-width="0.8"/>
<circle cx="393.69" cy="400.84" r="1.4" fill="#c8c800"/>
<circle cx="398.48" cy="401.39" r="1.4" fill="#c8c800"/>
<circle cx="403.27" cy="401.98" r="1.4" fill="#c8c800"/>
<circle cx="408.06" cy="402.62" r="1.4" fill="#c8c800"/>
<circle cx="412.85" cy="403.30" r="1.4" fill="#c8c800"/>
<circle cx="417.64" cy="404.01" r="1.4" fill="#c8c800"/>
<circle cx="422.43" cy="404.75" r="1.4" fill="#c8c800"/>
<circle cx="427.22" cy="405.55" r="1.4" fill="#c8c800"/>
<circle cx="432.01" cy="406.39" r="1.4" fill="#c8c800"/>
<circle cx="436.80" cy="407.30" r="1.4" fill="#c8c800"/>
<circle cx="441.60" cy="408.27" r="1.4" fill="#c8c800"/>
<circle cx="446.39" cy="409.36" r="1.4" fill="#c8c800"/>
<circle cx="451.18" cy="410.57" r="1.4" fill="#c8c800"/>
<circle cx="455.97" cy="411.85" r="1.4" fill="#c8c800"/>
<circle cx="460.76" cy="413.16" r="1.4" fill="#c8c800"/>
<circle cx="465.55" cy="414.46" r="1.4" fill="#c8c800"/>
<circle cx="470.34" cy="415.72" r="1.4" fill="#c8c800"/>
<circle cx="475.13" cy="416.97" r="1.4" fill="#c8c800"/>
<circle cx="479.92" cy="418.25" r="1.4" fill="#c8c800"/>
<circle cx="484.71" cy="419.60" r="1.4" fill="#c8c800"/>
<circle cx="489.50" cy="421.07" r="1.4" fill="#c8c800"/>
<circle cx="494.30" cy="422.68" r="1.4" fill="#c8c800"/>
<circle cx="499.09" cy="424.42" r="1.4" fill="#c8c800"/>
<circle cx="503.88" cy="426.27" r="1.4" fill="#c8c800"/>
<circle cx="508.67" cy="428.24" r="1.4" fill="#c8c800"/>
<circle cx="513.46" cy="430.29" r="1.4" fill="#c8c800"/>
<circle cx="518.25" cy="432.45" r="1.4" fill="#c8c800"/>
<circle cx="523.04" cy="434.76" r="1.4" fill="#c8c800"/>
<circle cx="527.83" cy="437.19" r="1.4" fill="#c8c800"/>
<circle cx="532.62" cy="439.74" r="1.4" fill="#c8c800"/>
<circle cx="537.41" cy="442.40" r="1.4" fill="#c8c800"/>
</g>
<rect x="386.50" y="380.70" width="158.10" height="105.70" fill="none" stroke="#8a8a8a" stroke-width="0.8"/>
<line x1="23.40" y1="606.72" x2="181.80" y2="606.72" stroke="#d8d8d8" stroke-width="0.65"/>
<line x1="23.40" y1="594.41" x2="181.80" y2="594.41" stroke="#d8d8d8" stroke-width="0.65"/>
<line x1="23.40" y1="582.10" x2="181.80" y2="582.10" stroke="#d8d8d8" stroke-width="0.65"/>
<line x1="23.40" y1="569.79" x2="181.80" y2="569.79" stroke="#d8d8d8" stroke-width="0.65"/>
<line x1="23.40" y1="557.48" x2="181.80" y2="557.48" stroke="#d8d8d8" stroke-width="0.65"/>
<line x1="23.40" y1="545.17" x2="181.80" y2="545.17" stroke="#d8d8d8" stroke-width="0.65"/>
<line x1="23.40" y1="532.86" x2="181.80" y2="532.86" stroke="#d8d8d8" stroke-width="0.65"/>
<line x1="23.40" y1="520.55" x2="181.80" y2="520.55" stroke="#d8d8d8" stroke-width="0.65"/>
<line x1="23.40" y1="508.24" x2="181.80" y2="508.24" stroke="#d8d8d8" stroke-width="0.65"/>
<line x1="30.60" y1="503.60" x2="30.60" y2="609.30" stroke="#d8d8d8" stroke-width="0.65"/>
<line x1="54.60" y1="503.60" x2="54.60" y2="609.30" stroke="#d8d8d8" stroke-width="0.65"/>
<line x1="78.60" y1="503.60" x2="78.60" y2="609.30" stroke="#d8d8d8" stroke-width="0.65"/>
<line x1="102.60" y1="503.60" x2="102.60" y2="609.30" stroke="#d8d8d8" stroke-width="0.65"/>
<line x1="126.60" y1="503.60" x2="126.60" y2="609.30" stroke="#d8d8d8" stroke-width="0.65"/>
<line x1="150.60" y1="503.60" x2="150.60" y2="609.30" stroke="#d8d8d8" stroke-width="0.65"/>
<line x1="174.60" y1="503.60" x2="174.60" y2="609.30" stroke="#d8d8d8" stroke-width="0.65"/>
<line x1="21.80" y1="606.72" x2="23.40" y2="606.72" stroke="#555" stroke-width="0.75"/>
<text x="20.50" y="608.02" font-size="3.65" text-anchor="end" fill="#111" textLength="8.50" lengthAdjust="spacingAndGlyphs" stroke="#111" stroke-width="0.08" >−0.2</text>
<line x1="21.80" y1="594.41" x2="23.40" y2="594.41" stroke="#555" stroke-width="0.75"/>
<text x="20.50" y="595.71" font-size="3.65" text-anchor="end" fill="#111" textLength="8.50" lengthAdjust="spacingAndGlyphs" stroke="#111" stroke-width="0.08" >−0.1</text>
<line x1="21.80" y1="582.10" x2="23.40" y2="582.10" stroke="#555" stroke-width="0.75"/>
<text x="20.50" y="583.40" font-size="3.65" text-anchor="end" fill="#111" textLength="5.57" lengthAdjust="spacingAndGlyphs" stroke="#111" stroke-width="0.08" >0.0</text>
<line x1="21.80" y1="569.79" x2="23.40" y2="569.79" stroke="#555" stroke-width="0.75"/>
<text x="20.50" y="571.09" font-size="3.65" text-anchor="end" fill="#111" textLength="5.57" lengthAdjust="spacingAndGlyphs" stroke="#111" stroke-width="0.08" >0.1</text>
<line x1="21.80" y1="557.48" x2="23.40" y2="557.48" stroke="#555" stroke-width="0.75"/>
<text x="20.50" y="558.78" font-size="3.65" text-anchor="end" fill="#111" textLength="5.57" lengthAdjust="spacingAndGlyphs" stroke="#111" stroke-width="0.08" >0.2</text>
<line x1="21.80" y1="545.17" x2="23.40" y2="545.17" stroke="#555" stroke-width="0.75"/>
<text x="20.50" y="546.47" font-size="3.65" text-anchor="end" fill="#111" textLength="5.57" lengthAdjust="spacingAndGlyphs" stroke="#111" stroke-width="0.08" >0.3</text>
<line x1="21.80" y1="532.86" x2="23.40" y2="532.86" stroke="#555" stroke-width="0.75"/>
<text x="20.50" y="534.16" font-size="3.65" text-anchor="end" fill="#111" textLength="5.57" lengthAdjust="spacingAndGlyphs" stroke="#111" stroke-width="0.08" >0.4</text>
<line x1="21.80" y1="520.55" x2="23.40" y2="520.55" stroke="#555" stroke-width="0.75"/>
<text x="20.50" y="521.85" font-size="3.65" text-anchor="end" fill="#111" textLength="5.57" lengthAdjust="spacingAndGlyphs" stroke="#111" stroke-width="0.08" >0.5</text>
<line x1="21.80" y1="508.24" x2="23.40" y2="508.24" stroke="#555" stroke-width="0.75"/>
<text x="20.50" y="509.54" font-size="3.65" text-anchor="end" fill="#111" textLength="5.57" lengthAdjust="spacingAndGlyphs" stroke="#111" stroke-width="0.08" >0.6</text>
<text x="102.60" y="501.20" font-size="6.25" text-anchor="middle" fill="#111" textLength="27.70" lengthAdjust="spacingAndGlyphs" stroke="#111" stroke-width="0.13" >Moran&#39;s I</text>
<text x="0" y="0" font-size="6.25" text-anchor="middle" fill="#111" stroke="#111" stroke-width="0.13" textLength="27.70" lengthAdjust="spacingAndGlyphs" transform="translate(8.90,556.45) rotate(-90)">Moran&#39;s I</text>
<line x1="30.60" y1="609.30" x2="30.60" y2="610.90" stroke="#555" stroke-width="0.75"/>
<text x="30.60" y="615.00" font-size="3.65" text-anchor="middle" fill="#111" textLength="2.23" lengthAdjust="spacingAndGlyphs" stroke="#111" stroke-width="0.08" >0</text>
<line x1="54.60" y1="609.30" x2="54.60" y2="610.90" stroke="#555" stroke-width="0.75"/>
<text x="54.60" y="615.00" font-size="3.65" text-anchor="middle" fill="#111" textLength="2.23" lengthAdjust="spacingAndGlyphs" stroke="#111" stroke-width="0.08" >5</text>
<line x1="78.60" y1="609.30" x2="78.60" y2="610.90" stroke="#555" stroke-width="0.75"/>
<text x="78.60" y="615.00" font-size="3.65" text-anchor="middle" fill="#111" textLength="4.45" lengthAdjust="spacingAndGlyphs" stroke="#111" stroke-width="0.08" >10</text>
<line x1="102.60" y1="609.30" x2="102.60" y2="610.90" stroke="#555" stroke-width="0.75"/>
<text x="102.60" y="615.00" font-size="3.65" text-anchor="middle" fill="#111" textLength="4.45" lengthAdjust="spacingAndGlyphs" stroke="#111" stroke-width="0.08" >15</text>
<line x1="126.60" y1="609.30" x2="126.60" y2="610.90" stroke="#555" stroke-width="0.75"/>
<text x="126.60" y="615.00" font-size="3.65" text-anchor="middle" fill="#111" textLength="4.45" lengthAdjust="spacingAndGlyphs" stroke="#111" stroke-width="0.08" >20</text>
<line x1="150.60" y1="609.30" x2="150.60" y2="610.90" stroke="#555" stroke-width="0.75"/>
<text x="150.60" y="615.00" font-size="3.65" text-anchor="middle" fill="#111" textLength="4.45" lengthAdjust="spacingAndGlyphs" stroke="#111" stroke-width="0.08" >25</text>
<line x1="174.60" y1="609.30" x2="174.60" y2="610.90" stroke="#555" stroke-width="0.75"/>
<text x="174.60" y="615.00" font-size="3.65" text-anchor="middle" fill="#111" textLength="4.45" lengthAdjust="spacingAndGlyphs" stroke="#111" stroke-width="0.08" >30</text>
<g clip-path="url(#c3)">
<polyline points="30.60,536.68 35.40,536.69 40.20,536.72 45.00,536.78 49.80,536.85 54.60,536.95 59.40,537.06 64.20,537.18 69.00,537.32 73.80,537.47 78.60,537.63 83.40,537.80 88.20,537.97 93.00,538.15 97.80,538.34 102.60,538.52 107.40,538.73 112.20,538.96 117.00,539.23 121.80,539.53 126.60,539.86 131.40,540.22 136.20,540.60 141.00,541.00 145.80,541.42 150.60,541.87 155.40,542.33 160.20,542.80 165.00,543.29 169.80,543.80 174.60,544.31" fill="none" stroke="#0a72cc" stroke-width="0.8"/>
<circle cx="30.60" cy="536.68" r="1.4" fill="#0a72cc"/>
<circle cx="35.40" cy="536.69" r="1.4" fill="#0a72cc"/>
<circle cx="40.20" cy="536.72" r="1.4" fill="#0a72cc"/>
<circle cx="45.00" cy="536.78" r="1.4" fill="#0a72cc"/>
<circle cx="49.80" cy="536.85" r="1.4" fill="#0a72cc"/>
<circle cx="54.60" cy="536.95" r="1.4" fill="#0a72cc"/>
<circle cx="59.40" cy="537.06" r="1.4" fill="#0a72cc"/>
<circle cx="64.20" cy="537.18" r="1.4" fill="#0a72cc"/>
<circle cx="69.00" cy="537.32" r="1.4" fill="#0a72cc"/>
<circle cx="73.80" cy="537.47" r="1.4" fill="#0a72cc"/>
<circle cx="78.60" cy="537.63" r="1.4" fill="#0a72cc"/>
<circle cx="83.40" cy="537.80" r="1.4" fill="#0a72cc"/>
<circle cx="88.20" cy="537.97" r="1.4" fill="#0a72cc"/>
<circle cx="93.00" cy="538.15" r="1.4" fill="#0a72cc"/>
<circle cx="97.80" cy="538.34" r="1.4" fill="#0a72cc"/>
<circle cx="102.60" cy="538.52" r="1.4" fill="#0a72cc"/>
<circle cx="107.40" cy="538.73" r="1.4" fill="#0a72cc"/>
<circle cx="112.20" cy="538.96" r="1.4" fill="#0a72cc"/>
<circle cx="117.00" cy="539.23" r="1.4" fill="#0a72cc"/>
<circle cx="121.80" cy="539.53" r="1.4" fill="#0a72cc"/>
<circle cx="126.60" cy="539.86" r="1.4" fill="#0a72cc"/>
<circle cx="131.40" cy="540.22" r="1.4" fill="#0a72cc"/>
<circle cx="136.20" cy="540.60" r="1.4" fill="#0a72cc"/>
<circle cx="141.00" cy="541.00" r="1.4" fill="#0a72cc"/>
<circle cx="145.80" cy="541.42" r="1.4" fill="#0a72cc"/>
<circle cx="150.60" cy="541.87" r="1.4" fill="#0a72cc"/>
<circle cx="155.40" cy="542.33" r="1.4" fill="#0a72cc"/>
<circle cx="160.20" cy="542.80" r="1.4" fill="#0a72cc"/>
<circle cx="165.00" cy="543.29" r="1.4" fill="#0a72cc"/>
<circle cx="169.80" cy="543.80" r="1.4" fill="#0a72cc"/>
<circle cx="174.60" cy="544.31" r="1.4" fill="#0a72cc"/>
<polyline points="30.60,546.89 35.40,546.92 40.20,546.96 45.00,547.02 49.80,547.10 54.60,547.19 59.40,547.29 64.20,547.41 69.00,547.54 73.80,547.67 78.60,547.82 83.40,547.97 88.20,548.12 93.00,548.28 97.80,548.45 102.60,548.62 107.40,548.80 112.20,549.00 117.00,549.23 121.80,549.48 126.60,549.75 131.40,550.04 136.20,550.34 141.00,550.66 145.80,551.00 150.60,551.36 155.40,551.72 160.20,552.10 165.00,552.49 169.80,552.89 174.60,553.29" fill="none" stroke="#ff7a0a" stroke-width="0.8"/>
<circle cx="30.60" cy="546.89" r="1.4" fill="#ff7a0a"/>
<circle cx="35.40" cy="546.92" r="1.4" fill="#ff7a0a"/>
<circle cx="40.20" cy="546.96" r="1.4" fill="#ff7a0a"/>
<circle cx="45.00" cy="547.02" r="1.4" fill="#ff7a0a"/>
<circle cx="49.80" cy="547.10" r="1.4" fill="#ff7a0a"/>
<circle cx="54.60" cy="547.19" r="1.4" fill="#ff7a0a"/>
<circle cx="59.40" cy="547.29" r="1.4" fill="#ff7a0a"/>
<circle cx="64.20" cy="547.41" r="1.4" fill="#ff7a0a"/>
<circle cx="69.00" cy="547.54" r="1.4" fill="#ff7a0a"/>
<circle cx="73.80" cy="547.67" r="1.4" fill="#ff7a0a"/>
<circle cx="78.60" cy="547.82" r="1.4" fill="#ff7a0a"/>
<circle cx="83.40" cy="547.97" r="1.4" fill="#ff7a0a"/>
<circle cx="88.20" cy="548.12" r="1.4" fill="#ff7a0a"/>
<circle cx="93.00" cy="548.28" r="1.4" fill="#ff7a0a"/>
<circle cx="97.80" cy="548.45" r="1.4" fill="#ff7a0a"/>
<circle cx="102.60" cy="548.62" r="1.4" fill="#ff7a0a"/>
<circle cx="107.40" cy="548.80" r="1.4" fill="#ff7a0a"/>
<circle cx="112.20" cy="549.00" r="1.4" fill="#ff7a0a"/>
<circle cx="117.00" cy="549.23" r="1.4" fill="#ff7a0a"/>
<circle cx="121.80" cy="549.48" r="1.4" fill="#ff7a0a"/>
<circle cx="126.60" cy="549.75" r="1.4" fill="#ff7a0a"/>
<circle cx="131.40" cy="550.04" r="1.4" fill="#ff7a0a"/>
<circle cx="136.20" cy="550.34" r="1.4" fill="#ff7a0a"/>
<circle cx="141.00" cy="550.66" r="1.4" fill="#ff7a0a"/>
<circle cx="145.80" cy="551.00" r="1.4" fill="#ff7a0a"/>
<circle cx="150.60" cy="551.36" r="1.4" fill="#ff7a0a"/>
<circle cx="155.40" cy="551.72" r="1.4" fill="#ff7a0a"/>
<circle cx="160.20" cy="552.10" r="1.4" fill="#ff7a0a"/>
<circle cx="165.00" cy="552.49" r="1.4" fill="#ff7a0a"/>
<circle cx="169.80" cy="552.89" r="1.4" fill="#ff7a0a"/>
<circle cx="174.60" cy="553.29" r="1.4" fill="#ff7a0a"/>
<polyline points="30.60,512.55 35.40,512.92 40.20,513.16 45.00,513.41 49.80,513.66 54.60,513.90 59.40,514.39 64.20,514.89 69.00,515.63 73.80,516.24 78.60,516.86 83.40,517.35 88.20,517.84 93.00,518.58 97.80,519.32 102.60,519.93 107.40,521.66 112.20,523.01 117.00,525.47 121.80,526.46 126.60,528.80 131.40,531.01 136.20,532.98 141.00,538.65 145.80,544.55 150.60,551.33 155.40,559.45 160.20,574.96 165.00,604.75" fill="none" stroke="#00aa22" stroke-width="0.8"/>
<circle cx="30.60" cy="512.55" r="1.4" fill="#00aa22"/>
<circle cx="35.40" cy="512.92" r="1.4" fill="#00aa22"/>
<circle cx="40.20" cy="513.16" r="1.4" fill="#00aa22"/>
<circle cx="45.00" cy="513.41" r="1.4" fill="#00aa22"/>
<circle cx="49.80" cy="513.66" r="1.4" fill="#00aa22"/>
<circle cx="54.60" cy="513.90" r="1.4" fill="#00aa22"/>
<circle cx="59.40" cy="514.39" r="1.4" fill="#00aa22"/>
<circle cx="64.20" cy="514.89" r="1.4" fill="#00aa22"/>
<circle cx="69.00" cy="515.63" r="1.4" fill="#00aa22"/>
<circle cx="73.80" cy="516.24" r="1.4" fill="#00aa22"/>
<circle cx="78.60" cy="516.86" r="1.4" fill="#00aa22"/>
<circle cx="83.40" cy="517.35" r="1.4" fill="#00aa22"/>
<circle cx="88.20" cy="517.84" r="1.4" fill="#00aa22"/>
<circle cx="93.00" cy="518.58" r="1.4" fill="#00aa22"/>
<circle cx="97.80" cy="519.32" r="1.4" fill="#00aa22"/>
<circle cx="102.60" cy="519.93" r="1.4" fill="#00aa22"/>
<circle cx="107.40" cy="521.66" r="1.4" fill="#00aa22"/>
<circle cx="112.20" cy="523.01" r="1.4" fill="#00aa22"/>
<circle cx="117.00" cy="525.47" r="1.4" fill="#00aa22"/>
<circle cx="121.80" cy="526.46" r="1.4" fill="#00aa22"/>
<circle cx="126.60" cy="528.80" r="1.4" fill="#00aa22"/>
<circle cx="131.40" cy="531.01" r="1.4" fill="#00aa22"/>
<circle cx="136.20" cy="532.98" r="1.4" fill="#00aa22"/>
<circle cx="141.00" cy="538.65" r="1.4" fill="#00aa22"/>
<circle cx="145.80" cy="544.55" r="1.4" fill="#00aa22"/>
<circle cx="150.60" cy="551.33" r="1.4" fill="#00aa22"/>
<circle cx="155.40" cy="559.45" r="1.4" fill="#00aa22"/>
<circle cx="160.20" cy="574.96" r="1.4" fill="#00aa22"/>
<circle cx="165.00" cy="604.75" r="1.4" fill="#00aa22"/>
<polyline points="30.60,508.53 35.40,508.53 40.20,508.82 45.00,508.82 49.80,509.11 54.60,509.25 59.40,509.11 64.20,508.82 69.00,509.55 73.80,509.55 78.60,509.55 83.40,509.84 88.20,510.27 93.00,510.27 97.80,510.27 102.60,510.12 107.40,510.63 112.20,510.97 117.00,511.14 121.80,511.47 126.60,511.81 131.40,512.32 136.20,513.17 141.00,514.53 145.80,513.51 150.60,514.36 155.40,515.37 160.20,516.05 165.00,516.05 169.80,517.92 174.60,518.25" fill="none" stroke="#ff0a0a" stroke-width="0.8"/>
<circle cx="30.60" cy="508.53" r="1.4" fill="#ff0a0a"/>
<circle cx="35.40" cy="508.53" r="1.4" fill="#ff0a0a"/>
<circle cx="40.20" cy="508.82" r="1.4" fill="#ff0a0a"/>
<circle cx="45.00" cy="508.82" r="1.4" fill="#ff0a0a"/>
<circle cx="49.80" cy="509.11" r="1.4" fill="#ff0a0a"/>
<circle cx="54.60" cy="509.25" r="1.4" fill="#ff0a0a"/>
<circle cx="59.40" cy="509.11" r="1.4" fill="#ff0a0a"/>
<circle cx="64.20" cy="508.82" r="1.4" fill="#ff0a0a"/>
<circle cx="69.00" cy="509.55" r="1.4" fill="#ff0a0a"/>
<circle cx="73.80" cy="509.55" r="1.4" fill="#ff0a0a"/>
<circle cx="78.60" cy="509.55" r="1.4" fill="#ff0a0a"/>
<circle cx="83.40" cy="509.84" r="1.4" fill="#ff0a0a"/>
<circle cx="88.20" cy="510.27" r="1.4" fill="#ff0a0a"/>
<circle cx="93.00" cy="510.27" r="1.4" fill="#ff0a0a"/>
<circle cx="97.80" cy="510.27" r="1.4" fill="#ff0a0a"/>
<circle cx="102.60" cy="510.12" r="1.4" fill="#ff0a0a"/>
<circle cx="107.40" cy="510.63" r="1.4" fill="#ff0a0a"/>
<circle cx="112.20" cy="510.97" r="1.4" fill="#ff0a0a"/>
<circle cx="117.00" cy="511.14" r="1.4" fill="#ff0a0a"/>
<circle cx="121.80" cy="511.47" r="1.4" fill="#ff0a0a"/>
<circle cx="126.60" cy="511.81" r="1.4" fill="#ff0a0a"/>
<circle cx="131.40" cy="512.32" r="1.4" fill="#ff0a0a"/>
<circle cx="136.20" cy="513.17" r="1.4" fill="#ff0a0a"/>
<circle cx="141.00" cy="514.53" r="1.4" fill="#ff0a0a"/>
<circle cx="145.80" cy="513.51" r="1.4" fill="#ff0a0a"/>
<circle cx="150.60" cy="514.36" r="1.4" fill="#ff0a0a"/>
<circle cx="155.40" cy="515.37" r="1.4" fill="#ff0a0a"/>
<circle cx="160.20" cy="516.05" r="1.4" fill="#ff0a0a"/>
<circle cx="165.00" cy="516.05" r="1.4" fill="#ff0a0a"/>
<circle cx="169.80" cy="517.92" r="1.4" fill="#ff0a0a"/>
<circle cx="174.60" cy="518.25" r="1.4" fill="#ff0a0a"/>
<polyline points="30.60,548.86 35.40,548.87 40.20,548.89 45.00,548.92 49.80,548.97 54.60,549.02 59.40,549.09 64.20,549.16 69.00,549.24 73.80,549.33 78.60,549.43 83.40,549.53 88.20,549.63 93.00,549.74 97.80,549.86 102.60,549.97 107.40,550.10 112.20,550.25 117.00,550.43 121.80,550.63 126.60,550.85 131.40,551.09 136.20,551.35 141.00,551.63 145.80,551.92 150.60,552.22 155.40,552.54 160.20,552.87 165.00,553.21 169.80,553.56 174.60,553.91" fill="none" stroke="#9d4cd0" stroke-width="0.8"/>
<circle cx="30.60" cy="548.86" r="1.4" fill="#9d4cd0"/>
<circle cx="35.40" cy="548.87" r="1.4" fill="#9d4cd0"/>
<circle cx="40.20" cy="548.89" r="1.4" fill="#9d4cd0"/>
<circle cx="45.00" cy="548.92" r="1.4" fill="#9d4cd0"/>
<circle cx="49.80" cy="548.97" r="1.4" fill="#9d4cd0"/>
<circle cx="54.60" cy="549.02" r="1.4" fill="#9d4cd0"/>
<circle cx="59.40" cy="549.09" r="1.4" fill="#9d4cd0"/>
<circle cx="64.20" cy="549.16" r="1.4" fill="#9d4cd0"/>
<circle cx="69.00" cy="549.24" r="1.4" fill="#9d4cd0"/>
<circle cx="73.80" cy="549.33" r="1.4" fill="#9d4cd0"/>
<circle cx="78.60" cy="549.43" r="1.4" fill="#9d4cd0"/>
<circle cx="83.40" cy="549.53" r="1.4" fill="#9d4cd0"/>
<circle cx="88.20" cy="549.63" r="1.4" fill="#9d4cd0"/>
<circle cx="93.00" cy="549.74" r="1.4" fill="#9d4cd0"/>
<circle cx="97.80" cy="549.86" r="1.4" fill="#9d4cd0"/>
<circle cx="102.60" cy="549.97" r="1.4" fill="#9d4cd0"/>
<circle cx="107.40" cy="550.10" r="1.4" fill="#9d4cd0"/>
<circle cx="112.20" cy="550.25" r="1.4" fill="#9d4cd0"/>
<circle cx="117.00" cy="550.43" r="1.4" fill="#9d4cd0"/>
<circle cx="121.80" cy="550.63" r="1.4" fill="#9d4cd0"/>
<circle cx="126.60" cy="550.85" r="1.4" fill="#9d4cd0"/>
<circle cx="131.40" cy="551.09" r="1.4" fill="#9d4cd0"/>
<circle cx="136.20" cy="551.35" r="1.4" fill="#9d4cd0"/>
<circle cx="141.00" cy="551.63" r="1.4" fill="#9d4cd0"/>
<circle cx="145.80" cy="551.92" r="1.4" fill="#9d4cd0"/>
<circle cx="150.60" cy="552.22" r="1.4" fill="#9d4cd0"/>
<circle cx="155.40" cy="552.54" r="1.4" fill="#9d4cd0"/>
<circle cx="160.20" cy="552.87" r="1.4" fill="#9d4cd0"/>
<circle cx="165.00" cy="553.21" r="1.4" fill="#9d4cd0"/>
<circle cx="169.80" cy="553.56" r="1.4" fill="#9d4cd0"/>
<circle cx="174.60" cy="553.91" r="1.4" fill="#9d4cd0"/>
<polyline points="30.60,535.94 35.40,535.95 40.20,535.99 45.00,536.04 49.80,536.11 54.60,536.20 59.40,536.31 64.20,536.42 69.00,536.55 73.80,536.69 78.60,536.84 83.40,536.99 88.20,537.15 93.00,537.32 97.80,537.49 102.60,537.66 107.40,537.85 112.20,538.06 117.00,538.30 121.80,538.56 126.60,538.85 131.40,539.16 136.20,539.49 141.00,539.84 145.80,540.21 150.60,540.60 155.40,540.99 160.20,541.41 165.00,541.83 169.80,542.26 174.60,542.71" fill="none" stroke="#9a4444" stroke-width="0.8"/>
<circle cx="30.60" cy="535.94" r="1.4" fill="#9a4444"/>
<circle cx="35.40" cy="535.95" r="1.4" fill="#9a4444"/>
<circle cx="40.20" cy="535.99" r="1.4" fill="#9a4444"/>
<circle cx="45.00" cy="536.04" r="1.4" fill="#9a4444"/>
<circle cx="49.80" cy="536.11" r="1.4" fill="#9a4444"/>
<circle cx="54.60" cy="536.20" r="1.4" fill="#9a4444"/>
<circle cx="59.40" cy="536.31" r="1.4" fill="#9a4444"/>
<circle cx="64.20" cy="536.42" r="1.4" fill="#9a4444"/>
<circle cx="69.00" cy="536.55" r="1.4" fill="#9a4444"/>
<circle cx="73.80" cy="536.69" r="1.4" fill="#9a4444"/>
<circle cx="78.60" cy="536.84" r="1.4" fill="#9a4444"/>
<circle cx="83.40" cy="536.99" r="1.4" fill="#9a4444"/>
<circle cx="88.20" cy="537.15" r="1.4" fill="#9a4444"/>
<circle cx="93.00" cy="537.32" r="1.4" fill="#9a4444"/>
<circle cx="97.80" cy="537.49" r="1.4" fill="#9a4444"/>
<circle cx="102.60" cy="537.66" r="1.4" fill="#9a4444"/>
<circle cx="107.40" cy="537.85" r="1.4" fill="#9a4444"/>
<circle cx="112.20" cy="538.06" r="1.4" fill="#9a4444"/>
<circle cx="117.00" cy="538.30" r="1.4" fill="#9a4444"/>
<circle cx="121.80" cy="538.56" r="1.4" fill="#9a4444"/>
<circle cx="126.60" cy="538.85" r="1.4" fill="#9a4444"/>
<circle cx="131.40" cy="539.16" r="1.4" fill="#9a4444"/>
<circle cx="136.20" cy="539.49" r="1.4" fill="#9a4444"/>
<circle cx="141.00" cy="539.84" r="1.4" fill="#9a4444"/>
<circle cx="145.80" cy="540.21" r="1.4" fill="#9a4444"/>
<circle cx="150.60" cy="540.60" r="1.4" fill="#9a4444"/>
<circle cx="155.40" cy="540.99" r="1.4" fill="#9a4444"/>
<circle cx="160.20" cy="541.41" r="1.4" fill="#9a4444"/>
<circle cx="165.00" cy="541.83" r="1.4" fill="#9a4444"/>
<circle cx="169.80" cy="542.26" r="1.4" fill="#9a4444"/>
<circle cx="174.60" cy="542.71" r="1.4" fill="#9a4444"/>
<polyline points="30.60,539.75 35.40,539.78 40.20,539.82 45.00,539.88 49.80,539.96 54.60,540.05 59.40,540.15 64.20,540.27 69.00,540.40 73.80,540.53 78.60,540.68 83.40,540.83 88.20,540.98 93.00,541.14 97.80,541.31 102.60,541.48 107.40,541.66 112.20,541.86 117.00,542.09 121.80,542.34 126.60,542.61 131.40,542.90 136.20,543.20 141.00,543.52 145.80,543.86 150.60,544.22 155.40,544.58 160.20,544.96 165.00,545.35 169.80,545.75 174.60,546.15" fill="none" stroke="#ff5ccc" stroke-width="0.8"/>
<circle cx="30.60" cy="539.75" r="1.4" fill="#ff5ccc"/>
<circle cx="35.40" cy="539.78" r="1.4" fill="#ff5ccc"/>
<circle cx="40.20" cy="539.82" r="1.4" fill="#ff5ccc"/>
<circle cx="45.00" cy="539.88" r="1.4" fill="#ff5ccc"/>
<circle cx="49.80" cy="539.96" r="1.4" fill="#ff5ccc"/>
<circle cx="54.60" cy="540.05" r="1.4" fill="#ff5ccc"/>
<circle cx="59.40" cy="540.15" r="1.4" fill="#ff5ccc"/>
<circle cx="64.20" cy="540.27" r="1.4" fill="#ff5ccc"/>
<circle cx="69.00" cy="540.40" r="1.4" fill="#ff5ccc"/>
<circle cx="73.80" cy="540.53" r="1.4" fill="#ff5ccc"/>
<circle cx="78.60" cy="540.68" r="1.4" fill="#ff5ccc"/>
<circle cx="83.40" cy="540.83" r="1.4" fill="#ff5ccc"/>
<circle cx="88.20" cy="540.98" r="1.4" fill="#ff5ccc"/>
<circle cx="93.00" cy="541.14" r="1.4" fill="#ff5ccc"/>
<circle cx="97.80" cy="541.31" r="1.4" fill="#ff5ccc"/>
<circle cx="102.60" cy="541.48" r="1.4" fill="#ff5ccc"/>
<circle cx="107.40" cy="541.66" r="1.4" fill="#ff5ccc"/>
<circle cx="112.20" cy="541.86" r="1.4" fill="#ff5ccc"/>
<circle cx="117.00" cy="542.09" r="1.4" fill="#ff5ccc"/>
<circle cx="121.80" cy="542.34" r="1.4" fill="#ff5ccc"/>
<circle cx="126.60" cy="542.61" r="1.4" fill="#ff5ccc"/>
<circle cx="131.40" cy="542.90" r="1.4" fill="#ff5ccc"/>
<circle cx="136.20" cy="543.20" r="1.4" fill="#ff5ccc"/>
<circle cx="141.00" cy="543.52" r="1.4" fill="#ff5ccc"/>
<circle cx="145.80" cy="543.86" r="1.4" fill="#ff5ccc"/>
<circle cx="150.60" cy="544.22" r="1.4" fill="#ff5ccc"/>
<circle cx="155.40" cy="544.58" r="1.4" fill="#ff5ccc"/>
<circle cx="160.20" cy="544.96" r="1.4" fill="#ff5ccc"/>
<circle cx="165.00" cy="545.35" r="1.4" fill="#ff5ccc"/>
<circle cx="169.80" cy="545.75" r="1.4" fill="#ff5ccc"/>
<circle cx="174.60" cy="546.15" r="1.4" fill="#ff5ccc"/>
<polyline points="30.60,536.06 35.40,536.07 40.20,536.10 45.00,536.16 49.80,536.23 54.60,536.31 59.40,536.42 64.20,536.53 69.00,536.66 73.80,536.80 78.60,536.95 83.40,537.11 88.20,537.27 93.00,537.44 97.80,537.61 102.60,537.78 107.40,537.97 112.20,538.19 117.00,538.44 121.80,538.72 126.60,539.02 131.40,539.34 136.20,539.69 141.00,540.06 145.80,540.44 150.60,540.85 155.40,541.27 160.20,541.70 165.00,542.15 169.80,542.61 174.60,543.08" fill="none" stroke="#787878" stroke-width="0.8"/>
<circle cx="30.60" cy="536.06" r="1.4" fill="#787878"/>
<circle cx="35.40" cy="536.07" r="1.4" fill="#787878"/>
<circle cx="40.20" cy="536.10" r="1.4" fill="#787878"/>
<circle cx="45.00" cy="536.16" r="1.4" fill="#787878"/>
<circle cx="49.80" cy="536.23" r="1.4" fill="#787878"/>
<circle cx="54.60" cy="536.31" r="1.4" fill="#787878"/>
<circle cx="59.40" cy="536.42" r="1.4" fill="#787878"/>
<circle cx="64.20" cy="536.53" r="1.4" fill="#787878"/>
<circle cx="69.00" cy="536.66" r="1.4" fill="#787878"/>
<circle cx="73.80" cy="536.80" r="1.4" fill="#787878"/>
<circle cx="78.60" cy="536.95" r="1.4" fill="#787878"/>
<circle cx="83.40" cy="537.11" r="1.4" fill="#787878"/>
<circle cx="88.20" cy="537.27" r="1.4" fill="#787878"/>
<circle cx="93.00" cy="537.44" r="1.4" fill="#787878"/>
<circle cx="97.80" cy="537.61" r="1.4" fill="#787878"/>
<circle cx="102.60" cy="537.78" r="1.4" fill="#787878"/>
<circle cx="107.40" cy="537.97" r="1.4" fill="#787878"/>
<circle cx="112.20" cy="538.19" r="1.4" fill="#787878"/>
<circle cx="117.00" cy="538.44" r="1.4" fill="#787878"/>
<circle cx="121.80" cy="538.72" r="1.4" fill="#787878"/>
<circle cx="126.60" cy="539.02" r="1.4" fill="#787878"/>
<circle cx="131.40" cy="539.34" r="1.4" fill="#787878"/>
<circle cx="136.20" cy="539.69" r="1.4" fill="#787878"/>
<circle cx="141.00" cy="540.06" r="1.4" fill="#787878"/>
<circle cx="145.80" cy="540.44" r="1.4" fill="#787878"/>
<circle cx="150.60" cy="540.85" r="1.4" fill="#787878"/>
<circle cx="155.40" cy="541.27" r="1.4" fill="#787878"/>
<circle cx="160.20" cy="541.70" r="1.4" fill="#787878"/>
<circle cx="165.00" cy="542.15" r="1.4" fill="#787878"/>
<circle cx="169.80" cy="542.61" r="1.4" fill="#787878"/>
<circle cx="174.60" cy="543.08" r="1.4" fill="#787878"/>
<polyline points="30.60,536.31 35.40,536.32 40.20,536.35 45.00,536.40 49.80,536.47 54.60,536.56 59.40,536.66 64.20,536.77 69.00,536.90 73.80,537.04 78.60,537.19 83.40,537.35 88.20,537.51 93.00,537.68 97.80,537.85 102.60,538.03 107.40,538.23 112.20,538.46 117.00,538.72 121.80,539.02 126.60,539.34 131.40,539.70 136.20,540.08 141.00,540.48 145.80,540.91 150.60,541.35 155.40,541.82 160.20,542.30 165.00,542.79 169.80,543.30 174.60,543.82" fill="none" stroke="#c8c800" stroke-width="0.8"/>
<circle cx="30.60" cy="536.31" r="1.4" fill="#c8c800"/>
<circle cx="35.40" cy="536.32" r="1.4" fill="#c8c800"/>
<circle cx="40.20" cy="536.35" r="1.4" fill="#c8c800"/>
<circle cx="45.00" cy="536.40" r="1.4" fill="#c8c800"/>
<circle cx="49.80" cy="536.47" r="1.4" fill="#c8c800"/>
<circle cx="54.60" cy="536.56" r="1.4" fill="#c8c800"/>
<circle cx="59.40" cy="536.66" r="1.4" fill="#c8c800"/>
<circle cx="64.20" cy="536.77" r="1.4" fill="#c8c800"/>
<circle cx="69.00" cy="536.90" r="1.4" fill="#c8c800"/>
<circle cx="73.80" cy="537.04" r="1.4" fill="#c8c800"/>
<circle cx="78.60" cy="537.19" r="1.4" fill="#c8c800"/>
<circle cx="83.40" cy="537.35" r="1.4" fill="#c8c800"/>
<circle cx="88.20" cy="537.51" r="1.4" fill="#c8c800"/>
<circle cx="93.00" cy="537.68" r="1.4" fill="#c8c800"/>
<circle cx="97.80" cy="537.85" r="1.4" fill="#c8c800"/>
<circle cx="102.60" cy="538.03" r="1.4" fill="#c8c800"/>
<circle cx="107.40" cy="538.23" r="1.4" fill="#c8c800"/>
<circle cx="112.20" cy="538.46" r="1.4" fill="#c8c800"/>
<circle cx="117.00" cy="538.72" r="1.4" fill="#c8c800"/>
<circle cx="121.80" cy="539.02" r="1.4" fill="#c8c800"/>
<circle cx="126.60" cy="539.34" r="1.4" fill="#c8c800"/>
<circle cx="131.40" cy="539.70" r="1.4" fill="#c8c800"/>
<circle cx="136.20" cy="540.08" r="1.4" fill="#c8c800"/>
<circle cx="141.00" cy="540.48" r="1.4" fill="#c8c800"/>
<circle cx="145.80" cy="540.91" r="1.4" fill="#c8c800"/>
<circle cx="150.60" cy="541.35" r="1.4" fill="#c8c800"/>
<circle cx="155.40" cy="541.82" r="1.4" fill="#c8c800"/>
<circle cx="160.20" cy="542.30" r="1.4" fill="#c8c800"/>
<circle cx="165.00" cy="542.79" r="1.4" fill="#c8c800"/>
<circle cx="169.80" cy="543.30" r="1.4" fill="#c8c800"/>
<circle cx="174.60" cy="543.82" r="1.4" fill="#c8c800"/>
</g>
<rect x="23.40" y="503.60" width="158.40" height="105.70" fill="none" stroke="#8a8a8a" stroke-width="0.8"/>
<line x1="205.50" y1="595.48" x2="363.50" y2="595.48" stroke="#d8d8d8" stroke-width="0.65"/>
<line x1="205.50" y1="579.40" x2="363.50" y2="579.40" stroke="#d8d8d8" stroke-width="0.65"/>
<line x1="205.50" y1="563.32" x2="363.50" y2="563.32" stroke="#d8d8d8" stroke-width="0.65"/>
<line x1="205.50" y1="547.24" x2="363.50" y2="547.24" stroke="#d8d8d8" stroke-width="0.65"/>
<line x1="205.50" y1="531.16" x2="363.50" y2="531.16" stroke="#d8d8d8" stroke-width="0.65"/>
<line x1="205.50" y1="515.08" x2="363.50" y2="515.08" stroke="#d8d8d8" stroke-width="0.65"/>
<line x1="212.68" y1="503.60" x2="212.68" y2="609.30" stroke="#d8d8d8" stroke-width="0.65"/>
<line x1="236.62" y1="503.60" x2="236.62" y2="609.30" stroke="#d8d8d8" stroke-width="0.65"/>
<line x1="260.56" y1="503.60" x2="260.56" y2="609.30" stroke="#d8d8d8" stroke-width="0.65"/>
<line x1="284.50" y1="503.60" x2="284.50" y2="609.30" stroke="#d8d8d8" stroke-width="0.65"/>
<line x1="308.44" y1="503.60" x2="308.44" y2="609.30" stroke="#d8d8d8" stroke-width="0.65"/>
<line x1="332.38" y1="503.60" x2="332.38" y2="609.30" stroke="#d8d8d8" stroke-width="0.65"/>
<line x1="356.32" y1="503.60" x2="356.32" y2="609.30" stroke="#d8d8d8" stroke-width="0.65"/>
<line x1="203.90" y1="595.48" x2="205.50" y2="595.48" stroke="#555" stroke-width="0.75"/>
<text x="202.60" y="596.78" font-size="3.65" text-anchor="end" fill="#111" textLength="2.23" lengthAdjust="spacingAndGlyphs" stroke="#111" stroke-width="0.08" >5</text>
<line x1="203.90" y1="579.40" x2="205.50" y2="579.40" stroke="#555" stroke-width="0.75"/>
<text x="202.60" y="580.70" font-size="3.65" text-anchor="end" fill="#111" textLength="4.45" lengthAdjust="spacingAndGlyphs" stroke="#111" stroke-width="0.08" >10</text>
<line x1="203.90" y1="563.32" x2="205.50" y2="563.32" stroke="#555" stroke-width="0.75"/>
<text x="202.60" y="564.62" font-size="3.65" text-anchor="end" fill="#111" textLength="4.45" lengthAdjust="spacingAndGlyphs" stroke="#111" stroke-width="0.08" >15</text>
<line x1="203.90" y1="547.24" x2="205.50" y2="547.24" stroke="#555" stroke-width="0.75"/>
<text x="202.60" y="548.54" font-size="3.65" text-anchor="end" fill="#111" textLength="4.45" lengthAdjust="spacingAndGlyphs" stroke="#111" stroke-width="0.08" >20</text>
<line x1="203.90" y1="531.16" x2="205.50" y2="531.16" stroke="#555" stroke-width="0.75"/>
<text x="202.60" y="532.46" font-size="3.65" text-anchor="end" fill="#111" textLength="4.45" lengthAdjust="spacingAndGlyphs" stroke="#111" stroke-width="0.08" >25</text>
<line x1="203.90" y1="515.08" x2="205.50" y2="515.08" stroke="#555" stroke-width="0.75"/>
<text x="202.60" y="516.38" font-size="3.65" text-anchor="end" fill="#111" textLength="4.45" lengthAdjust="spacingAndGlyphs" stroke="#111" stroke-width="0.08" >30</text>
<text x="284.50" y="501.20" font-size="6.25" text-anchor="middle" fill="#111" textLength="19.09" lengthAdjust="spacingAndGlyphs" stroke="#111" stroke-width="0.13" >MNND</text>
<text x="0" y="0" font-size="6.25" text-anchor="middle" fill="#111" stroke="#111" stroke-width="0.13" textLength="19.09" lengthAdjust="spacingAndGlyphs" transform="translate(195.60,556.45) rotate(-90)">MNND</text>
<line x1="212.68" y1="609.30" x2="212.68" y2="610.90" stroke="#555" stroke-width="0.75"/>
<text x="212.68" y="615.00" font-size="3.65" text-anchor="middle" fill="#111" textLength="2.23" lengthAdjust="spacingAndGlyphs" stroke="#111" stroke-width="0.08" >0</text>
<line x1="236.62" y1="609.30" x2="236.62" y2="610.90" stroke="#555" stroke-width="0.75"/>
<text x="236.62" y="615.00" font-size="3.65" text-anchor="middle" fill="#111" textLength="2.23" lengthAdjust="spacingAndGlyphs" stroke="#111" stroke-width="0.08" >5</text>
<line x1="260.56" y1="609.30" x2="260.56" y2="610.90" stroke="#555" stroke-width="0.75"/>
<text x="260.56" y="615.00" font-size="3.65" text-anchor="middle" fill="#111" textLength="4.45" lengthAdjust="spacingAndGlyphs" stroke="#111" stroke-width="0.08" >10</text>
<line x1="284.50" y1="609.30" x2="284.50" y2="610.90" stroke="#555" stroke-width="0.75"/>
<text x="284.50" y="615.00" font-size="3.65" text-anchor="middle" fill="#111" textLength="4.45" lengthAdjust="spacingAndGlyphs" stroke="#111" stroke-width="0.08" >15</text>
<line x1="308.44" y1="609.30" x2="308.44" y2="610.90" stroke="#555" stroke-width="0.75"/>
<text x="308.44" y="615.00" font-size="3.65" text-anchor="middle" fill="#111" textLength="4.45" lengthAdjust="spacingAndGlyphs" stroke="#111" stroke-width="0.08" >20</text>
<line x1="332.38" y1="609.30" x2="332.38" y2="610.90" stroke="#555" stroke-width="0.75"/>
<text x="332.38" y="615.00" font-size="3.65" text-anchor="middle" fill="#111" textLength="4.45" lengthAdjust="spacingAndGlyphs" stroke="#111" stroke-width="0.08" >25</text>
<line x1="356.32" y1="609.30" x2="356.32" y2="610.90" stroke="#555" stroke-width="0.75"/>
<text x="356.32" y="615.00" font-size="3.65" text-anchor="middle" fill="#111" textLength="4.45" lengthAdjust="spacingAndGlyphs" stroke="#111" stroke-width="0.08" >30</text>
<g clip-path="url(#c4)">
<polyline points="212.68,589.50 217.47,589.15 222.26,588.79 227.05,588.43 231.83,588.07 236.62,587.70 241.41,587.33 246.20,586.96 250.98,586.58 255.77,586.19 260.56,585.80 265.35,585.41 270.14,585.02 274.92,584.62 279.71,584.17 284.50,583.68 289.29,583.08 294.08,582.38 298.86,581.62 303.65,580.85 308.44,580.11 313.23,579.42 318.02,578.76 322.80,578.08 327.59,577.38 332.38,576.60 337.17,575.75 341.95,574.83 346.74,573.85 351.53,572.81 356.32,571.71" fill="none" stroke="#0a72cc" stroke-width="0.8"/>
<circle cx="212.68" cy="589.50" r="1.4" fill="#0a72cc"/>
<circle cx="217.47" cy="589.15" r="1.4" fill="#0a72cc"/>
<circle cx="222.26" cy="588.79" r="1.4" fill="#0a72cc"/>
<circle cx="227.05" cy="588.43" r="1.4" fill="#0a72cc"/>
<circle cx="231.83" cy="588.07" r="1.4" fill="#0a72cc"/>
<circle cx="236.62" cy="587.70" r="1.4" fill="#0a72cc"/>
<circle cx="241.41" cy="587.33" r="1.4" fill="#0a72cc"/>
<circle cx="246.20" cy="586.96" r="1.4" fill="#0a72cc"/>
<circle cx="250.98" cy="586.58" r="1.4" fill="#0a72cc"/>
<circle cx="255.77" cy="586.19" r="1.4" fill="#0a72cc"/>
<circle cx="260.56" cy="585.80" r="1.4" fill="#0a72cc"/>
<circle cx="265.35" cy="585.41" r="1.4" fill="#0a72cc"/>
<circle cx="270.14" cy="585.02" r="1.4" fill="#0a72cc"/>
<circle cx="274.92" cy="584.62" r="1.4" fill="#0a72cc"/>
<circle cx="279.71" cy="584.17" r="1.4" fill="#0a72cc"/>
<circle cx="284.50" cy="583.68" r="1.4" fill="#0a72cc"/>
<circle cx="289.29" cy="583.08" r="1.4" fill="#0a72cc"/>
<circle cx="294.08" cy="582.38" r="1.4" fill="#0a72cc"/>
<circle cx="298.86" cy="581.62" r="1.4" fill="#0a72cc"/>
<circle cx="303.65" cy="580.85" r="1.4" fill="#0a72cc"/>
<circle cx="308.44" cy="580.11" r="1.4" fill="#0a72cc"/>
<circle cx="313.23" cy="579.42" r="1.4" fill="#0a72cc"/>
<circle cx="318.02" cy="578.76" r="1.4" fill="#0a72cc"/>
<circle cx="322.80" cy="578.08" r="1.4" fill="#0a72cc"/>
<circle cx="327.59" cy="577.38" r="1.4" fill="#0a72cc"/>
<circle cx="332.38" cy="576.60" r="1.4" fill="#0a72cc"/>
<circle cx="337.17" cy="575.75" r="1.4" fill="#0a72cc"/>
<circle cx="341.95" cy="574.83" r="1.4" fill="#0a72cc"/>
<circle cx="346.74" cy="573.85" r="1.4" fill="#0a72cc"/>
<circle cx="351.53" cy="572.81" r="1.4" fill="#0a72cc"/>
<circle cx="356.32" cy="571.71" r="1.4" fill="#0a72cc"/>
<polyline points="212.68,574.61 217.47,574.47 222.26,574.33 227.05,574.18 231.83,574.04 236.62,573.90 241.41,573.77 246.20,573.64 250.98,573.51 255.77,573.37 260.56,573.19 265.35,572.97 270.14,572.71 274.92,572.40 279.71,572.05 284.50,571.68 289.29,571.24 294.08,570.73 298.86,570.17 303.65,569.61 308.44,569.11 313.23,568.68 318.02,568.29 322.80,567.91 327.59,567.49 332.38,566.99 337.17,566.37 341.95,565.66 346.74,564.84 351.53,563.95 356.32,563.00" fill="none" stroke="#ff7a0a" stroke-width="0.8"/>
<circle cx="212.68" cy="574.61" r="1.4" fill="#ff7a0a"/>
<circle cx="217.47" cy="574.47" r="1.4" fill="#ff7a0a"/>
<circle cx="222.26" cy="574.33" r="1.4" fill="#ff7a0a"/>
<circle cx="227.05" cy="574.18" r="1.4" fill="#ff7a0a"/>
<circle cx="231.83" cy="574.04" r="1.4" fill="#ff7a0a"/>
<circle cx="236.62" cy="573.90" r="1.4" fill="#ff7a0a"/>
<circle cx="241.41" cy="573.77" r="1.4" fill="#ff7a0a"/>
<circle cx="246.20" cy="573.64" r="1.4" fill="#ff7a0a"/>
<circle cx="250.98" cy="573.51" r="1.4" fill="#ff7a0a"/>
<circle cx="255.77" cy="573.37" r="1.4" fill="#ff7a0a"/>
<circle cx="260.56" cy="573.19" r="1.4" fill="#ff7a0a"/>
<circle cx="265.35" cy="572.97" r="1.4" fill="#ff7a0a"/>
<circle cx="270.14" cy="572.71" r="1.4" fill="#ff7a0a"/>
<circle cx="274.92" cy="572.40" r="1.4" fill="#ff7a0a"/>
<circle cx="279.71" cy="572.05" r="1.4" fill="#ff7a0a"/>
<circle cx="284.50" cy="571.68" r="1.4" fill="#ff7a0a"/>
<circle cx="289.29" cy="571.24" r="1.4" fill="#ff7a0a"/>
<circle cx="294.08" cy="570.73" r="1.4" fill="#ff7a0a"/>
<circle cx="298.86" cy="570.17" r="1.4" fill="#ff7a0a"/>
<circle cx="303.65" cy="569.61" r="1.4" fill="#ff7a0a"/>
<circle cx="308.44" cy="569.11" r="1.4" fill="#ff7a0a"/>
<circle cx="313.23" cy="568.68" r="1.4" fill="#ff7a0a"/>
<circle cx="318.02" cy="568.29" r="1.4" fill="#ff7a0a"/>
<circle cx="322.80" cy="567.91" r="1.4" fill="#ff7a0a"/>
<circle cx="327.59" cy="567.49" r="1.4" fill="#ff7a0a"/>
<circle cx="332.38" cy="566.99" r="1.4" fill="#ff7a0a"/>
<circle cx="337.17" cy="566.37" r="1.4" fill="#ff7a0a"/>
<circle cx="341.95" cy="565.66" r="1.4" fill="#ff7a0a"/>
<circle cx="346.74" cy="564.84" r="1.4" fill="#ff7a0a"/>
<circle cx="351.53" cy="563.95" r="1.4" fill="#ff7a0a"/>
<circle cx="356.32" cy="563.00" r="1.4" fill="#ff7a0a"/>
<polyline points="212.68,603.01 217.47,601.84 222.26,600.67 227.05,599.51 231.83,598.35 236.62,597.18 241.41,596.06 246.20,594.98 250.98,593.88 255.77,592.71 260.56,591.40 265.35,589.69 270.14,587.78 274.92,586.31 279.71,585.55 284.50,584.77 289.29,583.19 294.08,580.91 298.86,578.31 303.65,576.09 308.44,573.10 313.23,569.59 318.02,566.12 322.80,560.62 327.59,556.60 332.38,549.30 337.17,540.90 341.95,529.91 346.74,508.39" fill="none" stroke="#00aa22" stroke-width="0.8"/>
<circle cx="212.68" cy="603.01" r="1.4" fill="#00aa22"/>
<circle cx="217.47" cy="601.84" r="1.4" fill="#00aa22"/>
<circle cx="222.26" cy="600.67" r="1.4" fill="#00aa22"/>
<circle cx="227.05" cy="599.51" r="1.4" fill="#00aa22"/>
<circle cx="231.83" cy="598.35" r="1.4" fill="#00aa22"/>
<circle cx="236.62" cy="597.18" r="1.4" fill="#00aa22"/>
<circle cx="241.41" cy="596.06" r="1.4" fill="#00aa22"/>
<circle cx="246.20" cy="594.98" r="1.4" fill="#00aa22"/>
<circle cx="250.98" cy="593.88" r="1.4" fill="#00aa22"/>
<circle cx="255.77" cy="592.71" r="1.4" fill="#00aa22"/>
<circle cx="260.56" cy="591.40" r="1.4" fill="#00aa22"/>
<circle cx="265.35" cy="589.69" r="1.4" fill="#00aa22"/>
<circle cx="270.14" cy="587.78" r="1.4" fill="#00aa22"/>
<circle cx="274.92" cy="586.31" r="1.4" fill="#00aa22"/>
<circle cx="279.71" cy="585.55" r="1.4" fill="#00aa22"/>
<circle cx="284.50" cy="584.77" r="1.4" fill="#00aa22"/>
<circle cx="289.29" cy="583.19" r="1.4" fill="#00aa22"/>
<circle cx="294.08" cy="580.91" r="1.4" fill="#00aa22"/>
<circle cx="298.86" cy="578.31" r="1.4" fill="#00aa22"/>
<circle cx="303.65" cy="576.09" r="1.4" fill="#00aa22"/>
<circle cx="308.44" cy="573.10" r="1.4" fill="#00aa22"/>
<circle cx="313.23" cy="569.59" r="1.4" fill="#00aa22"/>
<circle cx="318.02" cy="566.12" r="1.4" fill="#00aa22"/>
<circle cx="322.80" cy="560.62" r="1.4" fill="#00aa22"/>
<circle cx="327.59" cy="556.60" r="1.4" fill="#00aa22"/>
<circle cx="332.38" cy="549.30" r="1.4" fill="#00aa22"/>
<circle cx="337.17" cy="540.90" r="1.4" fill="#00aa22"/>
<circle cx="341.95" cy="529.91" r="1.4" fill="#00aa22"/>
<circle cx="346.74" cy="508.39" r="1.4" fill="#00aa22"/>
<polyline points="212.68,604.71 217.47,604.54 222.26,604.36 227.05,604.16 231.83,603.94 236.62,603.71 241.41,603.47 246.20,603.21 250.98,602.93 255.77,602.63 260.56,602.30 265.35,601.93 270.14,601.53 274.92,601.09 279.71,600.61 284.50,600.11 289.29,599.58 294.08,599.00 298.86,598.38 303.65,597.71 308.44,596.99 313.23,596.19 318.02,595.31 322.80,594.35 327.59,593.34 332.38,592.30 337.17,591.20 341.95,590.04 346.74,588.82 351.53,587.55 356.32,586.22" fill="none" stroke="#ff0a0a" stroke-width="0.8"/>
<circle cx="212.68" cy="604.71" r="1.4" fill="#ff0a0a"/>
<circle cx="217.47" cy="604.54" r="1.4" fill="#ff0a0a"/>
<circle cx="222.26" cy="604.36" r="1.4" fill="#ff0a0a"/>
<circle cx="227.05" cy="604.16" r="1.4" fill="#ff0a0a"/>
<circle cx="231.83" cy="603.94" r="1.4" fill="#ff0a0a"/>
<circle cx="236.62" cy="603.71" r="1.4" fill="#ff0a0a"/>
<circle cx="241.41" cy="603.47" r="1.4" fill="#ff0a0a"/>
<circle cx="246.20" cy="603.21" r="1.4" fill="#ff0a0a"/>
<circle cx="250.98" cy="602.93" r="1.4" fill="#ff0a0a"/>
<circle cx="255.77" cy="602.63" r="1.4" fill="#ff0a0a"/>
<circle cx="260.56" cy="602.30" r="1.4" fill="#ff0a0a"/>
<circle cx="265.35" cy="601.93" r="1.4" fill="#ff0a0a"/>
<circle cx="270.14" cy="601.53" r="1.4" fill="#ff0a0a"/>
<circle cx="274.92" cy="601.09" r="1.4" fill="#ff0a0a"/>
<circle cx="279.71" cy="600.61" r="1.4" fill="#ff0a0a"/>
<circle cx="284.50" cy="600.11" r="1.4" fill="#ff0a0a"/>
<circle cx="289.29" cy="599.58" r="1.4" fill="#ff0a0a"/>
<circle cx="294.08" cy="599.00" r="1.4" fill="#ff0a0a"/>
<circle cx="298.86" cy="598.38" r="1.4" fill="#ff0a0a"/>
<circle cx="303.65" cy="597.71" r="1.4" fill="#ff0a0a"/>
<circle cx="308.44" cy="596.99" r="1.4" fill="#ff0a0a"/>
<circle cx="313.23" cy="596.19" r="1.4" fill="#ff0a0a"/>
<circle cx="318.02" cy="595.31" r="1.4" fill="#ff0a0a"/>
<circle cx="322.80" cy="594.35" r="1.4" fill="#ff0a0a"/>
<circle cx="327.59" cy="593.34" r="1.4" fill="#ff0a0a"/>
<circle cx="332.38" cy="592.30" r="1.4" fill="#ff0a0a"/>
<circle cx="337.17" cy="591.20" r="1.4" fill="#ff0a0a"/>
<circle cx="341.95" cy="590.04" r="1.4" fill="#ff0a0a"/>
<circle cx="346.74" cy="588.82" r="1.4" fill="#ff0a0a"/>
<circle cx="351.53" cy="587.55" r="1.4" fill="#ff0a0a"/>
<circle cx="356.32" cy="586.22" r="1.4" fill="#ff0a0a"/>
<polyline points="212.68,593.55 217.47,593.46 222.26,593.34 227.05,593.18 231.83,592.99 236.62,592.78 241.41,592.55 246.20,592.29 250.98,592.03 255.77,591.75 260.56,591.46 265.35,591.13 270.14,590.74 274.92,590.31 279.71,589.84 284.50,589.37 289.29,588.88 294.08,588.36 298.86,587.81 303.65,587.23 308.44,586.64 313.23,586.02 318.02,585.36 322.80,584.69 327.59,583.98 332.38,583.26 337.17,582.51 341.95,581.73 346.74,580.93 351.53,580.10 356.32,579.24" fill="none" stroke="#9d4cd0" stroke-width="0.8"/>
<circle cx="212.68" cy="593.55" r="1.4" fill="#9d4cd0"/>
<circle cx="217.47" cy="593.46" r="1.4" fill="#9d4cd0"/>
<circle cx="222.26" cy="593.34" r="1.4" fill="#9d4cd0"/>
<circle cx="227.05" cy="593.18" r="1.4" fill="#9d4cd0"/>
<circle cx="231.83" cy="592.99" r="1.4" fill="#9d4cd0"/>
<circle cx="236.62" cy="592.78" r="1.4" fill="#9d4cd0"/>
<circle cx="241.41" cy="592.55" r="1.4" fill="#9d4cd0"/>
<circle cx="246.20" cy="592.29" r="1.4" fill="#9d4cd0"/>
<circle cx="250.98" cy="592.03" r="1.4" fill="#9d4cd0"/>
<circle cx="255.77" cy="591.75" r="1.4" fill="#9d4cd0"/>
<circle cx="260.56" cy="591.46" r="1.4" fill="#9d4cd0"/>
<circle cx="265.35" cy="591.13" r="1.4" fill="#9d4cd0"/>
<circle cx="270.14" cy="590.74" r="1.4" fill="#9d4cd0"/>
<circle cx="274.92" cy="590.31" r="1.4" fill="#9d4cd0"/>
<circle cx="279.71" cy="589.84" r="1.4" fill="#9d4cd0"/>
<circle cx="284.50" cy="589.37" r="1.4" fill="#9d4cd0"/>
<circle cx="289.29" cy="588.88" r="1.4" fill="#9d4cd0"/>
<circle cx="294.08" cy="588.36" r="1.4" fill="#9d4cd0"/>
<circle cx="298.86" cy="587.81" r="1.4" fill="#9d4cd0"/>
<circle cx="303.65" cy="587.23" r="1.4" fill="#9d4cd0"/>
<circle cx="308.44" cy="586.64" r="1.4" fill="#9d4cd0"/>
<circle cx="313.23" cy="586.02" r="1.4" fill="#9d4cd0"/>
<circle cx="318.02" cy="585.36" r="1.4" fill="#9d4cd0"/>
<circle cx="322.80" cy="584.69" r="1.4" fill="#9d4cd0"/>
<circle cx="327.59" cy="583.98" r="1.4" fill="#9d4cd0"/>
<circle cx="332.38" cy="583.26" r="1.4" fill="#9d4cd0"/>
<circle cx="337.17" cy="582.51" r="1.4" fill="#9d4cd0"/>
<circle cx="341.95" cy="581.73" r="1.4" fill="#9d4cd0"/>
<circle cx="346.74" cy="580.93" r="1.4" fill="#9d4cd0"/>
<circle cx="351.53" cy="580.10" r="1.4" fill="#9d4cd0"/>
<circle cx="356.32" cy="579.24" r="1.4" fill="#9d4cd0"/>
<polyline points="212.68,593.07 217.47,592.98 222.26,592.85 227.05,592.70 231.83,592.51 236.62,592.30 241.41,592.06 246.20,591.81 250.98,591.54 255.77,591.26 260.56,590.98 265.35,590.65 270.14,590.26 274.92,589.83 279.71,589.36 284.50,588.89 289.29,588.40 294.08,587.88 298.86,587.33 303.65,586.76 308.44,586.15 313.23,585.51 318.02,584.83 322.80,584.12 327.59,583.38 332.38,582.62 337.17,581.83 341.95,581.02 346.74,580.19 351.53,579.32 356.32,578.44" fill="none" stroke="#9a4444" stroke-width="0.8"/>
<circle cx="212.68" cy="593.07" r="1.4" fill="#9a4444"/>
<circle cx="217.47" cy="592.98" r="1.4" fill="#9a4444"/>
<circle cx="222.26" cy="592.85" r="1.4" fill="#9a4444"/>
<circle cx="227.05" cy="592.70" r="1.4" fill="#9a4444"/>
<circle cx="231.83" cy="592.51" r="1.4" fill="#9a4444"/>
<circle cx="236.62" cy="592.30" r="1.4" fill="#9a4444"/>
<circle cx="241.41" cy="592.06" r="1.4" fill="#9a4444"/>
<circle cx="246.20" cy="591.81" r="1.4" fill="#9a4444"/>
<circle cx="250.98" cy="591.54" r="1.4" fill="#9a4444"/>
<circle cx="255.77" cy="591.26" r="1.4" fill="#9a4444"/>
<circle cx="260.56" cy="590.98" r="1.4" fill="#9a4444"/>
<circle cx="265.35" cy="590.65" r="1.4" fill="#9a4444"/>
<circle cx="270.14" cy="590.26" r="1.4" fill="#9a4444"/>
<circle cx="274.92" cy="589.83" r="1.4" fill="#9a4444"/>
<circle cx="279.71" cy="589.36" r="1.4" fill="#9a4444"/>
<circle cx="284.50" cy="588.89" r="1.4" fill="#9a4444"/>
<circle cx="289.29" cy="588.40" r="1.4" fill="#9a4444"/>
<circle cx="294.08" cy="587.88" r="1.4" fill="#9a4444"/>
<circle cx="298.86" cy="587.33" r="1.4" fill="#9a4444"/>
<circle cx="303.65" cy="586.76" r="1.4" fill="#9a4444"/>
<circle cx="308.44" cy="586.15" r="1.4" fill="#9a4444"/>
<circle cx="313.23" cy="585.51" r="1.4" fill="#9a4444"/>
<circle cx="318.02" cy="584.83" r="1.4" fill="#9a4444"/>
<circle cx="322.80" cy="584.12" r="1.4" fill="#9a4444"/>
<circle cx="327.59" cy="583.38" r="1.4" fill="#9a4444"/>
<circle cx="332.38" cy="582.62" r="1.4" fill="#9a4444"/>
<circle cx="337.17" cy="581.83" r="1.4" fill="#9a4444"/>
<circle cx="341.95" cy="581.02" r="1.4" fill="#9a4444"/>
<circle cx="346.74" cy="580.19" r="1.4" fill="#9a4444"/>
<circle cx="351.53" cy="579.32" r="1.4" fill="#9a4444"/>
<circle cx="356.32" cy="578.44" r="1.4" fill="#9a4444"/>
<polyline points="212.68,591.78 217.47,591.45 222.26,591.12 227.05,590.78 231.83,590.43 236.62,590.08 241.41,589.72 246.20,589.36 250.98,588.99 255.77,588.62 260.56,588.25 265.35,587.87 270.14,587.48 274.92,587.10 279.71,586.71 284.50,586.31 289.29,585.93 294.08,585.54 298.86,585.14 303.65,584.70 308.44,584.22 313.23,583.68 318.02,583.07 322.80,582.41 327.59,581.72 332.38,581.01 337.17,580.27 341.95,579.50 346.74,578.70 351.53,577.86 356.32,576.99" fill="none" stroke="#ff5ccc" stroke-width="0.8"/>
<circle cx="212.68" cy="591.78" r="1.4" fill="#ff5ccc"/>
<circle cx="217.47" cy="591.45" r="1.4" fill="#ff5ccc"/>
<circle cx="222.26" cy="591.12" r="1.4" fill="#ff5ccc"/>
<circle cx="227.05" cy="590.78" r="1.4" fill="#ff5ccc"/>
<circle cx="231.83" cy="590.43" r="1.4" fill="#ff5ccc"/>
<circle cx="236.62" cy="590.08" r="1.4" fill="#ff5ccc"/>
<circle cx="241.41" cy="589.72" r="1.4" fill="#ff5ccc"/>
<circle cx="246.20" cy="589.36" r="1.4" fill="#ff5ccc"/>
<circle cx="250.98" cy="588.99" r="1.4" fill="#ff5ccc"/>
<circle cx="255.77" cy="588.62" r="1.4" fill="#ff5ccc"/>
<circle cx="260.56" cy="588.25" r="1.4" fill="#ff5ccc"/>
<circle cx="265.35" cy="587.87" r="1.4" fill="#ff5ccc"/>
<circle cx="270.14" cy="587.48" r="1.4" fill="#ff5ccc"/>
<circle cx="274.92" cy="587.10" r="1.4" fill="#ff5ccc"/>
<circle cx="279.71" cy="586.71" r="1.4" fill="#ff5ccc"/>
<circle cx="284.50" cy="586.31" r="1.4" fill="#ff5ccc"/>
<circle cx="289.29" cy="585.93" r="1.4" fill="#ff5ccc"/>
<circle cx="294.08" cy="585.54" r="1.4" fill="#ff5ccc"/>
<circle cx="298.86" cy="585.14" r="1.4" fill="#ff5ccc"/>
<circle cx="303.65" cy="584.70" r="1.4" fill="#ff5ccc"/>
<circle cx="308.44" cy="584.22" r="1.4" fill="#ff5ccc"/>
<circle cx="313.23" cy="583.68" r="1.4" fill="#ff5ccc"/>
<circle cx="318.02" cy="583.07" r="1.4" fill="#ff5ccc"/>
<circle cx="322.80" cy="582.41" r="1.4" fill="#ff5ccc"/>
<circle cx="327.59" cy="581.72" r="1.4" fill="#ff5ccc"/>
<circle cx="332.38" cy="581.01" r="1.4" fill="#ff5ccc"/>
<circle cx="337.17" cy="580.27" r="1.4" fill="#ff5ccc"/>
<circle cx="341.95" cy="579.50" r="1.4" fill="#ff5ccc"/>
<circle cx="346.74" cy="578.70" r="1.4" fill="#ff5ccc"/>
<circle cx="351.53" cy="577.86" r="1.4" fill="#ff5ccc"/>
<circle cx="356.32" cy="576.99" r="1.4" fill="#ff5ccc"/>
<polyline points="212.68,593.87 217.47,593.78 222.26,593.66 227.05,593.50 231.83,593.31 236.62,593.10 241.41,592.87 246.20,592.61 250.98,592.35 255.77,592.07 260.56,591.78 265.35,591.45 270.14,591.06 274.92,590.63 279.71,590.16 284.50,589.69 289.29,589.20 294.08,588.68 298.86,588.13 303.65,587.56 308.44,586.99 313.23,586.40 318.02,585.80 322.80,585.19 327.59,584.55 332.38,583.90 337.17,583.24 341.95,582.55 346.74,581.85 351.53,581.13 356.32,580.40" fill="none" stroke="#787878" stroke-width="0.8"/>
<circle cx="212.68" cy="593.87" r="1.4" fill="#787878"/>
<circle cx="217.47" cy="593.78" r="1.4" fill="#787878"/>
<circle cx="222.26" cy="593.66" r="1.4" fill="#787878"/>
<circle cx="227.05" cy="593.50" r="1.4" fill="#787878"/>
<circle cx="231.83" cy="593.31" r="1.4" fill="#787878"/>
<circle cx="236.62" cy="593.10" r="1.4" fill="#787878"/>
<circle cx="241.41" cy="592.87" r="1.4" fill="#787878"/>
<circle cx="246.20" cy="592.61" r="1.4" fill="#787878"/>
<circle cx="250.98" cy="592.35" r="1.4" fill="#787878"/>
<circle cx="255.77" cy="592.07" r="1.4" fill="#787878"/>
<circle cx="260.56" cy="591.78" r="1.4" fill="#787878"/>
<circle cx="265.35" cy="591.45" r="1.4" fill="#787878"/>
<circle cx="270.14" cy="591.06" r="1.4" fill="#787878"/>
<circle cx="274.92" cy="590.63" r="1.4" fill="#787878"/>
<circle cx="279.71" cy="590.16" r="1.4" fill="#787878"/>
<circle cx="284.50" cy="589.69" r="1.4" fill="#787878"/>
<circle cx="289.29" cy="589.20" r="1.4" fill="#787878"/>
<circle cx="294.08" cy="588.68" r="1.4" fill="#787878"/>
<circle cx="298.86" cy="588.13" r="1.4" fill="#787878"/>
<circle cx="303.65" cy="587.56" r="1.4" fill="#787878"/>
<circle cx="308.44" cy="586.99" r="1.4" fill="#787878"/>
<circle cx="313.23" cy="586.40" r="1.4" fill="#787878"/>
<circle cx="318.02" cy="585.80" r="1.4" fill="#787878"/>
<circle cx="322.80" cy="585.19" r="1.4" fill="#787878"/>
<circle cx="327.59" cy="584.55" r="1.4" fill="#787878"/>
<circle cx="332.38" cy="583.90" r="1.4" fill="#787878"/>
<circle cx="337.17" cy="583.24" r="1.4" fill="#787878"/>
<circle cx="341.95" cy="582.55" r="1.4" fill="#787878"/>
<circle cx="346.74" cy="581.85" r="1.4" fill="#787878"/>
<circle cx="351.53" cy="581.13" r="1.4" fill="#787878"/>
<circle cx="356.32" cy="580.40" r="1.4" fill="#787878"/>
<polyline points="212.68,592.49 217.47,592.39 222.26,592.25 227.05,592.08 231.83,591.88 236.62,591.66 241.41,591.42 246.20,591.16 250.98,590.88 255.77,590.60 260.56,590.30 265.35,589.97 270.14,589.57 274.92,589.14 279.71,588.68 284.50,588.21 289.29,587.74 294.08,587.26 298.86,586.75 303.65,586.20 308.44,585.61 313.23,584.95 318.02,584.23 322.80,583.46 327.59,582.65 332.38,581.81 337.17,580.95 341.95,580.05 346.74,579.11 351.53,578.13 356.32,577.12" fill="none" stroke="#c8c800" stroke-width="0.8"/>
<circle cx="212.68" cy="592.49" r="1.4" fill="#c8c800"/>
<circle cx="217.47" cy="592.39" r="1.4" fill="#c8c800"/>
<circle cx="222.26" cy="592.25" r="1.4" fill="#c8c800"/>
<circle cx="227.05" cy="592.08" r="1.4" fill="#c8c800"/>
<circle cx="231.83" cy="591.88" r="1.4" fill="#c8c800"/>
<circle cx="236.62" cy="591.66" r="1.4" fill="#c8c800"/>
<circle cx="241.41" cy="591.42" r="1.4" fill="#c8c800"/>
<circle cx="246.20" cy="591.16" r="1.4" fill="#c8c800"/>
<circle cx="250.98" cy="590.88" r="1.4" fill="#c8c800"/>
<circle cx="255.77" cy="590.60" r="1.4" fill="#c8c800"/>
<circle cx="260.56" cy="590.30" r="1.4" fill="#c8c800"/>
<circle cx="265.35" cy="589.97" r="1.4" fill="#c8c800"/>
<circle cx="270.14" cy="589.57" r="1.4" fill="#c8c800"/>
<circle cx="274.92" cy="589.14" r="1.4" fill="#c8c800"/>
<circle cx="279.71" cy="588.68" r="1.4" fill="#c8c800"/>
<circle cx="284.50" cy="588.21" r="1.4" fill="#c8c800"/>
<circle cx="289.29" cy="587.74" r="1.4" fill="#c8c800"/>
<circle cx="294.08" cy="587.26" r="1.4" fill="#c8c800"/>
<circle cx="298.86" cy="586.75" r="1.4" fill="#c8c800"/>
<circle cx="303.65" cy="586.20" r="1.4" fill="#c8c800"/>
<circle cx="308.44" cy="585.61" r="1.4" fill="#c8c800"/>
<circle cx="313.23" cy="584.95" r="1.4" fill="#c8c800"/>
<circle cx="318.02" cy="584.23" r="1.4" fill="#c8c800"/>
<circle cx="322.80" cy="583.46" r="1.4" fill="#c8c800"/>
<circle cx="327.59" cy="582.65" r="1.4" fill="#c8c800"/>
<circle cx="332.38" cy="581.81" r="1.4" fill="#c8c800"/>
<circle cx="337.17" cy="580.95" r="1.4" fill="#c8c800"/>
<circle cx="341.95" cy="580.05" r="1.4" fill="#c8c800"/>
<circle cx="346.74" cy="579.11" r="1.4" fill="#c8c800"/>
<circle cx="351.53" cy="578.13" r="1.4" fill="#c8c800"/>
<circle cx="356.32" cy="577.12" r="1.4" fill="#c8c800"/>
</g>
<rect x="205.50" y="503.60" width="158.00" height="105.70" fill="none" stroke="#8a8a8a" stroke-width="0.8"/>
<line x1="386.50" y1="597.71" x2="544.60" y2="597.71" stroke="#d8d8d8" stroke-width="0.65"/>
<line x1="386.50" y1="577.24" x2="544.60" y2="577.24" stroke="#d8d8d8" stroke-width="0.65"/>
<line x1="386.50" y1="556.77" x2="544.60" y2="556.77" stroke="#d8d8d8" stroke-width="0.65"/>
<line x1="386.50" y1="536.30" x2="544.60" y2="536.30" stroke="#d8d8d8" stroke-width="0.65"/>
<line x1="386.50" y1="515.83" x2="544.60" y2="515.83" stroke="#d8d8d8" stroke-width="0.65"/>
<line x1="393.69" y1="503.60" x2="393.69" y2="609.30" stroke="#d8d8d8" stroke-width="0.65"/>
<line x1="417.64" y1="503.60" x2="417.64" y2="609.30" stroke="#d8d8d8" stroke-width="0.65"/>
<line x1="441.60" y1="503.60" x2="441.60" y2="609.30" stroke="#d8d8d8" stroke-width="0.65"/>
<line x1="465.55" y1="503.60" x2="465.55" y2="609.30" stroke="#d8d8d8" stroke-width="0.65"/>
<line x1="489.50" y1="503.60" x2="489.50" y2="609.30" stroke="#d8d8d8" stroke-width="0.65"/>
<line x1="513.46" y1="503.60" x2="513.46" y2="609.30" stroke="#d8d8d8" stroke-width="0.65"/>
<line x1="537.41" y1="503.60" x2="537.41" y2="609.30" stroke="#d8d8d8" stroke-width="0.65"/>
<line x1="384.90" y1="597.71" x2="386.50" y2="597.71" stroke="#555" stroke-width="0.75"/>
<text x="383.60" y="599.01" font-size="3.65" text-anchor="end" fill="#111" textLength="2.23" lengthAdjust="spacingAndGlyphs" stroke="#111" stroke-width="0.08" >7</text>
<line x1="384.90" y1="577.24" x2="386.50" y2="577.24" stroke="#555" stroke-width="0.75"/>
<text x="383.60" y="578.54" font-size="3.65" text-anchor="end" fill="#111" textLength="2.23" lengthAdjust="spacingAndGlyphs" stroke="#111" stroke-width="0.08" >8</text>
<line x1="384.90" y1="556.77" x2="386.50" y2="556.77" stroke="#555" stroke-width="0.75"/>
<text x="383.60" y="558.07" font-size="3.65" text-anchor="end" fill="#111" textLength="2.23" lengthAdjust="spacingAndGlyphs" stroke="#111" stroke-width="0.08" >9</text>
<line x1="384.90" y1="536.30" x2="386.50" y2="536.30" stroke="#555" stroke-width="0.75"/>
<text x="383.60" y="537.60" font-size="3.65" text-anchor="end" fill="#111" textLength="4.45" lengthAdjust="spacingAndGlyphs" stroke="#111" stroke-width="0.08" >10</text>
<line x1="384.90" y1="515.83" x2="386.50" y2="515.83" stroke="#555" stroke-width="0.75"/>
<text x="383.60" y="517.13" font-size="3.65" text-anchor="end" fill="#111" textLength="4.45" lengthAdjust="spacingAndGlyphs" stroke="#111" stroke-width="0.08" >11</text>
<text x="465.55" y="501.20" font-size="6.25" text-anchor="middle" fill="#111" textLength="50.91" lengthAdjust="spacingAndGlyphs" stroke="#111" stroke-width="0.13" >Dispersion Index</text>
<text x="0" y="0" font-size="6.25" text-anchor="middle" fill="#111" stroke="#111" stroke-width="0.13" textLength="50.91" lengthAdjust="spacingAndGlyphs" transform="translate(376.30,556.45) rotate(-90)">Dispersion Index</text>
<line x1="393.69" y1="609.30" x2="393.69" y2="610.90" stroke="#555" stroke-width="0.75"/>
<text x="393.69" y="615.00" font-size="3.65" text-anchor="middle" fill="#111" textLength="2.23" lengthAdjust="spacingAndGlyphs" stroke="#111" stroke-width="0.08" >0</text>
<line x1="417.64" y1="609.30" x2="417.64" y2="610.90" stroke="#555" stroke-width="0.75"/>
<text x="417.64" y="615.00" font-size="3.65" text-anchor="middle" fill="#111" textLength="2.23" lengthAdjust="spacingAndGlyphs" stroke="#111" stroke-width="0.08" >5</text>
<line x1="441.60" y1="609.30" x2="441.60" y2="610.90" stroke="#555" stroke-width="0.75"/>
<text x="441.60" y="615.00" font-size="3.65" text-anchor="middle" fill="#111" textLength="4.45" lengthAdjust="spacingAndGlyphs" stroke="#111" stroke-width="0.08" >10</text>
<line x1="465.55" y1="609.30" x2="465.55" y2="610.90" stroke="#555" stroke-width="0.75"/>
<text x="465.55" y="615.00" font-size="3.65" text-anchor="middle" fill="#111" textLength="4.45" lengthAdjust="spacingAndGlyphs" stroke="#111" stroke-width="0.08" >15</text>
<line x1="489.50" y1="609.30" x2="489.50" y2="610.90" stroke="#555" stroke-width="0.75"/>
<text x="489.50" y="615.00" font-size="3.65" text-anchor="middle" fill="#111" textLength="4.45" lengthAdjust="spacingAndGlyphs" stroke="#111" stroke-width="0.08" >20</text>
<line x1="513.46" y1="609.30" x2="513.46" y2="610.90" stroke="#555" stroke-width="0.75"/>
<text x="513.46" y="615.00" font-size="3.65" text-anchor="middle" fill="#111" textLength="4.45" lengthAdjust="spacingAndGlyphs" stroke="#111" stroke-width="0.08" >25</text>
<line x1="537.41" y1="609.30" x2="537.41" y2="610.90" stroke="#555" stroke-width="0.75"/>
<text x="537.41" y="615.00" font-size="3.65" text-anchor="middle" fill="#111" textLength="4.45" lengthAdjust="spacingAndGlyphs" stroke="#111" stroke-width="0.08" >30</text>
<g clip-path="url(#c5)">
<polyline points="393.69,539.52 398.48,539.90 403.27,539.52 408.06,540.01 412.85,539.92 417.64,539.43 422.43,540.06 427.22,540.06 432.01,540.10 436.80,539.50 441.60,540.13 446.39,540.32 451.18,539.71 455.97,540.36 460.76,539.84 465.55,540.05 470.34,540.01 475.13,540.06 479.92,540.55 484.71,540.58 489.50,541.45 494.30,541.11 499.09,541.59 503.88,541.71 508.67,542.49 513.46,542.24 518.25,542.37 523.04,543.40 527.83,543.52 532.62,543.67 537.41,543.81" fill="none" stroke="#0a72cc" stroke-width="0.8"/>
<circle cx="393.69" cy="539.52" r="1.4" fill="#0a72cc"/>
<circle cx="398.48" cy="539.90" r="1.4" fill="#0a72cc"/>
<circle cx="403.27" cy="539.52" r="1.4" fill="#0a72cc"/>
<circle cx="408.06" cy="540.01" r="1.4" fill="#0a72cc"/>
<circle cx="412.85" cy="539.92" r="1.4" fill="#0a72cc"/>
<circle cx="417.64" cy="539.43" r="1.4" fill="#0a72cc"/>
<circle cx="422.43" cy="540.06" r="1.4" fill="#0a72cc"/>
<circle cx="427.22" cy="540.06" r="1.4" fill="#0a72cc"/>
<circle cx="432.01" cy="540.10" r="1.4" fill="#0a72cc"/>
<circle cx="436.80" cy="539.50" r="1.4" fill="#0a72cc"/>
<circle cx="441.60" cy="540.13" r="1.4" fill="#0a72cc"/>
<circle cx="446.39" cy="540.32" r="1.4" fill="#0a72cc"/>
<circle cx="451.18" cy="539.71" r="1.4" fill="#0a72cc"/>
<circle cx="455.97" cy="540.36" r="1.4" fill="#0a72cc"/>
<circle cx="460.76" cy="539.84" r="1.4" fill="#0a72cc"/>
<circle cx="465.55" cy="540.05" r="1.4" fill="#0a72cc"/>
<circle cx="470.34" cy="540.01" r="1.4" fill="#0a72cc"/>
<circle cx="475.13" cy="540.06" r="1.4" fill="#0a72cc"/>
<circle cx="479.92" cy="540.55" r="1.4" fill="#0a72cc"/>
<circle cx="484.71" cy="540.58" r="1.4" fill="#0a72cc"/>
<circle cx="489.50" cy="541.45" r="1.4" fill="#0a72cc"/>
<circle cx="494.30" cy="541.11" r="1.4" fill="#0a72cc"/>
<circle cx="499.09" cy="541.59" r="1.4" fill="#0a72cc"/>
<circle cx="503.88" cy="541.71" r="1.4" fill="#0a72cc"/>
<circle cx="508.67" cy="542.49" r="1.4" fill="#0a72cc"/>
<circle cx="513.46" cy="542.24" r="1.4" fill="#0a72cc"/>
<circle cx="518.25" cy="542.37" r="1.4" fill="#0a72cc"/>
<circle cx="523.04" cy="543.40" r="1.4" fill="#0a72cc"/>
<circle cx="527.83" cy="543.52" r="1.4" fill="#0a72cc"/>
<circle cx="532.62" cy="543.67" r="1.4" fill="#0a72cc"/>
<circle cx="537.41" cy="543.81" r="1.4" fill="#0a72cc"/>
<polyline points="393.69,546.69 398.48,546.73 403.27,546.70 408.06,546.48 412.85,546.41 417.64,546.65 422.43,546.69 427.22,546.70 432.01,546.76 436.80,546.75 441.60,546.99 446.39,546.77 451.18,546.52 455.97,546.91 460.76,546.75 465.55,547.15 470.34,546.89 475.13,546.94 479.92,547.11 484.71,547.35 489.50,547.53 494.30,547.62 499.09,547.67 503.88,548.35 508.67,548.62 513.46,548.47 518.25,548.63 523.04,549.14 527.83,549.47 532.62,549.59 537.41,550.21" fill="none" stroke="#ff7a0a" stroke-width="0.8"/>
<circle cx="393.69" cy="546.69" r="1.4" fill="#ff7a0a"/>
<circle cx="398.48" cy="546.73" r="1.4" fill="#ff7a0a"/>
<circle cx="403.27" cy="546.70" r="1.4" fill="#ff7a0a"/>
<circle cx="408.06" cy="546.48" r="1.4" fill="#ff7a0a"/>
<circle cx="412.85" cy="546.41" r="1.4" fill="#ff7a0a"/>
<circle cx="417.64" cy="546.65" r="1.4" fill="#ff7a0a"/>
<circle cx="422.43" cy="546.69" r="1.4" fill="#ff7a0a"/>
<circle cx="427.22" cy="546.70" r="1.4" fill="#ff7a0a"/>
<circle cx="432.01" cy="546.76" r="1.4" fill="#ff7a0a"/>
<circle cx="436.80" cy="546.75" r="1.4" fill="#ff7a0a"/>
<circle cx="441.60" cy="546.99" r="1.4" fill="#ff7a0a"/>
<circle cx="446.39" cy="546.77" r="1.4" fill="#ff7a0a"/>
<circle cx="451.18" cy="546.52" r="1.4" fill="#ff7a0a"/>
<circle cx="455.97" cy="546.91" r="1.4" fill="#ff7a0a"/>
<circle cx="460.76" cy="546.75" r="1.4" fill="#ff7a0a"/>
<circle cx="465.55" cy="547.15" r="1.4" fill="#ff7a0a"/>
<circle cx="470.34" cy="546.89" r="1.4" fill="#ff7a0a"/>
<circle cx="475.13" cy="546.94" r="1.4" fill="#ff7a0a"/>
<circle cx="479.92" cy="547.11" r="1.4" fill="#ff7a0a"/>
<circle cx="484.71" cy="547.35" r="1.4" fill="#ff7a0a"/>
<circle cx="489.50" cy="547.53" r="1.4" fill="#ff7a0a"/>
<circle cx="494.30" cy="547.62" r="1.4" fill="#ff7a0a"/>
<circle cx="499.09" cy="547.67" r="1.4" fill="#ff7a0a"/>
<circle cx="503.88" cy="548.35" r="1.4" fill="#ff7a0a"/>
<circle cx="508.67" cy="548.62" r="1.4" fill="#ff7a0a"/>
<circle cx="513.46" cy="548.47" r="1.4" fill="#ff7a0a"/>
<circle cx="518.25" cy="548.63" r="1.4" fill="#ff7a0a"/>
<circle cx="523.04" cy="549.14" r="1.4" fill="#ff7a0a"/>
<circle cx="527.83" cy="549.47" r="1.4" fill="#ff7a0a"/>
<circle cx="532.62" cy="549.59" r="1.4" fill="#ff7a0a"/>
<circle cx="537.41" cy="550.21" r="1.4" fill="#ff7a0a"/>
<polyline points="393.69,518.09 398.48,518.53 403.27,518.53 408.06,518.82 412.85,519.25 417.64,519.11 422.43,519.11 427.22,518.96 432.01,520.56 436.80,519.84 441.60,519.98 446.39,520.71 451.18,520.13 455.97,520.56 460.76,521.00 465.55,521.60 470.34,522.93 475.13,524.09 479.92,525.75 484.71,526.91 489.50,525.75 494.30,527.41 499.09,529.56 503.88,531.56 508.67,536.54 513.46,542.84 518.25,547.82 523.04,564.42 527.83,604.59" fill="none" stroke="#00aa22" stroke-width="0.8"/>
<circle cx="393.69" cy="518.09" r="1.4" fill="#00aa22"/>
<circle cx="398.48" cy="518.53" r="1.4" fill="#00aa22"/>
<circle cx="403.27" cy="518.53" r="1.4" fill="#00aa22"/>
<circle cx="408.06" cy="518.82" r="1.4" fill="#00aa22"/>
<circle cx="412.85" cy="519.25" r="1.4" fill="#00aa22"/>
<circle cx="417.64" cy="519.11" r="1.4" fill="#00aa22"/>
<circle cx="422.43" cy="519.11" r="1.4" fill="#00aa22"/>
<circle cx="427.22" cy="518.96" r="1.4" fill="#00aa22"/>
<circle cx="432.01" cy="520.56" r="1.4" fill="#00aa22"/>
<circle cx="436.80" cy="519.84" r="1.4" fill="#00aa22"/>
<circle cx="441.60" cy="519.98" r="1.4" fill="#00aa22"/>
<circle cx="446.39" cy="520.71" r="1.4" fill="#00aa22"/>
<circle cx="451.18" cy="520.13" r="1.4" fill="#00aa22"/>
<circle cx="455.97" cy="520.56" r="1.4" fill="#00aa22"/>
<circle cx="460.76" cy="521.00" r="1.4" fill="#00aa22"/>
<circle cx="465.55" cy="521.60" r="1.4" fill="#00aa22"/>
<circle cx="470.34" cy="522.93" r="1.4" fill="#00aa22"/>
<circle cx="475.13" cy="524.09" r="1.4" fill="#00aa22"/>
<circle cx="479.92" cy="525.75" r="1.4" fill="#00aa22"/>
<circle cx="484.71" cy="526.91" r="1.4" fill="#00aa22"/>
<circle cx="489.50" cy="525.75" r="1.4" fill="#00aa22"/>
<circle cx="494.30" cy="527.41" r="1.4" fill="#00aa22"/>
<circle cx="499.09" cy="529.56" r="1.4" fill="#00aa22"/>
<circle cx="503.88" cy="531.56" r="1.4" fill="#00aa22"/>
<circle cx="508.67" cy="536.54" r="1.4" fill="#00aa22"/>
<circle cx="513.46" cy="542.84" r="1.4" fill="#00aa22"/>
<circle cx="518.25" cy="547.82" r="1.4" fill="#00aa22"/>
<circle cx="523.04" cy="564.42" r="1.4" fill="#00aa22"/>
<circle cx="527.83" cy="604.59" r="1.4" fill="#00aa22"/>
<polyline points="393.69,508.64 398.48,508.64 403.27,508.93 408.06,509.07 412.85,509.36 417.64,509.36 422.43,508.20 427.22,508.93 432.01,509.36 436.80,509.65 441.60,509.36 446.39,509.80 451.18,509.65 455.97,510.53 460.76,509.65 465.55,509.98 470.34,509.98 475.13,510.48 479.92,509.48 484.71,511.31 489.50,510.48 494.30,510.31 499.09,511.64 503.88,512.47 508.67,510.48 513.46,511.64 518.25,511.64 523.04,511.97 527.83,512.47 532.62,513.80 537.41,512.80" fill="none" stroke="#ff0a0a" stroke-width="0.8"/>
<circle cx="393.69" cy="508.64" r="1.4" fill="#ff0a0a"/>
<circle cx="398.48" cy="508.64" r="1.4" fill="#ff0a0a"/>
<circle cx="403.27" cy="508.93" r="1.4" fill="#ff0a0a"/>
<circle cx="408.06" cy="509.07" r="1.4" fill="#ff0a0a"/>
<circle cx="412.85" cy="509.36" r="1.4" fill="#ff0a0a"/>
<circle cx="417.64" cy="509.36" r="1.4" fill="#ff0a0a"/>
<circle cx="422.43" cy="508.20" r="1.4" fill="#ff0a0a"/>
<circle cx="427.22" cy="508.93" r="1.4" fill="#ff0a0a"/>
<circle cx="432.01" cy="509.36" r="1.4" fill="#ff0a0a"/>
<circle cx="436.80" cy="509.65" r="1.4" fill="#ff0a0a"/>
<circle cx="441.60" cy="509.36" r="1.4" fill="#ff0a0a"/>
<circle cx="446.39" cy="509.80" r="1.4" fill="#ff0a0a"/>
<circle cx="451.18" cy="509.65" r="1.4" fill="#ff0a0a"/>
<circle cx="455.97" cy="510.53" r="1.4" fill="#ff0a0a"/>
<circle cx="460.76" cy="509.65" r="1.4" fill="#ff0a0a"/>
<circle cx="465.55" cy="509.98" r="1.4" fill="#ff0a0a"/>
<circle cx="470.34" cy="509.98" r="1.4" fill="#ff0a0a"/>
<circle cx="475.13" cy="510.48" r="1.4" fill="#ff0a0a"/>
<circle cx="479.92" cy="509.48" r="1.4" fill="#ff0a0a"/>
<circle cx="484.71" cy="511.31" r="1.4" fill="#ff0a0a"/>
<circle cx="489.50" cy="510.48" r="1.4" fill="#ff0a0a"/>
<circle cx="494.30" cy="510.31" r="1.4" fill="#ff0a0a"/>
<circle cx="499.09" cy="511.64" r="1.4" fill="#ff0a0a"/>
<circle cx="503.88" cy="512.47" r="1.4" fill="#ff0a0a"/>
<circle cx="508.67" cy="510.48" r="1.4" fill="#ff0a0a"/>
<circle cx="513.46" cy="511.64" r="1.4" fill="#ff0a0a"/>
<circle cx="518.25" cy="511.64" r="1.4" fill="#ff0a0a"/>
<circle cx="523.04" cy="511.97" r="1.4" fill="#ff0a0a"/>
<circle cx="527.83" cy="512.47" r="1.4" fill="#ff0a0a"/>
<circle cx="532.62" cy="513.80" r="1.4" fill="#ff0a0a"/>
<circle cx="537.41" cy="512.80" r="1.4" fill="#ff0a0a"/>
<polyline points="393.69,582.43 398.48,582.39 403.27,582.40 408.06,582.55 412.85,582.46 417.64,582.38 422.43,582.69 427.22,582.72 432.01,583.00 436.80,583.06 441.60,583.02 446.39,583.38 451.18,583.20 455.97,583.33 460.76,583.81 465.55,583.61 470.34,584.01 475.13,584.04 479.92,584.28 484.71,584.73 489.50,584.86 494.30,585.18 499.09,585.46 503.88,586.04 508.67,586.22 513.46,586.53 518.25,587.06 523.04,587.54 527.83,588.16 532.62,588.45 537.41,588.97" fill="none" stroke="#9d4cd0" stroke-width="0.8"/>
<circle cx="393.69" cy="582.43" r="1.4" fill="#9d4cd0"/>
<circle cx="398.48" cy="582.39" r="1.4" fill="#9d4cd0"/>
<circle cx="403.27" cy="582.40" r="1.4" fill="#9d4cd0"/>
<circle cx="408.06" cy="582.55" r="1.4" fill="#9d4cd0"/>
<circle cx="412.85" cy="582.46" r="1.4" fill="#9d4cd0"/>
<circle cx="417.64" cy="582.38" r="1.4" fill="#9d4cd0"/>
<circle cx="422.43" cy="582.69" r="1.4" fill="#9d4cd0"/>
<circle cx="427.22" cy="582.72" r="1.4" fill="#9d4cd0"/>
<circle cx="432.01" cy="583.00" r="1.4" fill="#9d4cd0"/>
<circle cx="436.80" cy="583.06" r="1.4" fill="#9d4cd0"/>
<circle cx="441.60" cy="583.02" r="1.4" fill="#9d4cd0"/>
<circle cx="446.39" cy="583.38" r="1.4" fill="#9d4cd0"/>
<circle cx="451.18" cy="583.20" r="1.4" fill="#9d4cd0"/>
<circle cx="455.97" cy="583.33" r="1.4" fill="#9d4cd0"/>
<circle cx="460.76" cy="583.81" r="1.4" fill="#9d4cd0"/>
<circle cx="465.55" cy="583.61" r="1.4" fill="#9d4cd0"/>
<circle cx="470.34" cy="584.01" r="1.4" fill="#9d4cd0"/>
<circle cx="475.13" cy="584.04" r="1.4" fill="#9d4cd0"/>
<circle cx="479.92" cy="584.28" r="1.4" fill="#9d4cd0"/>
<circle cx="484.71" cy="584.73" r="1.4" fill="#9d4cd0"/>
<circle cx="489.50" cy="584.86" r="1.4" fill="#9d4cd0"/>
<circle cx="494.30" cy="585.18" r="1.4" fill="#9d4cd0"/>
<circle cx="499.09" cy="585.46" r="1.4" fill="#9d4cd0"/>
<circle cx="503.88" cy="586.04" r="1.4" fill="#9d4cd0"/>
<circle cx="508.67" cy="586.22" r="1.4" fill="#9d4cd0"/>
<circle cx="513.46" cy="586.53" r="1.4" fill="#9d4cd0"/>
<circle cx="518.25" cy="587.06" r="1.4" fill="#9d4cd0"/>
<circle cx="523.04" cy="587.54" r="1.4" fill="#9d4cd0"/>
<circle cx="527.83" cy="588.16" r="1.4" fill="#9d4cd0"/>
<circle cx="532.62" cy="588.45" r="1.4" fill="#9d4cd0"/>
<circle cx="537.41" cy="588.97" r="1.4" fill="#9d4cd0"/>
<polyline points="393.69,532.35 398.48,532.36 403.27,532.22 408.06,532.32 412.85,532.34 417.64,532.21 422.43,532.76 427.22,532.81 432.01,532.86 436.80,532.96 441.60,533.10 446.39,532.65 451.18,532.84 455.97,533.44 460.76,533.31 465.55,533.55 470.34,533.69 475.13,533.84 479.92,533.85 484.71,534.10 489.50,534.49 494.30,534.85 499.09,535.05 503.88,535.48 508.67,535.53 513.46,535.76 518.25,536.32 523.04,536.86 527.83,537.17 532.62,537.43 537.41,537.67" fill="none" stroke="#9a4444" stroke-width="0.8"/>
<circle cx="393.69" cy="532.35" r="1.4" fill="#9a4444"/>
<circle cx="398.48" cy="532.36" r="1.4" fill="#9a4444"/>
<circle cx="403.27" cy="532.22" r="1.4" fill="#9a4444"/>
<circle cx="408.06" cy="532.32" r="1.4" fill="#9a4444"/>
<circle cx="412.85" cy="532.34" r="1.4" fill="#9a4444"/>
<circle cx="417.64" cy="532.21" r="1.4" fill="#9a4444"/>
<circle cx="422.43" cy="532.76" r="1.4" fill="#9a4444"/>
<circle cx="427.22" cy="532.81" r="1.4" fill="#9a4444"/>
<circle cx="432.01" cy="532.86" r="1.4" fill="#9a4444"/>
<circle cx="436.80" cy="532.96" r="1.4" fill="#9a4444"/>
<circle cx="441.60" cy="533.10" r="1.4" fill="#9a4444"/>
<circle cx="446.39" cy="532.65" r="1.4" fill="#9a4444"/>
<circle cx="451.18" cy="532.84" r="1.4" fill="#9a4444"/>
<circle cx="455.97" cy="533.44" r="1.4" fill="#9a4444"/>
<circle cx="460.76" cy="533.31" r="1.4" fill="#9a4444"/>
<circle cx="465.55" cy="533.55" r="1.4" fill="#9a4444"/>
<circle cx="470.34" cy="533.69" r="1.4" fill="#9a4444"/>
<circle cx="475.13" cy="533.84" r="1.4" fill="#9a4444"/>
<circle cx="479.92" cy="533.85" r="1.4" fill="#9a4444"/>
<circle cx="484.71" cy="534.10" r="1.4" fill="#9a4444"/>
<circle cx="489.50" cy="534.49" r="1.4" fill="#9a4444"/>
<circle cx="494.30" cy="534.85" r="1.4" fill="#9a4444"/>
<circle cx="499.09" cy="535.05" r="1.4" fill="#9a4444"/>
<circle cx="503.88" cy="535.48" r="1.4" fill="#9a4444"/>
<circle cx="508.67" cy="535.53" r="1.4" fill="#9a4444"/>
<circle cx="513.46" cy="535.76" r="1.4" fill="#9a4444"/>
<circle cx="518.25" cy="536.32" r="1.4" fill="#9a4444"/>
<circle cx="523.04" cy="536.86" r="1.4" fill="#9a4444"/>
<circle cx="527.83" cy="537.17" r="1.4" fill="#9a4444"/>
<circle cx="532.62" cy="537.43" r="1.4" fill="#9a4444"/>
<circle cx="537.41" cy="537.67" r="1.4" fill="#9a4444"/>
<polyline points="393.69,552.57 398.48,552.62 403.27,552.49 408.06,552.66 412.85,552.75 417.64,552.64 422.43,552.62 427.22,552.98 432.01,552.92 436.80,553.15 441.60,553.09 446.39,553.33 451.18,553.59 455.97,553.74 460.76,553.96 465.55,553.91 470.34,554.10 475.13,554.36 479.92,554.47 484.71,554.69 489.50,554.73 494.30,555.23 499.09,555.14 503.88,555.62 508.67,555.85 513.46,556.20 518.25,556.35 523.04,556.67 527.83,557.10 532.62,557.46 537.41,557.70" fill="none" stroke="#ff5ccc" stroke-width="0.8"/>
<circle cx="393.69" cy="552.57" r="1.4" fill="#ff5ccc"/>
<circle cx="398.48" cy="552.62" r="1.4" fill="#ff5ccc"/>
<circle cx="403.27" cy="552.49" r="1.4" fill="#ff5ccc"/>
<circle cx="408.06" cy="552.66" r="1.4" fill="#ff5ccc"/>
<circle cx="412.85" cy="552.75" r="1.4" fill="#ff5ccc"/>
<circle cx="417.64" cy="552.64" r="1.4" fill="#ff5ccc"/>
<circle cx="422.43" cy="552.62" r="1.4" fill="#ff5ccc"/>
<circle cx="427.22" cy="552.98" r="1.4" fill="#ff5ccc"/>
<circle cx="432.01" cy="552.92" r="1.4" fill="#ff5ccc"/>
<circle cx="436.80" cy="553.15" r="1.4" fill="#ff5ccc"/>
<circle cx="441.60" cy="553.09" r="1.4" fill="#ff5ccc"/>
<circle cx="446.39" cy="553.33" r="1.4" fill="#ff5ccc"/>
<circle cx="451.18" cy="553.59" r="1.4" fill="#ff5ccc"/>
<circle cx="455.97" cy="553.74" r="1.4" fill="#ff5ccc"/>
<circle cx="460.76" cy="553.96" r="1.4" fill="#ff5ccc"/>
<circle cx="465.55" cy="553.91" r="1.4" fill="#ff5ccc"/>
<circle cx="470.34" cy="554.10" r="1.4" fill="#ff5ccc"/>
<circle cx="475.13" cy="554.36" r="1.4" fill="#ff5ccc"/>
<circle cx="479.92" cy="554.47" r="1.4" fill="#ff5ccc"/>
<circle cx="484.71" cy="554.69" r="1.4" fill="#ff5ccc"/>
<circle cx="489.50" cy="554.73" r="1.4" fill="#ff5ccc"/>
<circle cx="494.30" cy="555.23" r="1.4" fill="#ff5ccc"/>
<circle cx="499.09" cy="555.14" r="1.4" fill="#ff5ccc"/>
<circle cx="503.88" cy="555.62" r="1.4" fill="#ff5ccc"/>
<circle cx="508.67" cy="555.85" r="1.4" fill="#ff5ccc"/>
<circle cx="513.46" cy="556.20" r="1.4" fill="#ff5ccc"/>
<circle cx="518.25" cy="556.35" r="1.4" fill="#ff5ccc"/>
<circle cx="523.04" cy="556.67" r="1.4" fill="#ff5ccc"/>
<circle cx="527.83" cy="557.10" r="1.4" fill="#ff5ccc"/>
<circle cx="532.62" cy="557.46" r="1.4" fill="#ff5ccc"/>
<circle cx="537.41" cy="557.70" r="1.4" fill="#ff5ccc"/>
<polyline points="393.69,571.98 398.48,572.17 403.27,572.05 408.06,571.98 412.85,572.21 417.64,572.35 422.43,572.39 427.22,572.25 432.01,572.33 436.80,572.27 441.60,572.39 446.39,572.71 451.18,572.81 455.97,572.87 460.76,572.98 465.55,572.86 470.34,572.90 475.13,573.01 479.92,573.42 484.71,573.34 489.50,573.76 494.30,573.93 499.09,574.03 503.88,574.54 508.67,574.80 513.46,574.77 518.25,575.28 523.04,575.54 527.83,575.76 532.62,576.03 537.41,576.62" fill="none" stroke="#787878" stroke-width="0.8"/>
<circle cx="393.69" cy="571.98" r="1.4" fill="#787878"/>
<circle cx="398.48" cy="572.17" r="1.4" fill="#787878"/>
<circle cx="403.27" cy="572.05" r="1.4" fill="#787878"/>
<circle cx="408.06" cy="571.98" r="1.4" fill="#787878"/>
<circle cx="412.85" cy="572.21" r="1.4" fill="#787878"/>
<circle cx="417.64" cy="572.35" r="1.4" fill="#787878"/>
<circle cx="422.43" cy="572.39" r="1.4" fill="#787878"/>
<circle cx="427.22" cy="572.25" r="1.4" fill="#787878"/>
<circle cx="432.01" cy="572.33" r="1.4" fill="#787878"/>
<circle cx="436.80" cy="572.27" r="1.4" fill="#787878"/>
<circle cx="441.60" cy="572.39" r="1.4" fill="#787878"/>
<circle cx="446.39" cy="572.71" r="1.4" fill="#787878"/>
<circle cx="451.18" cy="572.81" r="1.4" fill="#787878"/>
<circle cx="455.97" cy="572.87" r="1.4" fill="#787878"/>
<circle cx="460.76" cy="572.98" r="1.4" fill="#787878"/>
<circle cx="465.55" cy="572.86" r="1.4" fill="#787878"/>
<circle cx="470.34" cy="572.90" r="1.4" fill="#787878"/>
<circle cx="475.13" cy="573.01" r="1.4" fill="#787878"/>
<circle cx="479.92" cy="573.42" r="1.4" fill="#787878"/>
<circle cx="484.71" cy="573.34" r="1.4" fill="#787878"/>
<circle cx="489.50" cy="573.76" r="1.4" fill="#787878"/>
<circle cx="494.30" cy="573.93" r="1.4" fill="#787878"/>
<circle cx="499.09" cy="574.03" r="1.4" fill="#787878"/>
<circle cx="503.88" cy="574.54" r="1.4" fill="#787878"/>
<circle cx="508.67" cy="574.80" r="1.4" fill="#787878"/>
<circle cx="513.46" cy="574.77" r="1.4" fill="#787878"/>
<circle cx="518.25" cy="575.28" r="1.4" fill="#787878"/>
<circle cx="523.04" cy="575.54" r="1.4" fill="#787878"/>
<circle cx="527.83" cy="575.76" r="1.4" fill="#787878"/>
<circle cx="532.62" cy="576.03" r="1.4" fill="#787878"/>
<circle cx="537.41" cy="576.62" r="1.4" fill="#787878"/>
<polyline points="393.69,534.96 398.48,535.12 403.27,534.96 408.06,535.05 412.85,535.15 417.64,535.20 422.43,535.18 427.22,535.14 432.01,535.30 436.80,535.23 441.60,535.38 446.39,535.52 451.18,535.47 455.97,535.47 460.76,535.79 465.55,535.72 470.34,535.82 475.13,535.79 479.92,535.97 484.71,536.45 489.50,536.53 494.30,536.91 499.09,537.49 503.88,537.81 508.67,538.38 513.46,538.55 518.25,539.09 523.04,539.49 527.83,540.04 532.62,540.61 537.41,541.12" fill="none" stroke="#c8c800" stroke-width="0.8"/>
<circle cx="393.69" cy="534.96" r="1.4" fill="#c8c800"/>
<circle cx="398.48" cy="535.12" r="1.4" fill="#c8c800"/>
<circle cx="403.27" cy="534.96" r="1.4" fill="#c8c800"/>
<circle cx="408.06" cy="535.05" r="1.4" fill="#c8c800"/>
<circle cx="412.85" cy="535.15" r="1.4" fill="#c8c800"/>
<circle cx="417.64" cy="535.20" r="1.4" fill="#c8c800"/>
<circle cx="422.43" cy="535.18" r="1.4" fill="#c8c800"/>
<circle cx="427.22" cy="535.14" r="1.4" fill="#c8c800"/>
<circle cx="432.01" cy="535.30" r="1.4" fill="#c8c800"/>
<circle cx="436.80" cy="535.23" r="1.4" fill="#c8c800"/>
<circle cx="441.60" cy="535.38" r="1.4" fill="#c8c800"/>
<circle cx="446.39" cy="535.52" r="1.4" fill="#c8c800"/>
<circle cx="451.18" cy="535.47" r="1.4" fill="#c8c800"/>
<circle cx="455.97" cy="535.47" r="1.4" fill="#c8c800"/>
<circle cx="460.76" cy="535.79" r="1.4" fill="#c8c800"/>
<circle cx="465.55" cy="535.72" r="1.4" fill="#c8c800"/>
<circle cx="470.34" cy="535.82" r="1.4" fill="#c8c800"/>
<circle cx="475.13" cy="535.79" r="1.4" fill="#c8c800"/>
<circle cx="479.92" cy="535.97" r="1.4" fill="#c8c800"/>
<circle cx="484.71" cy="536.45" r="1.4" fill="#c8c800"/>
<circle cx="489.50" cy="536.53" r="1.4" fill="#c8c800"/>
<circle cx="494.30" cy="536.91" r="1.4" fill="#c8c800"/>
<circle cx="499.09" cy="537.49" r="1.4" fill="#c8c800"/>
<circle cx="503.88" cy="537.81" r="1.4" fill="#c8c800"/>
<circle cx="508.67" cy="538.38" r="1.4" fill="#c8c800"/>
<circle cx="513.46" cy="538.55" r="1.4" fill="#c8c800"/>
<circle cx="518.25" cy="539.09" r="1.4" fill="#c8c800"/>
<circle cx="523.04" cy="539.49" r="1.4" fill="#c8c800"/>
<circle cx="527.83" cy="540.04" r="1.4" fill="#c8c800"/>
<circle cx="532.62" cy="540.61" r="1.4" fill="#c8c800"/>
<circle cx="537.41" cy="541.12" r="1.4" fill="#c8c800"/>
</g>
<rect x="386.50" y="503.60" width="158.10" height="105.70" fill="none" stroke="#8a8a8a" stroke-width="0.8"/>
<text x="274.50" y="626.80" font-size="6.60" text-anchor="middle" fill="#111" textLength="86.57" lengthAdjust="spacingAndGlyphs" stroke="#111" stroke-width="0.16" >Number of Removed Spots</text>
</svg></body></html>
